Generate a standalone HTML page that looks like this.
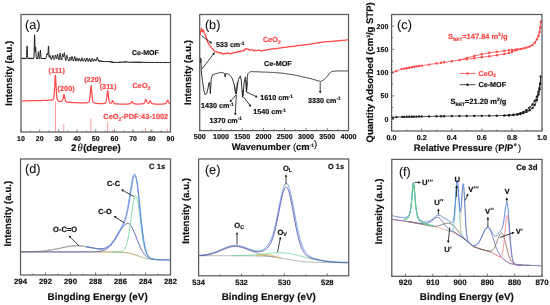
<!DOCTYPE html>
<html><head><meta charset="utf-8"><style>
html,body{margin:0;padding:0;background:#fff;}
svg{display:block;will-change:transform;}
text{font-family:"Liberation Sans", sans-serif;text-rendering:geometricPrecision;}
</style></head><body>
<svg width="550" height="305" viewBox="0 0 550 305" font-family='"Liberation Sans", sans-serif'>
<rect width="550" height="305" fill="#fff"/>
<line x1="55.5" y1="132" x2="55.5" y2="101.5" stroke="#ff7a7a" stroke-width="0.75" />
<line x1="63.8" y1="132" x2="63.8" y2="123.9" stroke="#ff7a7a" stroke-width="0.75" />
<line x1="90.9" y1="132" x2="90.9" y2="118.5" stroke="#ff7a7a" stroke-width="0.75" />
<line x1="107.6" y1="132" x2="107.6" y2="122.2" stroke="#ff7a7a" stroke-width="0.75" />
<line x1="112.6" y1="132" x2="112.6" y2="129.8" stroke="#ff7a7a" stroke-width="0.75" />
<line x1="132.8" y1="132" x2="132.8" y2="130.3" stroke="#ff7a7a" stroke-width="0.75" />
<line x1="145.6" y1="132" x2="145.6" y2="128.1" stroke="#ff7a7a" stroke-width="0.75" />
<line x1="150.4" y1="132" x2="150.4" y2="129.8" stroke="#ff7a7a" stroke-width="0.75" />
<line x1="167.4" y1="132" x2="167.4" y2="129" stroke="#ff7a7a" stroke-width="0.75" />
<path d="M21.5,58.04 L21.62,58.35 L21.75,58.18 L21.87,58.41 L22,58.43 L22.12,57.87 L22.25,57.82 L22.37,58.65 L22.49,58.07 L22.62,58.05 L22.74,58.81 L22.87,58.29 L22.99,58.65 L23.11,58.29 L23.24,58.46 L23.36,57.97 L23.49,58.46 L23.61,58.69 L23.73,58.35 L23.86,58.57 L23.98,58.5 L24.11,57.89 L24.23,58.59 L24.36,58.42 L24.48,58.13 L24.6,57.86 L24.73,58.7 L24.85,58.3 L24.98,58.55 L25.1,58.71 L25.23,58.55 L25.35,58.76 L25.47,58.23 L25.6,58.64 L25.72,58.28 L25.85,58.77 L25.97,58.71 L26.09,57.9 L26.22,57.81 L26.34,57.55 L26.47,57.48 L26.59,55.36 L26.71,53.05 L26.84,49.69 L26.96,47.22 L27.09,45.9 L27.21,46.68 L27.34,49.37 L27.46,52.43 L27.58,55.4 L27.71,56.96 L27.83,58.16 L27.96,58.5 L28.08,58.79 L28.2,58.52 L28.33,58.02 L28.45,58.72 L28.58,58.83 L28.7,58.77 L28.83,58.43 L28.95,58.58 L29.07,58.08 L29.2,58.7 L29.32,58.44 L29.45,58.16 L29.57,57.93 L29.7,58.73 L29.82,58.86 L29.94,57.96 L30.07,58.68 L30.19,58.29 L30.32,58.03 L30.44,58.17 L30.56,58.65 L30.69,58.75 L30.81,57.93 L30.94,58.5 L31.06,57.93 L31.19,58.6 L31.31,58.22 L31.43,58.77 L31.56,58.87 L31.68,58.39 L31.81,58.89 L31.93,58.2 L32.05,57.97 L32.18,58.49 L32.3,57.93 L32.43,58.09 L32.55,58.3 L32.67,58.51 L32.8,58.05 L32.92,57.94 L33.05,58.77 L33.17,58.22 L33.3,58.86 L33.42,58.8 L33.54,58.26 L33.67,58.27 L33.79,58.05 L33.92,57.33 L34.04,55.24 L34.16,51.29 L34.29,45.56 L34.41,39.62 L34.54,34.98 L34.66,34.83 L34.79,39.09 L34.91,44.37 L35.03,49.16 L35.16,51.91 L35.28,50.97 L35.41,49.22 L35.53,47.2 L35.66,47.58 L35.78,49.36 L35.9,51.39 L36.03,54.58 L36.15,56.54 L36.28,57.12 L36.4,58.24 L36.52,58.3 L36.65,58.59 L36.77,58.28 L36.9,58.64 L37.02,58.67 L37.14,57.96 L37.27,57.99 L37.39,58.59 L37.52,58.81 L37.64,57.92 L37.77,57.7 L37.89,56.99 L38.01,55.4 L38.14,53.83 L38.26,52.36 L38.39,51.78 L38.51,52.43 L38.64,53.43 L38.76,55.13 L38.88,56.93 L39.01,57.13 L39.13,58.18 L39.26,58.57 L39.38,58.21 L39.5,58.07 L39.63,58.46 L39.75,57.39 L39.88,56.34 L40,54.98 L40.12,53.23 L40.25,50.78 L40.37,50.05 L40.5,50.46 L40.62,52.51 L40.75,54.15 L40.87,56.4 L40.99,56.97 L41.12,57.83 L41.24,58.46 L41.37,58.81 L41.49,58.41 L41.61,58.19 L41.74,58.09 L41.86,58.5 L41.99,58.17 L42.11,58.78 L42.24,58.82 L42.36,58.16 L42.48,58.26 L42.61,58.79 L42.73,58.62 L42.86,58.79 L42.98,58.33 L43.11,58.11 L43.23,58.28 L43.35,58.78 L43.48,58.26 L43.6,58.33 L43.73,58.41 L43.85,58.41 L43.97,58.4 L44.1,58.91 L44.22,58.15 L44.35,58 L44.47,58.94 L44.59,58.88 L44.72,58.98 L44.84,58.43 L44.97,58.94 L45.09,58.93 L45.22,58.23 L45.34,58.74 L45.46,58.81 L45.59,58.59 L45.71,58.35 L45.84,57.98 L45.96,57.8 L46.09,57.37 L46.21,56.8 L46.33,56.79 L46.46,55.88 L46.58,55.73 L46.71,54.29 L46.83,54.52 L46.95,53.81 L47.08,53.72 L47.2,53.6 L47.33,53.74 L47.45,53.77 L47.58,53.7 L47.7,54.93 L47.82,54.58 L47.95,54.26 L48.07,53.09 L48.2,50.34 L48.32,47.31 L48.44,45.98 L48.57,45.98 L48.69,48.14 L48.82,51.41 L48.94,54.95 L49.06,56.34 L49.19,57.32 L49.31,56.83 L49.44,56.28 L49.56,56.14 L49.69,56.01 L49.81,55.12 L49.93,55.7 L50.06,56.03 L50.18,56.29 L50.31,56.83 L50.43,56.59 L50.55,57.77 L50.68,58.49 L50.8,58.07 L50.93,58.59 L51.05,58.79 L51.18,59.18 L51.3,59.14 L51.42,59.22 L51.55,59.5 L51.67,58.66 L51.8,58.57 L51.92,58.42 L52.05,58.08 L52.17,57.58 L52.29,57.95 L52.42,57.23 L52.54,55.87 L52.67,55.8 L52.79,55.3 L52.91,55.22 L53.04,55.42 L53.16,56.11 L53.29,56.6 L53.41,57 L53.53,57.46 L53.66,58.15 L53.78,58.39 L53.91,59.14 L54.03,59.51 L54.16,59.26 L54.28,58.95 L54.4,58.92 L54.53,58.86 L54.65,58.7 L54.78,58.35 L54.9,57.31 L55.02,57.02 L55.15,56.15 L55.27,55.39 L55.4,54.96 L55.52,55 L55.65,55.41 L55.77,55.59 L55.89,56.5 L56.02,56.98 L56.14,57.44 L56.27,58.29 L56.39,58.82 L56.52,58.35 L56.64,58.63 L56.76,58.31 L56.89,58.23 L57.01,57.59 L57.14,56.24 L57.26,56 L57.38,55.26 L57.51,54.35 L57.63,54.48 L57.76,54.4 L57.88,55.64 L58.01,56.23 L58.13,57.29 L58.25,58 L58.38,58.59 L58.5,59.21 L58.63,59.44 L58.75,59.21 L58.87,59.79 L59,59.15 L59.12,59.07 L59.25,59.32 L59.37,58.01 L59.49,57.3 L59.62,56.4 L59.74,56.2 L59.87,54.56 L59.99,53.66 L60.12,54.03 L60.24,53.25 L60.36,54.3 L60.49,54.81 L60.61,55.88 L60.74,56.99 L60.86,57.58 L60.98,58.63 L61.11,58.52 L61.23,59.7 L61.36,59.69 L61.48,59.96 L61.61,59.23 L61.73,59.56 L61.85,59.24 L61.98,57.68 L62.1,57.09 L62.23,56.4 L62.35,55.76 L62.48,54.43 L62.6,53.89 L62.72,53.83 L62.85,54.44 L62.97,55.11 L63.1,55.47 L63.22,56.18 L63.34,56.8 L63.47,57.06 L63.59,57.07 L63.72,56.31 L63.84,56 L63.97,55.56 L64.09,54.08 L64.21,53.68 L64.34,52.68 L64.46,53.24 L64.59,53.77 L64.71,54.52 L64.83,55.42 L64.96,56.53 L65.08,57.77 L65.21,58.95 L65.33,58.92 L65.45,59.37 L65.58,60.33 L65.7,60.64 L65.83,60.22 L65.95,59.97 L66.08,59.92 L66.2,58.91 L66.32,58.36 L66.45,57.55 L66.57,57.16 L66.7,56.17 L66.82,55.54 L66.94,55.72 L67.07,56.01 L67.19,55.69 L67.32,56.69 L67.44,57.15 L67.57,58.39 L67.69,58.87 L67.81,59.19 L67.94,59.65 L68.06,59.82 L68.19,60.51 L68.31,60.57 L68.44,60.43 L68.56,60.64 L68.68,60.57 L68.81,60.94 L68.93,60.15 L69.06,60.74 L69.18,59.87 L69.3,59.52 L69.43,58.84 L69.55,58.62 L69.68,58.05 L69.8,57.35 L69.92,57.02 L70.05,57.24 L70.17,57.59 L70.3,57.55 L70.42,58.43 L70.55,59.24 L70.67,59.28 L70.79,59.47 L70.92,59.74 L71.04,60.31 L71.17,60.15 L71.29,60.12 L71.41,59.54 L71.54,58.32 L71.66,57.61 L71.79,57.05 L71.91,56.49 L72.04,56.74 L72.16,56.89 L72.28,57.2 L72.41,57.05 L72.53,58.3 L72.66,58.44 L72.78,59.2 L72.91,60.06 L73.03,59.85 L73.15,60.15 L73.28,61.07 L73.4,60.58 L73.53,60.6 L73.65,60.65 L73.77,60.45 L73.9,59.36 L74.02,59.14 L74.15,58.6 L74.27,57.97 L74.4,57.07 L74.52,56.97 L74.64,57.08 L74.77,56.53 L74.89,56.97 L75.02,57.05 L75.14,57.84 L75.26,58.91 L75.39,59 L75.51,60.3 L75.64,60.71 L75.76,60.14 L75.88,61.08 L76.01,60.46 L76.13,60.67 L76.26,60.34 L76.38,59.48 L76.51,59.39 L76.63,58.91 L76.75,58.66 L76.88,57.86 L77,58.25 L77.13,58.57 L77.25,58.56 L77.38,58.83 L77.5,58.89 L77.62,59.74 L77.75,60.03 L77.87,60.74 L78,60.94 L78.12,60.98 L78.24,60.66 L78.37,61.09 L78.49,60.96 L78.62,60.29 L78.74,60.7 L78.87,60.09 L78.99,59.12 L79.11,59.49 L79.24,58.32 L79.36,58.24 L79.49,58.52 L79.61,58.47 L79.73,58.67 L79.86,59.13 L79.98,59.38 L80.11,59.68 L80.23,59.95 L80.35,60.17 L80.48,61.06 L80.6,61.24 L80.73,61.08 L80.85,61.23 L80.98,60.71 L81.1,60.38 L81.22,60.14 L81.35,60.19 L81.47,58.84 L81.6,58.78 L81.72,58.05 L81.84,58.23 L81.97,57.66 L82.09,57.7 L82.22,58.03 L82.34,58.59 L82.47,59.34 L82.59,59.45 L82.71,60.44 L82.84,60.11 L82.96,60.58 L83.09,60.6 L83.21,60.72 L83.34,61.39 L83.46,61.26 L83.58,60.54 L83.71,60.28 L83.83,60.17 L83.96,60.09 L84.08,59.75 L84.2,59.29 L84.33,58.85 L84.45,58.26 L84.58,58.53 L84.7,58.52 L84.83,59.18 L84.95,59.62 L85.07,59.68 L85.2,60.13 L85.32,60.99 L85.45,60.49 L85.57,61.42 L85.69,61.58 L85.82,61.62 L85.94,60.94 L86.07,60.9 L86.19,60.61 L86.31,60.25 L86.44,60.1 L86.56,59.29 L86.69,58.41 L86.81,58.59 L86.94,58.01 L87.06,58.13 L87.18,58.46 L87.31,58.12 L87.43,59.38 L87.56,59.8 L87.68,60.13 L87.81,60.59 L87.93,60.85 L88.05,60.81 L88.18,61.27 L88.3,60.81 L88.43,61.22 L88.55,61.22 L88.67,60.78 L88.8,60.58 L88.92,60.6 L89.05,60.12 L89.17,58.97 L89.3,59.31 L89.42,58.96 L89.54,58.36 L89.67,58.82 L89.79,58.98 L89.92,59.2 L90.04,60.08 L90.16,60.86 L90.29,60.59 L90.41,61.4 L90.54,61.4 L90.66,60.92 L90.78,61.65 L90.91,61.31 L91.03,61.46 L91.16,60.99 L91.28,60.66 L91.41,59.84 L91.53,59.83 L91.65,59.51 L91.78,59.06 L91.9,58.4 L92.03,58.66 L92.15,58.51 L92.28,58.42 L92.4,58.76 L92.52,59.24 L92.65,59.81 L92.77,60.15 L92.9,60.79 L93.02,61.2 L93.14,61.17 L93.27,61.09 L93.39,61.28 L93.52,60.83 L93.64,60.8 L93.77,60.83 L93.89,60.16 L94.01,59.59 L94.14,59.96 L94.26,59.48 L94.39,58.93 L94.51,58.87 L94.63,59.1 L94.76,59.37 L94.88,59.29 L95.01,59.41 L95.13,59.95 L95.25,60.82 L95.38,60.42 L95.5,60.92 L95.63,60.77 L95.75,60.85 L95.88,60.84 L96,61.06 L96.12,60.77 L96.25,60.5 L96.37,60.38 L96.5,60.11 L96.62,59.99 L96.75,59 L96.87,58.33 L96.99,58.15 L97.12,57.62 L97.24,57.64 L97.37,56.99 L97.49,57.61 L97.61,58.09 L97.74,58.32 L97.86,59.87 L97.99,59.67 L98.11,59.97 L98.23,60.65 L98.36,60.53 L98.48,61.09 L98.61,60.87 L98.73,60.68 L98.86,60.61 L98.98,61.29 L99.1,60.83 L99.23,61.33 L99.35,61 L99.48,61.46 L99.6,60.82 L99.72,60.77 L99.85,60.77 L99.97,61.32 L100.1,61.1 L100.22,60.91 L100.35,60.75 L100.47,61.17 L100.59,61.38 L100.72,61.13 L100.84,60.73 L100.97,60.75 L101.09,60.81 L101.22,60.87 L101.34,60.79 L101.46,60.81 L101.59,61.25 L101.71,61.43 L101.84,60.95 L101.96,61.5 L102.08,61.16 L102.21,61.4 L102.33,61.49 L102.46,61.52 L102.58,60.9 L102.7,61.1 L102.83,61.32 L102.95,61.57 L103.08,60.98 L103.2,61.13 L103.33,61.53 L103.45,61.03 L103.57,61.23 L103.7,61.2 L103.82,61.46 L103.95,61.64 L104.07,61.13 L104.19,61.53 L104.32,61.54 L104.44,61.62 L104.57,61.43 L104.69,61.7 L104.82,61.32 L104.94,61.37 L105.06,61.25 L105.19,61.65 L105.31,61.45 L105.44,61.31 L105.56,61.25 L105.69,61.65 L105.81,61.58 L105.93,61.66 L106.06,61.45 L106.18,61.53 L106.31,61.3 L106.43,61.7 L106.55,61.23 L106.68,61.56 L106.8,61.77 L106.93,61.72 L107.05,61.33 L107.17,61.44 L107.3,61.87 L107.42,61.74 L107.55,61.92 L107.67,61.93 L107.8,61.64 L107.92,61.96 L108.04,61.86 L108.17,61.59 L108.29,61.63 L108.42,61.43 L108.54,61.67 L108.67,62.07 L108.79,61.49 L108.91,61.82 L109.04,61.51 L109.16,61.5 L109.29,61.91 L109.41,61.63 L109.53,61.51 L109.66,61.59 L109.78,61.95 L109.91,61.92 L110.03,61.53 L110.16,61.69 L110.28,62.22 L110.4,61.71 L110.53,61.96 L110.65,61.87 L110.78,62.13 L110.9,62.02 L111.02,62.16 L111.15,61.99 L111.27,61.76 L111.4,61.76 L111.52,61.7 L111.64,62.24 L111.77,61.75 L111.89,61.7 L112.02,62.37 L112.14,61.84 L112.27,62.34 L112.39,61.78 L112.51,62.06 L112.64,61.9 L112.76,62.34 L112.89,62.2 L113.01,62.23 L113.14,62.32 L113.26,62.41 L113.38,62.05 L113.51,62.24 L113.63,62.14 L113.76,61.92 L113.88,62.44 L114,62.28 L114.13,62.44 L114.25,62.03 L114.38,62.27 L114.5,62.23 L114.62,62.43 L114.75,61.98 L114.87,62.18 L115,62.29 L115.12,62 L115.25,62.33 L115.37,62.45 L115.49,62.23 L115.62,62.39 L115.74,62.35 L115.87,62.07 L115.99,62.17 L116.11,62.61 L116.24,62.15 L116.36,62.21 L116.49,61.96 L116.61,62.05 L116.74,62.01 L116.86,62.55 L116.98,62.4 L117.11,62.5 L117.23,62.57 L117.36,62.31 L117.48,62.53 L117.61,62.25 L117.73,62.16 L117.85,62.53 L117.98,62.49 L118.1,62.52 L118.23,62.19 L118.35,62.39 L118.47,62.13 L118.6,62.54 L118.72,62.48 L118.85,62.04 L118.97,62.48 L119.09,61.96 L119.22,61.89 L119.34,62.33 L119.47,62.02 L119.59,62.18 L119.72,62.26 L119.84,61.83 L119.96,62.32 L120.09,61.99 L120.21,62.1 L120.34,62.03 L120.46,62.31 L120.58,62.31 L120.71,61.98 L120.83,61.85 L120.96,61.98 L121.08,62.06 L121.21,61.82 L121.33,61.87 L121.45,62.29 L121.58,62.24 L121.7,62.43 L121.83,62.43 L121.95,62.35 L122.08,62 L122.2,61.85 L122.32,61.95 L122.45,62.05 L122.57,62.09 L122.7,62.1 L122.82,61.97 L122.94,62.31 L123.07,61.91 L123.19,62.03 L123.32,62.32 L123.44,62.26 L123.56,61.9 L123.69,61.86 L123.81,62.25 L123.94,61.69 L124.06,61.77 L124.19,62.05 L124.31,62.05 L124.43,61.78 L124.56,61.7 L124.68,61.8 L124.81,62.19 L124.93,61.98 L125.06,62.34 L125.18,62.2 L125.3,62.34 L125.43,61.68 L125.55,61.79 L125.68,61.67 L125.8,61.96 L125.92,61.9 L126.05,61.7 L126.17,62.05 L126.3,61.73 L126.42,61.89 L126.55,61.84 L126.67,62.23 L126.79,61.97 L126.92,61.86 L127.04,61.71 L127.17,61.98 L127.29,62.12 L127.41,62.15 L127.54,62.32 L127.66,62.25 L127.79,61.86 L127.91,61.78 L128.03,62.22 L128.16,62.24 L128.28,62.05 L128.41,62.28 L128.53,62.08 L128.66,61.89 L128.78,61.82 L128.9,61.71 L129.03,62.15 L129.15,62.33 L129.28,62.34 L129.4,62.04 L129.53,62.18 L129.65,62.36 L129.77,62.28 L129.9,62.14 L130.02,62.01 L130.15,62.08 L130.27,61.84 L130.39,61.85 L130.52,62.2 L130.64,62.42 L130.77,62.11 L130.89,62.01 L131.01,61.98 L131.14,62.05 L131.26,62.29 L131.39,62.05 L131.51,62.41 L131.64,61.85 L131.76,61.96 L131.88,62.11 L132.01,62.03 L132.13,62.34 L132.26,62.33 L132.38,62.4 L132.5,62.18 L132.63,61.77 L132.75,62.15 L132.88,62.14 L133,62.1 L133.13,61.95 L133.25,62.26 L133.37,62.4 L133.5,61.83 L133.62,62.23 L133.75,62.03 L133.87,62.13 L134,62.4 L134.12,62.44 L134.24,62.22 L134.37,61.91 L134.49,62.42 L134.62,61.9 L134.74,62.05 L134.86,62.36 L134.99,62 L135.11,61.97 L135.24,62.45 L135.36,62.45 L135.49,62.01 L135.61,62.06 L135.73,61.99 L135.86,61.89 L135.98,61.97 L136.11,62.48 L136.23,61.85 L136.35,61.96 L136.48,61.94 L136.6,61.86 L136.73,62.17 L136.85,62.33 L136.97,62.39 L137.1,62.25 L137.22,62.38 L137.35,61.82 L137.47,62.01 L137.6,62.49 L137.72,61.87 L137.84,62.01 L137.97,62.16 L138.09,62.01 L138.22,62.21 L138.34,61.86 L138.47,61.99 L138.59,62.5 L138.71,61.93 L138.84,62.47 L138.96,61.96 L139.09,62.53 L139.21,62.31 L139.33,62.29 L139.46,61.94 L139.58,61.88 L139.71,62.38 L139.83,61.97 L139.95,61.98 L140.08,62.42 L140.2,62.46 L140.33,61.89 L140.45,62.53 L140.58,62.23 L140.7,62.12 L140.82,61.93 L140.95,62.13 L141.07,62.55 L141.2,62.06 L141.32,61.96 L141.44,61.97 L141.57,61.96 L141.69,62.12 L141.82,62.51 L141.94,61.93 L142.07,62.01 L142.19,62.53 L142.31,62.58 L142.44,62.57 L142.56,62.05 L142.69,62.13 L142.81,62.55 L142.94,62.23 L143.06,62.38 L143.18,62.11 L143.31,61.91 L143.43,62.13 L143.56,62.42 L143.68,62.44 L143.8,62.3 L143.93,62.22 L144.05,62.28 L144.18,62.21 L144.3,62.28 L144.43,62.49 L144.55,62.05 L144.67,62.33 L144.8,62.56 L144.92,62.51 L145.05,62.04 L145.17,62.59 L145.29,62.51 L145.42,62.04 L145.54,62.11 L145.67,62.06 L145.79,61.96 L145.92,62.61 L146.04,62.21 L146.16,62.54 L146.29,62.01 L146.41,61.94 L146.54,62.54 L146.66,62.49 L146.78,62.63 L146.91,62.42 L147.03,62.31 L147.16,62.48 L147.28,62.01 L147.41,62.32 L147.53,62.26 L147.65,62.05 L147.78,62.37 L147.9,62.18 L148.03,62.31 L148.15,62.22 L148.27,62.18 L148.4,62.21 L148.52,62.38 L148.65,62.65 L148.77,62.62 L148.89,62.57 L149.02,62.55 L149.14,62.17 L149.27,62.65 L149.39,62.16 L149.52,62.06 L149.64,62.33 L149.76,62.49 L149.89,62.22 L150.01,62.43 L150.14,62.18 L150.26,62.66 L150.38,62.3 L150.51,62.32 L150.63,62.36 L150.76,62.6 L150.88,62.68 L151.01,62.36 L151.13,62.3 L151.25,62.43 L151.38,62.05 L151.5,62.3 L151.63,62.59 L151.75,62.55 L151.88,62.05 L152,62.6 L152.12,62.28 L152.25,62.7 L152.37,62.27 L152.5,62.16 L152.62,62.4 L152.74,62.63 L152.87,62.32 L152.99,62.63 L153.12,62.52 L153.24,62.28 L153.37,62.23 L153.49,62.38 L153.61,62.31 L153.74,62.29 L153.86,62.49 L153.99,62.64 L154.11,62.44 L154.23,62.14 L154.36,62.19 L154.48,62.3 L154.61,62.47 L154.73,62.14 L154.85,62.1 L154.98,62.27 L155.1,62.25 L155.23,62.07 L155.35,62.43 L155.48,62.7 L155.6,62.43 L155.72,62.57 L155.85,62.64 L155.97,62.64 L156.1,62.7 L156.22,62.37 L156.34,62.54 L156.47,62.15 L156.59,62.68 L156.72,62.33 L156.84,62.4 L156.97,62.69 L157.09,62.27 L157.21,62.21 L157.34,62.65 L157.46,62.5 L157.59,62.14 L157.71,62.1 L157.84,62.33 L157.96,62.09 L158.08,62.67 L158.21,62.22 L158.33,62.28 L158.46,62.36 L158.58,62.45 L158.7,62.4 L158.83,62.54 L158.95,62.56 L159.08,62.4 L159.2,62.17 L159.32,62.79 L159.45,62.59 L159.57,62.16 L159.7,62.42 L159.82,62.64 L159.95,62.81 L160.07,62.16 L160.19,62.12 L160.32,62.45 L160.44,62.41 L160.57,62.75 L160.69,62.7 L160.81,62.35 L160.94,62.42 L161.06,62.53 L161.19,62.75 L161.31,62.27 L161.44,62.4 L161.56,62.19 L161.68,62.58 L161.81,62.15 L161.93,62.79 L162.06,62.51 L162.18,62.54 L162.31,62.2 L162.43,62.31 L162.55,62.47 L162.68,62.75 L162.8,62.53 L162.93,62.35 L163.05,62.84 L163.17,62.62 L163.3,62.52 L163.42,62.3 L163.55,62.37 L163.67,62.79 L163.79,62.25 L163.92,62.54 L164.04,62.6 L164.17,62.41 L164.29,62.71 L164.42,62.81 L164.54,62.77 L164.66,62.69 L164.79,62.32 L164.91,62.22 L165.04,62.48 L165.16,62.4 L165.28,62.32 L165.41,62.79 L165.53,62.34 L165.66,62.76 L165.78,62.84 L165.91,62.27 L166.03,62.83 L166.15,62.47 L166.28,62.34 L166.4,62.33 L166.53,62.22 L166.65,62.55 L166.78,62.47 L166.9,62.8 L167.02,62.79 L167.15,62.25 L167.27,62.49 L167.4,62.48 L167.52,62.34 L167.64,62.39 L167.77,62.4 L167.89,62.7 L168.02,62.46 L168.14,62.3 L168.26,62.37 L168.39,62.53 L168.51,62.62 L168.64,62.4 L168.76,62.72 L168.89,62.38 L169.01,62.7 L169.13,62.66 L169.26,62.36 L169.38,62.76 L169.51,62.51 L169.63,62.62 L169.75,62.66 L169.88,62.68 L170,62.55 L170.13,62.28 L170.25,62.8 L170.38,62.85 L170.5,62.59" fill="none" stroke="#1e1e1e" stroke-width="1.0" stroke-linejoin="round" />
<path d="M21.5,100.88 L21.62,100.88 L21.75,100.88 L21.87,100.87 L22,100.87 L22.12,100.87 L22.25,100.87 L22.37,100.87 L22.49,100.86 L22.62,100.86 L22.74,100.86 L22.87,100.86 L22.99,100.86 L23.11,100.85 L23.24,100.85 L23.36,100.85 L23.49,100.85 L23.61,100.85 L23.73,100.84 L23.86,100.84 L23.98,100.84 L24.11,100.84 L24.23,100.84 L24.36,100.83 L24.48,100.83 L24.6,100.83 L24.73,100.83 L24.85,100.82 L24.98,100.82 L25.1,100.82 L25.23,100.82 L25.35,100.82 L25.47,100.81 L25.6,100.81 L25.72,100.81 L25.85,100.81 L25.97,100.81 L26.09,100.8 L26.22,100.8 L26.34,100.8 L26.47,100.8 L26.59,100.8 L26.71,100.79 L26.84,100.79 L26.96,100.79 L27.09,100.79 L27.21,100.79 L27.34,100.78 L27.46,100.78 L27.58,100.78 L27.71,100.78 L27.83,100.78 L27.96,100.77 L28.08,100.77 L28.2,100.77 L28.33,100.77 L28.45,100.76 L28.58,100.76 L28.7,100.76 L28.83,100.76 L28.95,100.76 L29.07,100.75 L29.2,100.75 L29.32,100.75 L29.45,100.75 L29.57,100.75 L29.7,100.74 L29.82,100.74 L29.94,100.74 L30.07,100.74 L30.19,100.74 L30.32,100.73 L30.44,100.73 L30.56,100.73 L30.69,100.73 L30.81,100.72 L30.94,100.72 L31.06,100.72 L31.19,100.72 L31.31,100.72 L31.43,100.71 L31.56,100.71 L31.68,100.71 L31.81,100.71 L31.93,100.71 L32.05,100.7 L32.18,100.7 L32.3,100.7 L32.43,100.7 L32.55,100.69 L32.67,100.69 L32.8,100.69 L32.92,100.69 L33.05,100.69 L33.17,100.68 L33.3,100.68 L33.42,100.68 L33.54,100.68 L33.67,100.67 L33.79,100.67 L33.92,100.67 L34.04,100.67 L34.16,100.67 L34.29,100.66 L34.41,100.66 L34.54,100.66 L34.66,100.66 L34.79,100.65 L34.91,100.65 L35.03,100.65 L35.16,100.65 L35.28,100.65 L35.41,100.64 L35.53,100.64 L35.66,100.64 L35.78,100.64 L35.9,100.63 L36.03,100.63 L36.15,100.63 L36.28,100.63 L36.4,100.62 L36.52,100.62 L36.65,100.62 L36.77,100.62 L36.9,100.62 L37.02,100.61 L37.14,100.61 L37.27,100.61 L37.39,100.61 L37.52,100.6 L37.64,100.6 L37.77,100.6 L37.89,100.6 L38.01,100.59 L38.14,100.59 L38.26,100.59 L38.39,100.59 L38.51,100.58 L38.64,100.58 L38.76,100.58 L38.88,100.58 L39.01,100.57 L39.13,100.57 L39.26,100.57 L39.38,100.57 L39.5,100.56 L39.63,100.56 L39.75,100.56 L39.88,100.56 L40,100.55 L40.12,100.55 L40.25,100.55 L40.37,100.54 L40.5,100.54 L40.62,100.54 L40.75,100.53 L40.87,100.53 L40.99,100.53 L41.12,100.52 L41.24,100.52 L41.37,100.52 L41.49,100.51 L41.61,100.51 L41.74,100.51 L41.86,100.5 L41.99,100.5 L42.11,100.5 L42.24,100.49 L42.36,100.49 L42.48,100.49 L42.61,100.48 L42.73,100.48 L42.86,100.48 L42.98,100.47 L43.11,100.47 L43.23,100.46 L43.35,100.46 L43.48,100.46 L43.6,100.45 L43.73,100.45 L43.85,100.44 L43.97,100.44 L44.1,100.44 L44.22,100.43 L44.35,100.43 L44.47,100.42 L44.59,100.42 L44.72,100.42 L44.84,100.41 L44.97,100.41 L45.09,100.4 L45.22,100.4 L45.34,100.39 L45.46,100.39 L45.59,100.38 L45.71,100.38 L45.84,100.37 L45.96,100.37 L46.09,100.36 L46.21,100.36 L46.33,100.35 L46.46,100.35 L46.58,100.34 L46.71,100.33 L46.83,100.33 L46.95,100.32 L47.08,100.32 L47.2,100.31 L47.33,100.3 L47.45,100.3 L47.58,100.29 L47.7,100.28 L47.82,100.27 L47.95,100.27 L48.07,100.26 L48.2,100.25 L48.32,100.24 L48.44,100.23 L48.57,100.22 L48.69,100.21 L48.82,100.2 L48.94,100.19 L49.06,100.18 L49.19,100.17 L49.31,100.16 L49.44,100.15 L49.56,100.13 L49.69,100.12 L49.81,100.1 L49.93,100.09 L50.06,100.09 L50.18,100.1 L50.31,100.11 L50.43,100.12 L50.55,100.13 L50.68,100.13 L50.8,100.14 L50.93,100.14 L51.05,100.15 L51.18,100.15 L51.3,100.14 L51.42,100.14 L51.55,100.13 L51.67,100.12 L51.8,100.1 L51.92,100.08 L52.05,100.06 L52.17,100.03 L52.29,99.99 L52.42,99.95 L52.54,99.89 L52.67,99.82 L52.79,99.74 L52.91,99.64 L53.04,99.5 L53.16,99.33 L53.29,99.11 L53.41,98.82 L53.53,98.45 L53.66,97.97 L53.78,97.36 L53.91,96.57 L54.03,95.6 L54.16,94.4 L54.28,92.96 L54.4,91.25 L54.53,89.28 L54.65,87.06 L54.78,84.63 L54.9,82.07 L55.02,79.56 L55.15,77.36 L55.27,75.81 L55.4,75.25 L55.52,75.82 L55.65,77.38 L55.77,79.61 L55.89,82.17 L56.02,84.78 L56.14,87.27 L56.27,89.55 L56.39,91.58 L56.52,93.35 L56.64,94.85 L56.76,96.11 L56.89,97.15 L57.01,97.98 L57.14,98.64 L57.26,99.15 L57.38,99.56 L57.51,99.88 L57.63,100.13 L57.76,100.33 L57.88,100.5 L58.01,100.63 L58.13,100.75 L58.25,100.84 L58.38,100.93 L58.5,101 L58.63,101.07 L58.75,101.13 L58.87,101.18 L59,101.23 L59.12,101.27 L59.25,101.31 L59.37,101.34 L59.49,101.37 L59.62,101.4 L59.74,101.42 L59.87,101.44 L59.99,101.46 L60.12,101.48 L60.24,101.49 L60.36,101.5 L60.49,101.51 L60.61,101.52 L60.74,101.52 L60.86,101.52 L60.98,101.52 L61.11,101.51 L61.23,101.49 L61.36,101.47 L61.48,101.44 L61.61,101.41 L61.73,101.35 L61.85,101.29 L61.98,101.19 L62.1,101.08 L62.23,100.93 L62.35,100.73 L62.48,100.5 L62.6,100.2 L62.72,99.85 L62.85,99.43 L62.97,98.94 L63.1,98.38 L63.22,97.75 L63.34,97.08 L63.47,96.37 L63.59,95.67 L63.72,95.05 L63.84,94.59 L63.97,94.38 L64.09,94.45 L64.21,94.8 L64.34,95.36 L64.46,96.05 L64.59,96.77 L64.71,97.49 L64.83,98.17 L64.96,98.78 L65.08,99.33 L65.21,99.81 L65.33,100.23 L65.45,100.58 L65.58,100.87 L65.7,101.11 L65.83,101.3 L65.95,101.46 L66.08,101.59 L66.2,101.69 L66.32,101.77 L66.45,101.84 L66.57,101.9 L66.7,101.95 L66.82,101.99 L66.94,102.03 L67.07,102.06 L67.19,102.09 L67.32,102.12 L67.44,102.15 L67.57,102.17 L67.69,102.19 L67.81,102.21 L67.94,102.23 L68.06,102.25 L68.19,102.27 L68.31,102.28 L68.44,102.3 L68.56,102.31 L68.68,102.33 L68.81,102.34 L68.93,102.36 L69.06,102.37 L69.18,102.38 L69.3,102.39 L69.43,102.41 L69.55,102.42 L69.68,102.43 L69.8,102.44 L69.92,102.45 L70.05,102.46 L70.17,102.47 L70.3,102.47 L70.42,102.48 L70.55,102.49 L70.67,102.49 L70.79,102.5 L70.92,102.51 L71.04,102.51 L71.17,102.52 L71.29,102.53 L71.41,102.53 L71.54,102.54 L71.66,102.54 L71.79,102.55 L71.91,102.55 L72.04,102.56 L72.16,102.56 L72.28,102.57 L72.41,102.57 L72.53,102.58 L72.66,102.58 L72.78,102.59 L72.91,102.59 L73.03,102.6 L73.15,102.6 L73.28,102.61 L73.4,102.61 L73.53,102.62 L73.65,102.62 L73.77,102.63 L73.9,102.63 L74.02,102.64 L74.15,102.64 L74.27,102.64 L74.4,102.65 L74.52,102.65 L74.64,102.66 L74.77,102.66 L74.89,102.67 L75.02,102.67 L75.14,102.67 L75.26,102.68 L75.39,102.68 L75.51,102.69 L75.64,102.69 L75.76,102.69 L75.88,102.7 L76.01,102.7 L76.13,102.71 L76.26,102.71 L76.38,102.71 L76.51,102.72 L76.63,102.72 L76.75,102.72 L76.88,102.73 L77,102.73 L77.13,102.74 L77.25,102.74 L77.38,102.74 L77.5,102.75 L77.62,102.75 L77.75,102.75 L77.87,102.76 L78,102.76 L78.12,102.76 L78.24,102.77 L78.37,102.77 L78.49,102.77 L78.62,102.78 L78.74,102.78 L78.87,102.78 L78.99,102.79 L79.11,102.79 L79.24,102.79 L79.36,102.8 L79.49,102.8 L79.61,102.8 L79.73,102.8 L79.86,102.81 L79.98,102.81 L80.11,102.81 L80.23,102.82 L80.35,102.82 L80.48,102.82 L80.6,102.82 L80.73,102.83 L80.85,102.83 L80.98,102.83 L81.1,102.83 L81.22,102.84 L81.35,102.84 L81.47,102.84 L81.6,102.84 L81.72,102.84 L81.84,102.85 L81.97,102.85 L82.09,102.85 L82.22,102.85 L82.34,102.85 L82.47,102.85 L82.59,102.85 L82.71,102.86 L82.84,102.86 L82.96,102.86 L83.09,102.86 L83.21,102.86 L83.34,102.86 L83.46,102.86 L83.58,102.86 L83.71,102.86 L83.83,102.86 L83.96,102.86 L84.08,102.86 L84.2,102.86 L84.33,102.85 L84.45,102.85 L84.58,102.85 L84.7,102.85 L84.83,102.85 L84.95,102.84 L85.07,102.84 L85.2,102.84 L85.32,102.83 L85.45,102.83 L85.57,102.82 L85.69,102.82 L85.82,102.81 L85.94,102.8 L86.07,102.79 L86.19,102.78 L86.31,102.77 L86.44,102.76 L86.56,102.75 L86.69,102.74 L86.81,102.72 L86.94,102.7 L87.06,102.68 L87.18,102.66 L87.31,102.64 L87.43,102.61 L87.56,102.59 L87.68,102.55 L87.81,102.52 L87.93,102.47 L88.05,102.43 L88.18,102.37 L88.3,102.31 L88.43,102.23 L88.55,102.14 L88.67,102.03 L88.8,101.89 L88.92,101.71 L89.05,101.49 L89.17,101.21 L89.3,100.87 L89.42,100.43 L89.54,99.89 L89.67,99.24 L89.79,98.45 L89.92,97.51 L90.04,96.43 L90.16,95.18 L90.29,93.79 L90.41,92.27 L90.54,90.67 L90.66,89.06 L90.78,87.59 L90.91,86.42 L91.03,85.76 L91.16,85.74 L91.28,86.37 L91.41,87.52 L91.53,89 L91.65,90.62 L91.78,92.24 L91.9,93.78 L92.03,95.19 L92.15,96.46 L92.28,97.57 L92.4,98.53 L92.52,99.34 L92.65,100.02 L92.77,100.57 L92.9,101.03 L93.02,101.39 L93.14,101.68 L93.27,101.92 L93.39,102.1 L93.52,102.26 L93.64,102.38 L93.77,102.49 L93.89,102.58 L94.01,102.65 L94.14,102.72 L94.26,102.78 L94.39,102.83 L94.51,102.88 L94.63,102.92 L94.76,102.96 L94.88,103 L95.01,103.03 L95.13,103.06 L95.25,103.09 L95.38,103.12 L95.5,103.15 L95.63,103.17 L95.75,103.19 L95.88,103.21 L96,103.24 L96.12,103.26 L96.25,103.27 L96.37,103.29 L96.5,103.31 L96.62,103.33 L96.75,103.34 L96.87,103.36 L96.99,103.37 L97.12,103.38 L97.24,103.4 L97.37,103.41 L97.49,103.42 L97.61,103.44 L97.74,103.45 L97.86,103.46 L97.99,103.47 L98.11,103.48 L98.23,103.49 L98.36,103.5 L98.48,103.51 L98.61,103.52 L98.73,103.53 L98.86,103.54 L98.98,103.55 L99.1,103.56 L99.23,103.57 L99.35,103.58 L99.48,103.58 L99.6,103.59 L99.72,103.6 L99.85,103.61 L99.97,103.61 L100.1,103.62 L100.22,103.62 L100.35,103.62 L100.47,103.62 L100.59,103.62 L100.72,103.62 L100.84,103.62 L100.97,103.62 L101.09,103.62 L101.22,103.62 L101.34,103.62 L101.46,103.61 L101.59,103.61 L101.71,103.61 L101.84,103.61 L101.96,103.6 L102.08,103.6 L102.21,103.6 L102.33,103.59 L102.46,103.59 L102.58,103.58 L102.7,103.57 L102.83,103.57 L102.95,103.56 L103.08,103.55 L103.2,103.54 L103.33,103.53 L103.45,103.52 L103.57,103.5 L103.7,103.49 L103.82,103.47 L103.95,103.45 L104.07,103.43 L104.19,103.41 L104.32,103.39 L104.44,103.36 L104.57,103.32 L104.69,103.29 L104.82,103.24 L104.94,103.19 L105.06,103.13 L105.19,103.06 L105.31,102.96 L105.44,102.85 L105.56,102.71 L105.69,102.53 L105.81,102.31 L105.93,102.03 L106.06,101.68 L106.18,101.26 L106.31,100.73 L106.43,100.11 L106.55,99.38 L106.68,98.53 L106.8,97.56 L106.93,96.48 L107.05,95.32 L107.17,94.11 L107.3,92.93 L107.42,91.87 L107.55,91.1 L107.67,90.74 L107.8,90.88 L107.92,91.48 L108.04,92.42 L108.17,93.56 L108.29,94.78 L108.42,95.97 L108.54,97.08 L108.67,98.1 L108.79,99.01 L108.91,99.79 L109.04,100.47 L109.16,101.03 L109.29,101.5 L109.41,101.88 L109.53,102.19 L109.66,102.43 L109.78,102.62 L109.91,102.77 L110.03,102.89 L110.16,102.98 L110.28,103.06 L110.4,103.11 L110.53,103.15 L110.65,103.17 L110.78,103.18 L110.9,103.17 L111.02,103.15 L111.15,103.1 L111.27,103.04 L111.4,102.94 L111.52,102.81 L111.64,102.64 L111.77,102.44 L111.89,102.2 L112.02,101.92 L112.14,101.61 L112.27,101.29 L112.39,100.98 L112.51,100.73 L112.64,100.59 L112.76,100.6 L112.89,100.77 L113.01,101.04 L113.14,101.37 L113.26,101.72 L113.38,102.05 L113.51,102.35 L113.63,102.62 L113.76,102.85 L113.88,103.05 L114,103.21 L114.13,103.34 L114.25,103.44 L114.38,103.52 L114.5,103.59 L114.62,103.64 L114.75,103.68 L114.87,103.71 L115,103.74 L115.12,103.76 L115.25,103.78 L115.37,103.8 L115.49,103.81 L115.62,103.83 L115.74,103.84 L115.87,103.85 L115.99,103.86 L116.11,103.87 L116.24,103.88 L116.36,103.89 L116.49,103.9 L116.61,103.9 L116.74,103.91 L116.86,103.92 L116.98,103.92 L117.11,103.93 L117.23,103.94 L117.36,103.94 L117.48,103.95 L117.61,103.95 L117.73,103.96 L117.85,103.96 L117.98,103.97 L118.1,103.97 L118.23,103.97 L118.35,103.98 L118.47,103.98 L118.6,103.99 L118.72,103.99 L118.85,103.99 L118.97,104 L119.09,104 L119.22,104 L119.34,104.01 L119.47,104.01 L119.59,104.01 L119.72,104.02 L119.84,104.02 L119.96,104.02 L120.09,104.02 L120.21,104.03 L120.34,104.03 L120.46,104.03 L120.58,104.03 L120.71,104.03 L120.83,104.03 L120.96,104.03 L121.08,104.03 L121.21,104.03 L121.33,104.03 L121.45,104.03 L121.58,104.03 L121.7,104.03 L121.83,104.04 L121.95,104.04 L122.08,104.04 L122.2,104.04 L122.32,104.04 L122.45,104.04 L122.57,104.04 L122.7,104.04 L122.82,104.04 L122.94,104.04 L123.07,104.04 L123.19,104.04 L123.32,104.04 L123.44,104.04 L123.56,104.04 L123.69,104.04 L123.81,104.04 L123.94,104.04 L124.06,104.04 L124.19,104.04 L124.31,104.04 L124.43,104.04 L124.56,104.04 L124.68,104.04 L124.81,104.04 L124.93,104.04 L125.06,104.03 L125.18,104.03 L125.3,104.03 L125.43,104.03 L125.55,104.03 L125.68,104.03 L125.8,104.03 L125.92,104.03 L126.05,104.03 L126.17,104.03 L126.3,104.03 L126.42,104.02 L126.55,104.02 L126.67,104.02 L126.79,104.02 L126.92,104.02 L127.04,104.01 L127.17,104.01 L127.29,104.01 L127.41,104.01 L127.54,104 L127.66,104 L127.79,104 L127.91,103.99 L128.03,103.99 L128.16,103.98 L128.28,103.98 L128.41,103.97 L128.53,103.97 L128.66,103.96 L128.78,103.95 L128.9,103.94 L129.03,103.93 L129.15,103.91 L129.28,103.89 L129.4,103.87 L129.53,103.85 L129.65,103.82 L129.77,103.78 L129.9,103.73 L130.02,103.67 L130.15,103.6 L130.27,103.52 L130.39,103.43 L130.52,103.31 L130.64,103.18 L130.77,103.03 L130.89,102.87 L131.01,102.69 L131.14,102.49 L131.26,102.29 L131.39,102.08 L131.51,101.89 L131.64,101.73 L131.76,101.61 L131.88,101.57 L132.01,101.59 L132.13,101.69 L132.26,101.84 L132.38,102.03 L132.5,102.23 L132.63,102.44 L132.75,102.64 L132.88,102.82 L133,102.99 L133.13,103.14 L133.25,103.28 L133.37,103.4 L133.5,103.5 L133.62,103.58 L133.75,103.65 L133.87,103.71 L134,103.76 L134.12,103.8 L134.24,103.84 L134.37,103.86 L134.49,103.88 L134.62,103.9 L134.74,103.92 L134.86,103.93 L134.99,103.94 L135.11,103.95 L135.24,103.96 L135.36,103.96 L135.49,103.97 L135.61,103.97 L135.73,103.98 L135.86,103.98 L135.98,103.99 L136.11,103.99 L136.23,103.99 L136.35,103.99 L136.48,104 L136.6,104 L136.73,104 L136.85,104 L136.97,104 L137.1,104.01 L137.22,104.01 L137.35,104.01 L137.47,104.01 L137.6,104.01 L137.72,104.01 L137.84,104.01 L137.97,104.01 L138.09,104.01 L138.22,104.01 L138.34,104.01 L138.47,104.01 L138.59,104.01 L138.71,104.01 L138.84,104.01 L138.96,104.01 L139.09,104 L139.21,104 L139.33,104 L139.46,104 L139.58,104 L139.71,104 L139.83,104 L139.95,103.99 L140.08,103.99 L140.2,103.99 L140.33,103.99 L140.45,103.98 L140.58,103.98 L140.7,103.98 L140.82,103.97 L140.95,103.97 L141.07,103.96 L141.2,103.96 L141.32,103.95 L141.44,103.95 L141.57,103.94 L141.69,103.93 L141.82,103.93 L141.94,103.92 L142.07,103.91 L142.19,103.9 L142.31,103.89 L142.44,103.88 L142.56,103.86 L142.69,103.85 L142.81,103.83 L142.94,103.81 L143.06,103.78 L143.18,103.75 L143.31,103.72 L143.43,103.68 L143.56,103.63 L143.68,103.56 L143.8,103.49 L143.93,103.39 L144.05,103.28 L144.18,103.14 L144.3,102.98 L144.43,102.79 L144.55,102.57 L144.67,102.31 L144.8,102.02 L144.92,101.7 L145.05,101.35 L145.17,100.98 L145.29,100.59 L145.42,100.21 L145.54,99.85 L145.67,99.56 L145.79,99.38 L145.92,99.32 L146.04,99.4 L146.16,99.61 L146.29,99.91 L146.41,100.27 L146.54,100.65 L146.66,101.03 L146.78,101.39 L146.91,101.72 L147.03,102.03 L147.16,102.3 L147.28,102.53 L147.41,102.73 L147.53,102.9 L147.65,103.04 L147.78,103.15 L147.9,103.24 L148.03,103.3 L148.15,103.33 L148.27,103.35 L148.4,103.34 L148.52,103.31 L148.65,103.26 L148.77,103.18 L148.89,103.08 L149.02,102.94 L149.14,102.77 L149.27,102.58 L149.39,102.35 L149.52,102.09 L149.64,101.81 L149.76,101.52 L149.89,101.22 L150.01,100.96 L150.14,100.77 L150.26,100.67 L150.38,100.7 L150.51,100.85 L150.63,101.09 L150.76,101.38 L150.88,101.69 L151.01,101.99 L151.13,102.28 L151.25,102.54 L151.38,102.77 L151.5,102.98 L151.63,103.15 L151.75,103.3 L151.88,103.42 L152,103.52 L152.12,103.61 L152.25,103.67 L152.37,103.73 L152.5,103.77 L152.62,103.8 L152.74,103.83 L152.87,103.85 L152.99,103.87 L153.12,103.89 L153.24,103.9 L153.37,103.91 L153.49,103.92 L153.61,103.93 L153.74,103.94 L153.86,103.95 L153.99,103.96 L154.11,103.96 L154.23,103.97 L154.36,103.98 L154.48,103.98 L154.61,103.98 L154.73,103.99 L154.85,103.99 L154.98,104 L155.1,104 L155.23,104 L155.35,104.01 L155.48,104.01 L155.6,104.01 L155.72,104.01 L155.85,104.02 L155.97,104.02 L156.1,104.02 L156.22,104.02 L156.34,104.02 L156.47,104.02 L156.59,104.03 L156.72,104.03 L156.84,104.03 L156.97,104.03 L157.09,104.03 L157.21,104.03 L157.34,104.03 L157.46,104.03 L157.59,104.03 L157.71,104.03 L157.84,104.03 L157.96,104.04 L158.08,104.04 L158.21,104.04 L158.33,104.04 L158.46,104.04 L158.58,104.04 L158.7,104.04 L158.83,104.04 L158.95,104.04 L159.08,104.04 L159.2,104.04 L159.32,104.04 L159.45,104.04 L159.57,104.04 L159.7,104.04 L159.82,104.04 L159.95,104.04 L160.07,104.04 L160.19,104.03 L160.32,104.03 L160.44,104.03 L160.57,104.03 L160.69,104.03 L160.81,104.03 L160.94,104.03 L161.06,104.03 L161.19,104.03 L161.31,104.03 L161.44,104.02 L161.56,104.02 L161.68,104.02 L161.81,104.02 L161.93,104.02 L162.06,104.01 L162.18,104.01 L162.31,104.01 L162.43,104.01 L162.55,104 L162.68,104 L162.8,104 L162.93,103.99 L163.05,103.99 L163.17,103.98 L163.3,103.98 L163.42,103.97 L163.55,103.97 L163.67,103.96 L163.79,103.95 L163.92,103.94 L164.04,103.94 L164.17,103.93 L164.29,103.91 L164.42,103.9 L164.54,103.89 L164.66,103.87 L164.79,103.85 L164.91,103.82 L165.04,103.79 L165.16,103.75 L165.28,103.71 L165.41,103.65 L165.53,103.59 L165.66,103.5 L165.78,103.4 L165.91,103.28 L166.03,103.14 L166.15,102.97 L166.28,102.78 L166.4,102.56 L166.53,102.31 L166.65,102.03 L166.78,101.73 L166.9,101.41 L167.02,101.08 L167.15,100.76 L167.27,100.47 L167.4,100.24 L167.52,100.11 L167.64,100.09 L167.77,100.2 L167.89,100.4 L168.02,100.67 L168.14,100.99 L168.26,101.32 L168.39,101.64 L168.51,101.95 L168.64,102.23 L168.76,102.49 L168.89,102.72 L169.01,102.92 L169.13,103.1 L169.26,103.25 L169.38,103.38 L169.51,103.48 L169.63,103.57 L169.75,103.64 L169.88,103.7 L170,103.75 L170.13,103.79 L170.25,103.82 L170.38,103.85 L170.5,103.87" fill="none" stroke="#ff4a4a" stroke-width="1.25" stroke-linejoin="round" />
<rect x="21" y="14.5" width="149.5" height="117.5" fill="none" stroke="#5c5c5c" stroke-width="1.25"/>
<line x1="21" y1="132" x2="21" y2="129.4" stroke="#5c5c5c" stroke-width="0.8" />
<text x="21" y="140.5" font-size="7.0" font-weight="bold" text-anchor="middle" fill="#111" stroke="#111" stroke-width="0.18" >10</text>
<line x1="30.34" y1="132" x2="30.34" y2="130.5" stroke="#5c5c5c" stroke-width="0.8" />
<line x1="39.69" y1="132" x2="39.69" y2="129.4" stroke="#5c5c5c" stroke-width="0.8" />
<text x="39.69" y="140.5" font-size="7.0" font-weight="bold" text-anchor="middle" fill="#111" stroke="#111" stroke-width="0.18" >20</text>
<line x1="49.03" y1="132" x2="49.03" y2="130.5" stroke="#5c5c5c" stroke-width="0.8" />
<line x1="58.38" y1="132" x2="58.38" y2="129.4" stroke="#5c5c5c" stroke-width="0.8" />
<text x="58.38" y="140.5" font-size="7.0" font-weight="bold" text-anchor="middle" fill="#111" stroke="#111" stroke-width="0.18" >30</text>
<line x1="67.72" y1="132" x2="67.72" y2="130.5" stroke="#5c5c5c" stroke-width="0.8" />
<line x1="77.06" y1="132" x2="77.06" y2="129.4" stroke="#5c5c5c" stroke-width="0.8" />
<text x="77.06" y="140.5" font-size="7.0" font-weight="bold" text-anchor="middle" fill="#111" stroke="#111" stroke-width="0.18" >40</text>
<line x1="86.41" y1="132" x2="86.41" y2="130.5" stroke="#5c5c5c" stroke-width="0.8" />
<line x1="95.75" y1="132" x2="95.75" y2="129.4" stroke="#5c5c5c" stroke-width="0.8" />
<text x="95.75" y="140.5" font-size="7.0" font-weight="bold" text-anchor="middle" fill="#111" stroke="#111" stroke-width="0.18" >50</text>
<line x1="105.09" y1="132" x2="105.09" y2="130.5" stroke="#5c5c5c" stroke-width="0.8" />
<line x1="114.44" y1="132" x2="114.44" y2="129.4" stroke="#5c5c5c" stroke-width="0.8" />
<text x="114.44" y="140.5" font-size="7.0" font-weight="bold" text-anchor="middle" fill="#111" stroke="#111" stroke-width="0.18" >60</text>
<line x1="123.78" y1="132" x2="123.78" y2="130.5" stroke="#5c5c5c" stroke-width="0.8" />
<line x1="133.12" y1="132" x2="133.12" y2="129.4" stroke="#5c5c5c" stroke-width="0.8" />
<text x="133.12" y="140.5" font-size="7.0" font-weight="bold" text-anchor="middle" fill="#111" stroke="#111" stroke-width="0.18" >70</text>
<line x1="142.47" y1="132" x2="142.47" y2="130.5" stroke="#5c5c5c" stroke-width="0.8" />
<line x1="151.81" y1="132" x2="151.81" y2="129.4" stroke="#5c5c5c" stroke-width="0.8" />
<text x="151.81" y="140.5" font-size="7.0" font-weight="bold" text-anchor="middle" fill="#111" stroke="#111" stroke-width="0.18" >80</text>
<line x1="161.16" y1="132" x2="161.16" y2="130.5" stroke="#5c5c5c" stroke-width="0.8" />
<line x1="170.5" y1="132" x2="170.5" y2="129.4" stroke="#5c5c5c" stroke-width="0.8" />
<text x="170.5" y="140.5" font-size="7.0" font-weight="bold" text-anchor="middle" fill="#111" stroke="#111" stroke-width="0.18" >90</text>
<text x="25" y="29.4" font-size="12.7" font-weight="normal" text-anchor="start" fill="#111" stroke="#111" stroke-width="0.1" >(a)</text>
<text x="132" y="55" font-size="7" font-weight="bold" text-anchor="start" fill="#111" stroke="#111" stroke-width="0.18" >Ce-MOF</text>
<text x="48.6" y="73.1" font-size="7.3" font-weight="bold" text-anchor="start" fill="#ff4a4a" stroke="#ff4a4a" stroke-width="0.18" >(111)</text>
<text x="57.6" y="90.6" font-size="7.3" font-weight="bold" text-anchor="start" fill="#ff4a4a" stroke="#ff4a4a" stroke-width="0.18" >(200)</text>
<text x="84.2" y="82.3" font-size="7.3" font-weight="bold" text-anchor="start" fill="#ff4a4a" stroke="#ff4a4a" stroke-width="0.18" >(220)</text>
<text x="99.7" y="89.3" font-size="7.3" font-weight="bold" text-anchor="start" fill="#ff4a4a" stroke="#ff4a4a" stroke-width="0.18" >(311)</text>
<text x="132.6" y="88.3" font-size="7.3" font-weight="bold" text-anchor="start" fill="#ff4a4a" stroke="#ff4a4a" stroke-width="0.18" >CeO<tspan font-size="5.2" dy="1.6">2</tspan></text>
<text x="103.3" y="119.4" font-size="7.4" font-weight="bold" text-anchor="start" fill="#ff4a4a" stroke="#ff4a4a" stroke-width="0.18" >CeO<tspan font-size="5.2" dy="1.6">2</tspan><tspan dy="-1.6">-PDF:43-1002</tspan></text>
<text transform="translate(12.2,73.2) rotate(-90)" font-size="9.6" font-weight="bold" text-anchor="middle" fill="#111" stroke="#111" stroke-width="0.18">Intensity (a.u.)</text>
<text x="70.9" y="151.3" font-size="9.5" font-weight="bold" text-anchor="start" fill="#111" stroke="#111" stroke-width="0.18" >2<tspan font-family="Liberation Serif" font-style="italic" font-weight="normal" font-size="10.6" dx="1.2">θ</tspan><tspan dx="0.6">(degree)</tspan></text>
<path d="M200.3,35.04 L200.9,30.27 L201.6,28.49 L202.3,31.93 L203,29.97 L203.6,30.53 L204.2,32.46 L204.9,33.99 L205.6,35.73 L206.3,37.24 L207.6,42.12 L208.65,43.58 L209.7,45.39 L210.4,46.26 L211.1,47.28 L211.8,48.22 L212.7,48.99 L213.6,49.98 L214.5,50.8 L215.32,51.71 L216.14,51.92 L216.96,51.71 L217.78,52.63 L218.6,52.37 L219.3,52.97 L220,52.7 L220.7,52.75 L221.4,53.7 L222.1,53.27 L222.8,53.44 L223.54,54.03 L224.29,53.84 L225.03,53.21 L225.77,53.72 L226.51,53.24 L227.26,53.26 L228,52.73 L228.8,53.52 L229.6,53.42 L230.4,53.79 L231.2,53.85 L232,53.15 L232.8,53.04 L233.6,52.7 L234.4,52.51 L235.2,52.28 L236,52.32 L236.71,52.41 L237.43,51.68 L238.14,52.1 L238.85,51.6 L239.56,51.39 L240.27,51.66 L240.99,51.17 L241.7,50.83 L242.4,50.78 L243.1,50.78 L243.8,50 L244.5,50.63 L245.5,48.87 L246.5,48.62 L247.5,49.31 L248.5,49.17 L249.25,50.01 L250,49.78 L250.75,50.12 L251.5,49.76 L252.25,49.94 L253,50.21 L253.76,50.87 L254.51,50.14 L255.27,50.6 L256.03,50.72 L256.79,50.68 L257.54,50.1 L258.3,50.07 L259.04,50.34 L259.78,50.69 L260.52,50.21 L261.26,50.9 L262,50.89 L262.73,50.77 L263.45,50.39 L264.18,50.52 L264.91,50.13 L265.64,50.07 L266.36,50.02 L267.09,49.97 L267.82,49.66 L268.55,49.7 L269.27,49.45 L270,49.24 L270.71,49.15 L271.43,49.02 L272.14,48.89 L272.86,48.82 L273.57,48.89 L274.29,48.89 L275,48.55 L275.71,48.42 L276.43,48.61 L277.14,48.38 L277.86,48.25 L278.57,48.11 L279.29,48.12 L280,48.1 L280.71,47.89 L281.43,47.78 L282.14,47.57 L282.86,47.72 L283.57,47.36 L284.29,47.4 L285,47.4 L285.71,47.09 L286.43,47.17 L287.14,47.13 L287.86,46.94 L288.57,46.89 L289.29,46.58 L290,46.58 L290.71,46.4 L291.43,46.52 L292.14,46.26 L292.86,46.21 L293.57,46.29 L294.29,46.15 L295,46.09 L295.71,45.84 L296.43,45.76 L297.14,45.74 L297.86,45.57 L298.57,45.42 L299.29,45.36 L300,45.19 L300.75,45.18 L301.5,45.28 L302.25,45.19 L303,45 L303.75,44.88 L304.5,44.75 L305.25,44.59 L306,44.57 L306.75,44.63 L307.5,44.58 L308.25,44.34 L309,44.39 L309.75,44.26 L310.5,44.11 L311.25,43.97 L312,43.88 L312.75,43.63 L313.5,43.61 L314.25,43.36 L315,43.3 L315.75,43.26 L316.5,43.11 L317.25,42.86 L318,42.93 L318.75,42.74 L319.5,42.62 L320.25,42.35 L321,42.41 L321.75,42.23 L322.5,42.25 L323.25,42.09 L324,42.1 L324.75,41.94 L325.5,41.89 L326.23,41.69 L326.96,41.72 L327.69,41.69 L328.42,41.65 L329.15,41.45 L329.88,41.53 L330.62,41.48 L331.35,41.36 L332.08,41.39 L332.81,41.32 L333.54,41.13 L334.27,41.07 L335,40.9 L335.72,41.04 L336.44,41.01 L337.17,40.81 L337.89,40.81 L338.61,40.76 L339.33,40.7 L340.06,40.47 L340.78,40.6 L341.5,40.47 L342.22,40.44 L342.94,40.3 L343.67,40.3 L344.39,40.29 L345.11,40.19 L345.83,40.15 L346.56,39.88 L347.28,39.86 L348,39.9" fill="none" stroke="#ff4a4a" stroke-width="1.3" stroke-linejoin="round" />
<path d="M200.2,57.5 L200.6,63 L200.9,58.5 L201.3,71 L202.5,81.2 L203.15,85.7 L203.8,90.2 L204.5,92.45 L205.2,94.7 L205.95,94.1 L206.7,93.5 L207.35,90.95 L208,88.4 L208.8,83 L209.4,82.3 L209.9,86 L210.3,93.8 L210.7,88 L211.2,79.4 L211.85,77.1 L212.5,74.8 L213.2,74.56 L213.9,74.32 L214.6,74.08 L215.3,73.84 L216,73.6 L216.66,73.44 L217.31,73.29 L217.97,73.13 L218.63,72.97 L219.29,72.81 L219.94,72.66 L220.6,72.5 L221.2,72.58 L221.8,72.65 L222.4,72.72 L223,72.8 L223.75,73.15 L224.5,73.5 L225.1,77 L225.7,73.6 L226.47,73.7 L227.23,73.8 L228,73.9 L228.6,74.33 L229.2,74.75 L229.8,75.17 L230.4,75.6 L231.1,76.73 L231.8,77.87 L232.5,79 L233.25,81.5 L234,84 L234.8,88 L235.4,91 L236.1,94 L236.8,91 L237.5,85 L238.5,79.5 L239.5,76.8 L240.5,76 L241.3,81 L242,90 L242.7,97.4 L243.3,92 L244,84 L244.8,78.5 L245.6,76.8 L246,83 L246.4,92.3 L246.9,86 L247.4,76.5 L247.9,73.8 L249,72.6 L249.85,72.1 L250.7,71.58 L251.31,71.67 L251.93,71.57 L252.54,71.74 L253.16,71.75 L253.77,71.61 L254.39,71.76 L255,71.72 L255.6,71.69 L256.2,71.73 L256.8,71.81 L257.4,71.78 L258,71.81 L258.6,71.78 L259.2,71.93 L259.8,71.92 L260.4,72.01 L261,72.03 L261.6,71.94 L262.2,72.16 L262.8,71.91 L263.4,72.05 L264,72.03 L264.6,72.09 L265.2,72.02 L265.8,72.26 L266.4,72.14 L267,72.05 L267.6,72.25 L268.2,72.11 L268.8,72.26 L269.4,72.22 L270,72.31 L270.6,72.44 L271.2,72.42 L271.8,72.32 L272.4,72.46 L273,72.42 L273.6,72.36 L274.23,72.35 L274.85,72.55 L275.48,72.6 L276.11,72.78 L276.73,72.84 L277.36,72.79 L277.99,72.78 L278.61,73 L279.24,72.79 L279.87,72.88 L280.49,73.08 L281.12,73.15 L281.75,73.07 L282.37,73.28 L283,73.42 L283.61,73.35 L284.21,73.45 L284.82,73.48 L285.43,73.59 L286.03,73.88 L286.64,73.79 L287.24,74.05 L287.85,74.12 L288.46,74.12 L289.06,74.1 L289.67,74.41 L290.27,74.35 L290.88,74.41 L291.49,74.47 L292.09,74.76 L292.7,74.7 L293.34,74.77 L293.98,74.95 L294.62,74.98 L295.25,75.26 L295.89,75.34 L296.53,75.42 L297.17,75.7 L297.81,75.84 L298.45,75.73 L299.08,76.02 L299.72,76.07 L300.36,76.4 L301,76.48 L301.64,76.47 L302.27,76.62 L302.91,76.73 L303.54,77.12 L304.18,77.05 L304.81,77.29 L305.45,77.39 L306.09,77.59 L306.72,77.72 L307.36,77.9 L307.99,77.86 L308.63,78.19 L309.26,78.2 L309.9,78.41 L310.51,78.53 L311.12,78.7 L311.73,78.95 L312.34,79.11 L312.95,79.26 L313.56,79.55 L314.17,79.69 L314.78,79.7 L315.39,79.95 L316,80.19 L316.63,80.51 L317.26,80.69 L317.89,80.77 L318.51,80.8 L319.14,81.21 L319.77,81.29 L320.4,81.52 L321,81.28 L321.6,80.97 L322.2,80.64 L322.8,80.49 L323.4,80.05 L324,79.77 L324.6,79.27 L325.2,78.43 L325.8,77.82 L326.4,77.34 L327,76.47 L327.67,75.8 L328.33,74.86 L329,73.88 L329.67,73.2 L330.33,72.72 L331,72.12 L331.6,71.66 L332.2,71.53 L332.8,71.31 L333.44,71.24 L334.08,71.13 L334.72,71.02 L335.36,71.09 L336,71.09 L336.6,70.87 L337.2,70.91 L337.8,71.08 L338.4,71.07 L339,71.02 L339.6,70.83 L340.2,71.03 L340.8,71.1 L341.4,71.1 L342,71.01 L342.6,70.81 L343.2,71.04 L343.8,70.85 L344.4,70.97 L345,71.06 L345.6,70.98 L346.2,70.81 L346.8,70.85 L347.4,71.03 L348,70.9" fill="none" stroke="#1e1e1e" stroke-width="0.9" stroke-linejoin="round" />
<path d="M234.5,85 L235.2,92 L235.9,93.5 L236.6,88 L237.3,82" fill="none" stroke="#1e1e1e" stroke-width="0.7" stroke-linejoin="round" />
<path d="M242.2,90 L242.9,96 L243.6,89" fill="none" stroke="#1e1e1e" stroke-width="0.7" stroke-linejoin="round" />
<path d="M245.9,80 L246.6,91 L247.3,82" fill="none" stroke="#1e1e1e" stroke-width="0.7" stroke-linejoin="round" />
<rect x="199.7" y="14.5" width="148.8" height="116.1" fill="none" stroke="#5c5c5c" stroke-width="1.25"/>
<line x1="199.7" y1="130.6" x2="199.7" y2="128" stroke="#5c5c5c" stroke-width="0.8" />
<text x="199.7" y="139.4" font-size="7.2" font-weight="bold" text-anchor="middle" fill="#111" stroke="#111" stroke-width="0.18" >500</text>
<line x1="210.33" y1="130.6" x2="210.33" y2="129.1" stroke="#5c5c5c" stroke-width="0.8" />
<line x1="220.96" y1="130.6" x2="220.96" y2="128" stroke="#5c5c5c" stroke-width="0.8" />
<text x="220.96" y="139.4" font-size="7.2" font-weight="bold" text-anchor="middle" fill="#111" stroke="#111" stroke-width="0.18" >1000</text>
<line x1="231.59" y1="130.6" x2="231.59" y2="129.1" stroke="#5c5c5c" stroke-width="0.8" />
<line x1="242.21" y1="130.6" x2="242.21" y2="128" stroke="#5c5c5c" stroke-width="0.8" />
<text x="242.21" y="139.4" font-size="7.2" font-weight="bold" text-anchor="middle" fill="#111" stroke="#111" stroke-width="0.18" >1500</text>
<line x1="252.84" y1="130.6" x2="252.84" y2="129.1" stroke="#5c5c5c" stroke-width="0.8" />
<line x1="263.47" y1="130.6" x2="263.47" y2="128" stroke="#5c5c5c" stroke-width="0.8" />
<text x="263.47" y="139.4" font-size="7.2" font-weight="bold" text-anchor="middle" fill="#111" stroke="#111" stroke-width="0.18" >2000</text>
<line x1="274.1" y1="130.6" x2="274.1" y2="129.1" stroke="#5c5c5c" stroke-width="0.8" />
<line x1="284.73" y1="130.6" x2="284.73" y2="128" stroke="#5c5c5c" stroke-width="0.8" />
<text x="284.73" y="139.4" font-size="7.2" font-weight="bold" text-anchor="middle" fill="#111" stroke="#111" stroke-width="0.18" >2500</text>
<line x1="295.36" y1="130.6" x2="295.36" y2="129.1" stroke="#5c5c5c" stroke-width="0.8" />
<line x1="305.99" y1="130.6" x2="305.99" y2="128" stroke="#5c5c5c" stroke-width="0.8" />
<text x="305.99" y="139.4" font-size="7.2" font-weight="bold" text-anchor="middle" fill="#111" stroke="#111" stroke-width="0.18" >3000</text>
<line x1="316.61" y1="130.6" x2="316.61" y2="129.1" stroke="#5c5c5c" stroke-width="0.8" />
<line x1="327.24" y1="130.6" x2="327.24" y2="128" stroke="#5c5c5c" stroke-width="0.8" />
<text x="327.24" y="139.4" font-size="7.2" font-weight="bold" text-anchor="middle" fill="#111" stroke="#111" stroke-width="0.18" >3500</text>
<line x1="337.87" y1="130.6" x2="337.87" y2="129.1" stroke="#5c5c5c" stroke-width="0.8" />
<line x1="348.5" y1="130.6" x2="348.5" y2="128" stroke="#5c5c5c" stroke-width="0.8" />
<text x="348.5" y="139.4" font-size="7.2" font-weight="bold" text-anchor="middle" fill="#111" stroke="#111" stroke-width="0.18" >4000</text>
<text x="204.9" y="29.4" font-size="12.7" font-weight="normal" text-anchor="start" fill="#111" stroke="#111" stroke-width="0.1" >(b)</text>
<line x1="201.6" y1="35.8" x2="210.35" y2="42.24" stroke="#111" stroke-width="0.8" />
<path d="M212.2,43.6 L209.34,43.11 L210.88,41.01 Z" fill="#111"/>
<line x1="201.8" y1="69.2" x2="213.4" y2="54.12" stroke="#111" stroke-width="0.8" />
<path d="M214.8,52.3 L214.25,55.15 L212.18,53.57 Z" fill="#111"/>
<text x="216.1" y="47.2" font-size="7.1" font-weight="bold" text-anchor="start" fill="#111" stroke="#111" stroke-width="0.18" >533 cm<tspan font-size="4.8" dy="-2.6">-1</tspan></text>
<text x="262.9" y="42.2" font-size="7.3" font-weight="bold" text-anchor="start" fill="#ff4a4a" stroke="#ff4a4a" stroke-width="0.18" >CeO<tspan font-size="5.2" dy="1.6">2</tspan></text>
<text x="264.1" y="65.6" font-size="7.2" font-weight="bold" text-anchor="start" fill="#111" stroke="#111" stroke-width="0.18" >Ce-MOF</text>
<line x1="236.4" y1="94.5" x2="231.11" y2="100.57" stroke="#111" stroke-width="0.8" />
<path d="M229.6,102.3 L230.33,99.49 L232.29,101.19 Z" fill="#111"/>
<text x="201" y="108.1" font-size="7.2" font-weight="bold" text-anchor="start" fill="#111" stroke="#111" stroke-width="0.18" >1430 cm<tspan font-size="4.8" dy="-2.6">-1</tspan></text>
<line x1="236.3" y1="95" x2="235.32" y2="113.2" stroke="#111" stroke-width="0.8" />
<path d="M235.2,115.5 L234.04,112.83 L236.64,112.97 Z" fill="#111"/>
<text x="209.4" y="122.6" font-size="7.2" font-weight="bold" text-anchor="start" fill="#111" stroke="#111" stroke-width="0.18" >1370 cm<tspan font-size="4.8" dy="-2.6">-1</tspan></text>
<line x1="243.6" y1="97" x2="249.81" y2="105.17" stroke="#111" stroke-width="0.8" />
<path d="M251.2,107 L248.59,105.72 L250.66,104.14 Z" fill="#111"/>
<text x="253.2" y="114.3" font-size="7.2" font-weight="bold" text-anchor="start" fill="#111" stroke="#111" stroke-width="0.18" >1540 cm<tspan font-size="4.8" dy="-2.6">-1</tspan></text>
<line x1="247" y1="92.3" x2="255.71" y2="96.33" stroke="#111" stroke-width="0.8" />
<path d="M257.8,97.3 L254.89,97.39 L255.99,95.03 Z" fill="#111"/>
<text x="260.2" y="100.4" font-size="7.2" font-weight="bold" text-anchor="start" fill="#111" stroke="#111" stroke-width="0.18" >1610 cm<tspan font-size="4.8" dy="-2.6">-1</tspan></text>
<line x1="320.2" y1="82.3" x2="320.2" y2="91.3" stroke="#111" stroke-width="0.8" />
<path d="M320.2,93.6 L318.9,91 L321.5,91 Z" fill="#111"/>
<text x="308" y="103" font-size="7.2" font-weight="bold" text-anchor="start" fill="#111" stroke="#111" stroke-width="0.18" >3330 cm<tspan font-size="4.8" dy="-2.6">-1</tspan></text>
<text transform="translate(190.7,72.5) rotate(-90)" font-size="9.6" font-weight="bold" text-anchor="middle" fill="#111" stroke="#111" stroke-width="0.18">Intensity (a.u.)</text>
<text x="231.8" y="149.8" font-size="9.4" font-weight="bold" text-anchor="start" fill="#111" stroke="#111" stroke-width="0.18" >Wavenumber <tspan font-weight="normal">(</tspan>cm<tspan font-size="4.8" dy="-2.6">-1</tspan><tspan font-weight="normal">)</tspan></text>
<path d="M392,72.5 C392.72,72.27 394.68,71.67 396.3,71.1 C397.92,70.53 400.38,69.52 401.7,69.1 C403.02,68.68 403.38,68.75 404.2,68.6 C405.02,68.45 405.77,68.35 406.6,68.2 C407.43,68.05 408.33,67.87 409.2,67.7 C410.07,67.53 411,67.35 411.8,67.2 C412.6,67.05 413.2,66.93 414,66.8 C414.8,66.67 415.75,66.53 416.6,66.4 C417.45,66.27 418.25,66.12 419.1,66 C419.95,65.88 420.05,65.93 421.7,65.7 C423.35,65.47 426.53,64.98 429,64.6 C431.47,64.22 434.5,63.7 436.5,63.4 C438.5,63.1 439.72,62.98 441,62.8 C442.28,62.62 442.4,62.57 444.2,62.3 C446,62.03 449.25,61.58 451.8,61.2 C454.35,60.82 457,60.33 459.5,60 C462,59.67 464.33,59.48 466.8,59.2 C469.27,58.92 471.8,58.62 474.3,58.3 C476.8,57.98 479.3,57.63 481.8,57.3 C484.3,56.97 486.8,56.65 489.3,56.3 C491.8,55.95 494.3,55.58 496.8,55.2 C499.3,54.82 502.27,54.37 504.3,54 C506.33,53.63 507.72,53.33 509,53 C510.28,52.67 510.9,52.43 512,52 C513.1,51.57 514.7,50.82 515.6,50.4 C516.5,49.98 516.6,49.73 517.4,49.5 C518.2,49.27 519.4,49.18 520.4,49 C521.4,48.82 522.4,48.63 523.4,48.4 C524.4,48.17 525.38,47.9 526.4,47.6 C527.42,47.3 528.48,47.02 529.5,46.6 C530.52,46.18 531.63,45.73 532.5,45.1 C533.37,44.47 533.95,43.78 534.7,42.8 C535.45,41.82 536.37,40.33 537,39.2 C537.63,38.07 538.08,37.2 538.5,36 C538.92,34.8 539.22,33.42 539.5,32 C539.78,30.58 539.98,29.2 540.2,27.5 C540.42,25.8 540.7,22.75 540.8,21.8" fill="none" stroke="#ff4a4a" stroke-width="0.8" stroke-linejoin="round"/>
<path d="M459.5,60 C460.72,59.65 464.33,58.57 466.8,57.9 C469.27,57.23 471.8,56.62 474.3,56 C476.8,55.38 479.3,54.73 481.8,54.2 C484.3,53.67 486.8,53.2 489.3,52.8 C491.8,52.4 494.3,52.12 496.8,51.8 C499.3,51.48 502.27,51.15 504.3,50.9 C506.33,50.65 507.72,50.47 509,50.3 C510.28,50.13 510.9,49.98 512,49.9 C513.1,49.82 514.7,49.87 515.6,49.8 C516.5,49.73 516.6,49.63 517.4,49.5 C518.2,49.37 519.4,49.18 520.4,49 C521.4,48.82 522.4,48.63 523.4,48.4 C524.4,48.17 525.38,47.9 526.4,47.6 C527.42,47.3 528.48,47.02 529.5,46.6 C530.52,46.18 531.63,45.73 532.5,45.1 C533.37,44.47 533.95,43.78 534.7,42.8 C535.45,41.82 536.37,40.33 537,39.2 C537.63,38.07 538.08,37.2 538.5,36 C538.92,34.8 539.22,33.42 539.5,32 C539.78,30.58 539.98,29.2 540.2,27.5 C540.42,25.8 540.7,22.75 540.8,21.8" fill="none" stroke="#ff4a4a" stroke-width="0.8" stroke-linejoin="round"/>
<circle cx="392" cy="72.5" r="1.2" fill="#ff4a4a"/>
<circle cx="396.3" cy="71.1" r="1.2" fill="#ff4a4a"/>
<circle cx="401.7" cy="69.1" r="1.2" fill="#ff4a4a"/>
<circle cx="404.2" cy="68.6" r="1.2" fill="#ff4a4a"/>
<circle cx="406.6" cy="68.2" r="1.2" fill="#ff4a4a"/>
<circle cx="409.2" cy="67.7" r="1.2" fill="#ff4a4a"/>
<circle cx="411.8" cy="67.2" r="1.2" fill="#ff4a4a"/>
<circle cx="414" cy="66.8" r="1.2" fill="#ff4a4a"/>
<circle cx="416.6" cy="66.4" r="1.2" fill="#ff4a4a"/>
<circle cx="419.1" cy="66" r="1.2" fill="#ff4a4a"/>
<circle cx="421.7" cy="65.7" r="1.2" fill="#ff4a4a"/>
<circle cx="429" cy="64.6" r="1.2" fill="#ff4a4a"/>
<circle cx="436.5" cy="63.4" r="1.2" fill="#ff4a4a"/>
<circle cx="441" cy="62.8" r="1.2" fill="#ff4a4a"/>
<circle cx="444.2" cy="62.3" r="1.2" fill="#ff4a4a"/>
<circle cx="451.8" cy="61.2" r="1.2" fill="#ff4a4a"/>
<circle cx="459.5" cy="60" r="1.2" fill="#ff4a4a"/>
<circle cx="466.8" cy="59.2" r="1.2" fill="#ff4a4a"/>
<circle cx="474.3" cy="58.3" r="1.2" fill="#ff4a4a"/>
<circle cx="481.8" cy="57.3" r="1.2" fill="#ff4a4a"/>
<circle cx="489.3" cy="56.3" r="1.2" fill="#ff4a4a"/>
<circle cx="496.8" cy="55.2" r="1.2" fill="#ff4a4a"/>
<circle cx="504.3" cy="54" r="1.2" fill="#ff4a4a"/>
<circle cx="509" cy="53" r="1.2" fill="#ff4a4a"/>
<circle cx="512" cy="52" r="1.2" fill="#ff4a4a"/>
<circle cx="515.6" cy="50.4" r="1.2" fill="#ff4a4a"/>
<circle cx="466.8" cy="57.9" r="1.2" fill="#ff4a4a"/>
<circle cx="474.3" cy="56" r="1.2" fill="#ff4a4a"/>
<circle cx="481.8" cy="54.2" r="1.2" fill="#ff4a4a"/>
<circle cx="489.3" cy="52.8" r="1.2" fill="#ff4a4a"/>
<circle cx="496.8" cy="51.8" r="1.2" fill="#ff4a4a"/>
<circle cx="504.3" cy="50.9" r="1.2" fill="#ff4a4a"/>
<circle cx="509" cy="50.3" r="1.2" fill="#ff4a4a"/>
<circle cx="512" cy="49.9" r="1.2" fill="#ff4a4a"/>
<circle cx="515.6" cy="49.8" r="1.2" fill="#ff4a4a"/>
<circle cx="517.4" cy="49.5" r="1.2" fill="#ff4a4a"/>
<circle cx="520.4" cy="49" r="1.2" fill="#ff4a4a"/>
<circle cx="523.4" cy="48.4" r="1.2" fill="#ff4a4a"/>
<circle cx="526.4" cy="47.6" r="1.2" fill="#ff4a4a"/>
<circle cx="529.5" cy="46.6" r="1.2" fill="#ff4a4a"/>
<circle cx="532.5" cy="45.1" r="1.2" fill="#ff4a4a"/>
<circle cx="534.7" cy="42.8" r="1.2" fill="#ff4a4a"/>
<circle cx="537" cy="39.2" r="1.2" fill="#ff4a4a"/>
<circle cx="538.5" cy="36" r="1.2" fill="#ff4a4a"/>
<circle cx="539.5" cy="32" r="1.2" fill="#ff4a4a"/>
<circle cx="540.2" cy="27.5" r="1.2" fill="#ff4a4a"/>
<circle cx="540.8" cy="21.8" r="1.2" fill="#ff4a4a"/>
<path d="M392.2,118.2 C392.33,118.1 392.28,117.78 393,117.6 C393.72,117.42 394.93,117.22 396.5,117.1 C398.07,116.98 401.13,116.94 402.4,116.9 C403.67,116.86 403.38,116.87 404.1,116.85 C404.82,116.83 405.85,116.82 406.7,116.8 C407.55,116.78 408.35,116.77 409.2,116.75 C410.05,116.73 411,116.72 411.8,116.7 C412.6,116.68 413.22,116.67 414,116.65 C414.78,116.63 415.65,116.62 416.5,116.6 C417.35,116.58 418.23,116.57 419.1,116.55 C419.97,116.53 420.05,116.53 421.7,116.5 C423.35,116.47 426.53,116.43 429,116.4 C431.47,116.37 434.52,116.33 436.5,116.3 C438.48,116.27 439.63,116.27 440.9,116.25 C442.17,116.23 442.28,116.23 444.1,116.2 C445.92,116.17 449.23,116.13 451.8,116.1 C454.37,116.07 457,116.03 459.5,116 C462,115.97 464.33,115.97 466.8,115.95 C469.27,115.93 471.8,115.92 474.3,115.9 C476.8,115.88 479.3,115.87 481.8,115.85 C484.3,115.83 486.8,115.82 489.3,115.8 C491.8,115.78 494.3,115.75 496.8,115.7 C499.3,115.65 502.27,115.57 504.3,115.5 C506.33,115.43 507.47,115.38 509,115.3 C510.53,115.22 512.1,115.12 513.5,115 C514.9,114.88 516.25,114.77 517.4,114.6 C518.55,114.43 519.4,114.25 520.4,114 C521.4,113.75 522.4,113.45 523.4,113.1 C524.4,112.75 525.38,112.37 526.4,111.9 C527.42,111.43 528.48,110.95 529.5,110.3 C530.52,109.65 531.63,108.88 532.5,108 C533.37,107.12 533.97,106.33 534.7,105 C535.43,103.67 536.27,101.75 536.9,100 C537.53,98.25 538.07,96.25 538.5,94.5 C538.93,92.75 539.22,91.25 539.5,89.5 C539.78,87.75 539.98,86.17 540.2,84 C540.42,81.83 540.7,77.75 540.8,76.5" fill="none" stroke="#1e1e1e" stroke-width="0.8" stroke-linejoin="round"/>
<path d="M504.3,115.5 C505.08,115.45 507.47,115.32 509,115.2 C510.53,115.08 512.1,114.97 513.5,114.8 C514.9,114.63 516.25,114.45 517.4,114.2 C518.55,113.95 519.4,113.67 520.4,113.3 C521.4,112.93 522.4,112.52 523.4,112 C524.4,111.48 525.38,110.93 526.4,110.2 C527.42,109.47 528.48,108.57 529.5,107.6 C530.52,106.63 531.63,105.5 532.5,104.4 C533.37,103.3 533.97,102.3 534.7,101 C535.43,99.7 536.27,98.1 536.9,96.6 C537.53,95.1 538.07,93.43 538.5,92 C538.93,90.57 539.22,89.42 539.5,88 C539.78,86.58 539.98,85.42 540.2,83.5 C540.42,81.58 540.7,77.67 540.8,76.5" fill="none" stroke="#1e1e1e" stroke-width="0.8" stroke-linejoin="round"/>
<circle cx="392.2" cy="118.2" r="1.2" fill="#1e1e1e"/>
<circle cx="393" cy="117.6" r="1.2" fill="#1e1e1e"/>
<circle cx="396.5" cy="117.1" r="1.2" fill="#1e1e1e"/>
<circle cx="402.4" cy="116.9" r="1.2" fill="#1e1e1e"/>
<circle cx="404.1" cy="116.85" r="1.2" fill="#1e1e1e"/>
<circle cx="406.7" cy="116.8" r="1.2" fill="#1e1e1e"/>
<circle cx="409.2" cy="116.75" r="1.2" fill="#1e1e1e"/>
<circle cx="411.8" cy="116.7" r="1.2" fill="#1e1e1e"/>
<circle cx="414" cy="116.65" r="1.2" fill="#1e1e1e"/>
<circle cx="416.5" cy="116.6" r="1.2" fill="#1e1e1e"/>
<circle cx="419.1" cy="116.55" r="1.2" fill="#1e1e1e"/>
<circle cx="421.7" cy="116.5" r="1.2" fill="#1e1e1e"/>
<circle cx="429" cy="116.4" r="1.2" fill="#1e1e1e"/>
<circle cx="436.5" cy="116.3" r="1.2" fill="#1e1e1e"/>
<circle cx="440.9" cy="116.25" r="1.2" fill="#1e1e1e"/>
<circle cx="444.1" cy="116.2" r="1.2" fill="#1e1e1e"/>
<circle cx="451.8" cy="116.1" r="1.2" fill="#1e1e1e"/>
<circle cx="459.5" cy="116" r="1.2" fill="#1e1e1e"/>
<circle cx="466.8" cy="115.95" r="1.2" fill="#1e1e1e"/>
<circle cx="474.3" cy="115.9" r="1.2" fill="#1e1e1e"/>
<circle cx="481.8" cy="115.85" r="1.2" fill="#1e1e1e"/>
<circle cx="489.3" cy="115.8" r="1.2" fill="#1e1e1e"/>
<circle cx="496.8" cy="115.7" r="1.2" fill="#1e1e1e"/>
<circle cx="504.3" cy="115.5" r="1.2" fill="#1e1e1e"/>
<circle cx="509" cy="115.3" r="1.2" fill="#1e1e1e"/>
<circle cx="513.5" cy="115" r="1.2" fill="#1e1e1e"/>
<circle cx="517.4" cy="114.6" r="1.2" fill="#1e1e1e"/>
<circle cx="520.4" cy="114" r="1.2" fill="#1e1e1e"/>
<circle cx="523.4" cy="113.1" r="1.2" fill="#1e1e1e"/>
<circle cx="526.4" cy="111.9" r="1.2" fill="#1e1e1e"/>
<circle cx="529.5" cy="110.3" r="1.2" fill="#1e1e1e"/>
<circle cx="532.5" cy="108" r="1.2" fill="#1e1e1e"/>
<circle cx="534.7" cy="105" r="1.2" fill="#1e1e1e"/>
<circle cx="536.9" cy="100" r="1.2" fill="#1e1e1e"/>
<circle cx="538.5" cy="94.5" r="1.2" fill="#1e1e1e"/>
<circle cx="539.5" cy="89.5" r="1.2" fill="#1e1e1e"/>
<circle cx="540.2" cy="84" r="1.2" fill="#1e1e1e"/>
<circle cx="540.8" cy="76.5" r="1.2" fill="#1e1e1e"/>
<circle cx="509" cy="115.2" r="1.2" fill="#1e1e1e"/>
<circle cx="513.5" cy="114.8" r="1.2" fill="#1e1e1e"/>
<circle cx="517.4" cy="114.2" r="1.2" fill="#1e1e1e"/>
<circle cx="520.4" cy="113.3" r="1.2" fill="#1e1e1e"/>
<circle cx="523.4" cy="112" r="1.2" fill="#1e1e1e"/>
<circle cx="526.4" cy="110.2" r="1.2" fill="#1e1e1e"/>
<circle cx="529.5" cy="107.6" r="1.2" fill="#1e1e1e"/>
<circle cx="532.5" cy="104.4" r="1.2" fill="#1e1e1e"/>
<circle cx="534.7" cy="101" r="1.2" fill="#1e1e1e"/>
<circle cx="536.9" cy="96.6" r="1.2" fill="#1e1e1e"/>
<circle cx="538.5" cy="92" r="1.2" fill="#1e1e1e"/>
<circle cx="539.5" cy="88" r="1.2" fill="#1e1e1e"/>
<circle cx="540.2" cy="83.5" r="1.2" fill="#1e1e1e"/>
<rect x="391.6" y="14.5" width="150.4" height="116.5" fill="none" stroke="#5c5c5c" stroke-width="1.25"/>
<line x1="391.6" y1="131" x2="391.6" y2="128.4" stroke="#5c5c5c" stroke-width="0.8" />
<text x="391.6" y="139.8" font-size="7.2" font-weight="bold" text-anchor="middle" fill="#111" stroke="#111" stroke-width="0.18" >0.0</text>
<line x1="406.64" y1="131" x2="406.64" y2="129.5" stroke="#5c5c5c" stroke-width="0.8" />
<line x1="421.68" y1="131" x2="421.68" y2="128.4" stroke="#5c5c5c" stroke-width="0.8" />
<text x="421.68" y="139.8" font-size="7.2" font-weight="bold" text-anchor="middle" fill="#111" stroke="#111" stroke-width="0.18" >0.2</text>
<line x1="436.72" y1="131" x2="436.72" y2="129.5" stroke="#5c5c5c" stroke-width="0.8" />
<line x1="451.76" y1="131" x2="451.76" y2="128.4" stroke="#5c5c5c" stroke-width="0.8" />
<text x="451.76" y="139.8" font-size="7.2" font-weight="bold" text-anchor="middle" fill="#111" stroke="#111" stroke-width="0.18" >0.4</text>
<line x1="466.8" y1="131" x2="466.8" y2="129.5" stroke="#5c5c5c" stroke-width="0.8" />
<line x1="481.84" y1="131" x2="481.84" y2="128.4" stroke="#5c5c5c" stroke-width="0.8" />
<text x="481.84" y="139.8" font-size="7.2" font-weight="bold" text-anchor="middle" fill="#111" stroke="#111" stroke-width="0.18" >0.6</text>
<line x1="496.88" y1="131" x2="496.88" y2="129.5" stroke="#5c5c5c" stroke-width="0.8" />
<line x1="511.92" y1="131" x2="511.92" y2="128.4" stroke="#5c5c5c" stroke-width="0.8" />
<text x="511.92" y="139.8" font-size="7.2" font-weight="bold" text-anchor="middle" fill="#111" stroke="#111" stroke-width="0.18" >0.8</text>
<line x1="526.96" y1="131" x2="526.96" y2="129.5" stroke="#5c5c5c" stroke-width="0.8" />
<line x1="542" y1="131" x2="542" y2="128.4" stroke="#5c5c5c" stroke-width="0.8" />
<text x="542" y="139.8" font-size="7.2" font-weight="bold" text-anchor="middle" fill="#111" stroke="#111" stroke-width="0.18" >1.0</text>
<line x1="391.6" y1="119.2" x2="394.2" y2="119.2" stroke="#5c5c5c" stroke-width="0.8" />
<text x="388.3" y="121.7" font-size="7.0" font-weight="bold" text-anchor="end" fill="#111" stroke="#111" stroke-width="0.18" >0</text>
<line x1="391.6" y1="107.55" x2="393.1" y2="107.55" stroke="#5c5c5c" stroke-width="0.8" />
<line x1="391.6" y1="95.9" x2="394.2" y2="95.9" stroke="#5c5c5c" stroke-width="0.8" />
<text x="388.3" y="98.4" font-size="7.0" font-weight="bold" text-anchor="end" fill="#111" stroke="#111" stroke-width="0.18" >50</text>
<line x1="391.6" y1="84.25" x2="393.1" y2="84.25" stroke="#5c5c5c" stroke-width="0.8" />
<line x1="391.6" y1="72.6" x2="394.2" y2="72.6" stroke="#5c5c5c" stroke-width="0.8" />
<text x="388.3" y="75.1" font-size="7.0" font-weight="bold" text-anchor="end" fill="#111" stroke="#111" stroke-width="0.18" >100</text>
<line x1="391.6" y1="60.95" x2="393.1" y2="60.95" stroke="#5c5c5c" stroke-width="0.8" />
<line x1="391.6" y1="49.3" x2="394.2" y2="49.3" stroke="#5c5c5c" stroke-width="0.8" />
<text x="388.3" y="51.8" font-size="7.0" font-weight="bold" text-anchor="end" fill="#111" stroke="#111" stroke-width="0.18" >150</text>
<line x1="391.6" y1="37.65" x2="393.1" y2="37.65" stroke="#5c5c5c" stroke-width="0.8" />
<line x1="391.6" y1="26" x2="394.2" y2="26" stroke="#5c5c5c" stroke-width="0.8" />
<text x="388.3" y="28.5" font-size="7.0" font-weight="bold" text-anchor="end" fill="#111" stroke="#111" stroke-width="0.18" >200</text>
<text x="397.1" y="29.4" font-size="12.7" font-weight="normal" text-anchor="start" fill="#111" stroke="#111" stroke-width="0.1" >(c)</text>
<text x="448" y="38.9" font-size="7.5" font-weight="bold" text-anchor="start" fill="#ff4a4a" stroke="#ff4a4a" stroke-width="0.18" >S<tspan font-size="4.6" dy="2.3">BET</tspan><tspan dy="-2.3">=147.84 m</tspan><tspan font-size="4.8" dy="-2.6">2</tspan><tspan dy="2.6">/g</tspan></text>
<text x="450.5" y="103.5" font-size="7.6" font-weight="bold" text-anchor="start" fill="#111" stroke="#111" stroke-width="0.18" >S<tspan font-size="4.6" dy="2.3">BET</tspan><tspan dy="-2.3">=21.20 m</tspan><tspan font-size="4.8" dy="-2.6">2</tspan><tspan dy="2.6">/g</tspan></text>
<line x1="459.5" y1="73.5" x2="475.4" y2="73.5" stroke="#ff4a4a" stroke-width="0.8" />
<circle cx="467.5" cy="73.5" r="1.2" fill="#ff4a4a"/>
<text x="478.5" y="75.7" font-size="7.2" font-weight="bold" text-anchor="start" fill="#ff4a4a" stroke="#ff4a4a" stroke-width="0.18" >CeO<tspan font-size="5" dy="1.6">2</tspan></text>
<line x1="459.5" y1="84.7" x2="475.4" y2="84.7" stroke="#1e1e1e" stroke-width="0.8" />
<circle cx="467.5" cy="84.7" r="1.2" fill="#1e1e1e"/>
<text x="478.5" y="86.9" font-size="7.2" font-weight="bold" text-anchor="start" fill="#111" stroke="#111" stroke-width="0.18" >Ce-MOF</text>
<text transform="translate(373,72.4) rotate(-90)" font-size="9.5" font-weight="bold" text-anchor="middle" fill="#111" stroke="#111" stroke-width="0.18">Quantity Adsorbed (cm<tspan font-size="4.8" dy="-2.6">3</tspan><tspan dy="2.6">/g STP)</tspan></text>
<text x="413.8" y="151" font-size="9.4" font-weight="bold" text-anchor="start" fill="#111" stroke="#111" stroke-width="0.18" >Relative Pressure <tspan font-weight="normal">(</tspan>P/P<tspan font-size="4.6" dy="-4.6" dx="0.3">o</tspan><tspan dy="4.6" dx="1.6" font-weight="normal">)</tspan></text>
<path d="M21.1,251.9 L21.6,251.9 L22.09,251.9 L22.59,251.9 L23.08,251.9 L23.58,251.9 L24.08,251.9 L24.57,251.9 L25.07,251.9 L25.56,251.9 L26.06,251.9 L26.56,251.9 L27.05,251.9 L27.55,251.9 L28.04,251.9 L28.54,251.9 L29.04,251.9 L29.53,251.9 L30.03,251.9 L30.52,251.9 L31.02,251.9 L31.52,251.9 L32.01,251.9 L32.51,251.9 L33,251.9 L33.5,251.9 L34,251.9 L34.49,251.9 L34.99,251.9 L35.48,251.9 L35.98,251.9 L36.48,251.9 L36.97,251.9 L37.47,251.9 L37.96,251.9 L38.46,251.9 L38.96,251.9 L39.45,251.9 L39.95,251.9 L40.44,251.9 L40.94,251.9 L41.44,251.9 L41.93,251.9 L42.43,251.9 L42.92,251.9 L43.42,251.9 L43.92,251.9 L44.41,251.9 L44.91,251.9 L45.4,251.9 L45.9,251.9 L46.4,251.9 L46.89,251.9 L47.39,251.9 L47.88,251.9 L48.38,251.9 L48.88,251.9 L49.37,251.9 L49.87,251.9 L50.36,251.9 L50.86,251.9 L51.36,251.9 L51.85,251.9 L52.35,251.9 L52.84,251.9 L53.34,251.9 L53.84,251.9 L54.33,251.9 L54.83,251.9 L55.32,251.9 L55.82,251.9 L56.32,251.9 L56.81,251.9 L57.31,251.9 L57.8,251.9 L58.3,251.9 L58.8,251.9 L59.29,251.9 L59.79,251.9 L60.28,251.9 L60.78,251.9 L61.28,251.9 L61.77,251.9 L62.27,251.9 L62.76,251.9 L63.26,251.9 L63.76,251.9 L64.25,251.9 L64.75,251.9 L65.24,251.9 L65.74,251.9 L66.24,251.9 L66.73,251.9 L67.23,251.9 L67.72,251.9 L68.22,251.9 L68.72,251.9 L69.21,251.9 L69.71,251.9 L70.2,251.9 L70.7,251.9 L71.2,251.9 L71.69,251.9 L72.19,251.9 L72.68,251.9 L73.18,251.9 L73.68,251.9 L74.17,251.9 L74.67,251.9 L75.16,251.9 L75.66,251.9 L76.16,251.9 L76.65,251.9 L77.15,251.9 L77.64,251.9 L78.14,251.9 L78.64,251.9 L79.13,251.9 L79.63,251.9 L80.12,251.9 L80.62,251.9 L81.12,251.9 L81.61,251.9 L82.11,251.9 L82.6,251.9 L83.1,251.9 L83.6,251.9 L84.09,251.9 L84.59,251.9 L85.08,251.9 L85.58,251.9 L86.08,251.9 L86.57,251.9 L87.07,251.9 L87.56,251.9 L88.06,251.9 L88.56,251.9 L89.05,251.9 L89.55,251.9 L90.04,251.9 L90.54,251.9 L91.04,251.9 L91.53,251.9 L92.03,251.9 L92.52,251.9 L93.02,251.9 L93.52,251.9 L94.01,251.9 L94.51,251.9 L95,251.9 L95.5,251.9 L96,251.9 L96.49,251.9 L96.99,251.9 L97.48,251.91 L97.98,251.91 L98.48,251.91 L98.97,251.91 L99.47,251.91 L99.96,251.91 L100.46,251.91 L100.96,251.91 L101.45,251.91 L101.95,251.91 L102.44,251.91 L102.94,251.91 L103.44,251.91 L103.93,251.92 L104.43,251.92 L104.92,251.92 L105.42,251.92 L105.92,251.92 L106.41,251.93 L106.91,251.93 L107.4,251.93 L107.9,251.93 L108.4,251.94 L108.89,251.94 L109.39,251.94 L109.88,251.95 L110.38,251.95 L110.88,251.96 L111.37,251.96 L111.87,251.97 L112.36,251.97 L112.86,251.98 L113.36,251.99 L113.85,252 L114.35,252.01 L114.84,252.02 L115.34,252.03 L115.84,252.04 L116.33,252.05 L116.83,252.07 L117.32,252.08 L117.82,252.1 L118.32,252.12 L118.81,252.14 L119.31,252.16 L119.8,252.18 L120.3,252.21 L120.8,252.24 L121.29,252.27 L121.79,252.3 L122.28,252.33 L122.78,252.37 L123.28,252.41 L123.77,252.46 L124.27,252.51 L124.76,252.56 L125.26,252.62 L125.76,252.68 L126.25,252.75 L126.75,252.82 L127.24,252.89 L127.74,252.97 L128.24,253.06 L128.73,253.15 L129.23,253.25 L129.72,253.35 L130.22,253.46 L130.72,253.58 L131.21,253.7 L131.71,253.83 L132.2,253.97 L132.7,254.11 L133.2,254.26 L133.69,254.41 L134.19,254.57 L134.68,254.73 L135.18,254.9 L135.68,255.07 L136.17,255.24 L136.67,255.42 L137.16,255.6 L137.66,255.78 L138.16,255.96 L138.65,256.14 L139.15,256.32 L139.64,256.49 L140.14,256.67 L140.64,256.84 L141.13,257.01 L141.63,257.17 L142.12,257.33 L142.62,257.49 L143.12,257.64 L143.61,257.78 L144.11,257.92 L144.6,258.05 L145.1,258.17 L145.6,258.29 L146.09,258.41 L146.59,258.51 L147.08,258.61 L147.58,258.71 L148.08,258.8 L148.57,258.88 L149.07,258.96 L149.56,259.03 L150.06,259.1 L150.56,259.16 L151.05,259.22 L151.55,259.27 L152.04,259.32 L152.54,259.37 L153.04,259.41 L153.53,259.45 L154.03,259.49 L154.52,259.52 L155.02,259.55 L155.52,259.58 L156.01,259.61 L156.51,259.63 L157,259.66 L157.5,259.68 L158,259.69 L158.49,259.71 L158.99,259.73 L159.48,259.74 L159.98,259.76 L160.48,259.77 L160.97,259.78 L161.47,259.79 L161.96,259.8 L162.46,259.81 L162.96,259.82 L163.45,259.82 L163.95,259.83 L164.44,259.84 L164.94,259.84 L165.44,259.85 L165.93,259.85 L166.43,259.85 L166.92,259.86 L167.42,259.86 L167.92,259.87 L168.41,259.87 L168.91,259.87 L169.4,259.87 L169.9,259.88" fill="none" stroke="#9a9a8a" stroke-width="0.8" stroke-linejoin="round" />
<path d="M98,251.91 L98.53,251.91 L99.05,251.91 L99.58,251.91 L100.1,251.91 L100.62,251.91 L101.15,251.91 L101.67,251.91 L102.2,251.91 L102.72,251.91 L103.25,251.91 L103.78,251.92 L104.3,251.92 L104.83,251.92 L105.35,251.92 L105.88,251.92 L106.4,251.93 L106.92,251.93 L107.45,251.93 L107.97,251.93 L108.5,251.94 L109.03,251.94 L109.55,251.95 L110.08,251.95 L110.6,251.95 L111.12,251.96 L111.65,251.97 L112.17,251.97 L112.7,251.98 L113.22,251.99 L113.75,252 L114.28,252.01 L114.8,252.02 L115.33,252.03 L115.85,252.04 L116.38,252.05 L116.9,252.07 L117.42,252.09 L117.95,252.1 L118.47,252.12 L119,252.15 L119.53,252.17 L120.05,252.19 L120.58,252.22 L121.1,252.25 L121.62,252.29 L122.15,252.32 L122.67,252.36 L123.2,252.41 L123.72,252.46 L124.25,252.51 L124.78,252.56 L125.3,252.62 L125.83,252.69 L126.35,252.76 L126.88,252.83 L127.4,252.92 L127.92,253 L128.45,253.1 L128.97,253.2 L129.5,253.31 L130.03,253.42 L130.55,253.54 L131.07,253.67 L131.6,253.8 L132.12,253.95 L132.65,254.09 L133.18,254.25 L133.7,254.41 L134.22,254.58 L134.75,254.75 L135.28,254.93 L135.8,255.11 L136.32,255.3 L136.85,255.48 L137.38,255.67 L137.9,255.86 L138.43,256.05 L138.95,256.24 L139.47,256.43 L140,256.62" fill="none" stroke="#d8b060" stroke-width="0.7" stroke-linejoin="round" />
<path d="M21.1,251.9 L21.56,251.9 L22.01,251.9 L22.47,251.9 L22.93,251.9 L23.38,251.9 L23.84,251.9 L24.29,251.9 L24.75,251.9 L25.21,251.9 L25.66,251.9 L26.12,251.9 L26.58,251.9 L27.03,251.9 L27.49,251.9 L27.95,251.9 L28.4,251.9 L28.86,251.9 L29.31,251.9 L29.77,251.9 L30.23,251.9 L30.68,251.9 L31.14,251.9 L31.6,251.9 L32.05,251.9 L32.51,251.9 L32.96,251.9 L33.42,251.9 L33.88,251.9 L34.33,251.9 L34.79,251.9 L35.25,251.9 L35.7,251.9 L36.16,251.9 L36.62,251.9 L37.07,251.9 L37.53,251.9 L37.98,251.9 L38.44,251.9 L38.9,251.9 L39.35,251.9 L39.81,251.9 L40.27,251.9 L40.72,251.9 L41.18,251.9 L41.64,251.9 L42.09,251.9 L42.55,251.9 L43,251.9 L43.46,251.9 L43.92,251.9 L44.37,251.9 L44.83,251.9 L45.29,251.9 L45.74,251.9 L46.2,251.9 L46.65,251.9 L47.11,251.9 L47.57,251.9 L48.02,251.9 L48.48,251.9 L48.94,251.9 L49.39,251.9 L49.85,251.9 L50.31,251.9 L50.76,251.9 L51.22,251.9 L51.67,251.9 L52.13,251.9 L52.59,251.9 L53.04,251.9 L53.5,251.9 L53.96,251.9 L54.41,251.9 L54.87,251.9 L55.33,251.9 L55.78,251.9 L56.24,251.9 L56.69,251.9 L57.15,251.9 L57.61,251.9 L58.06,251.9 L58.52,251.9 L58.98,251.9 L59.43,251.9 L59.89,251.9 L60.34,251.9 L60.8,251.9 L61.26,251.9 L61.71,251.9 L62.17,251.9 L62.63,251.9 L63.08,251.9 L63.54,251.9 L64,251.9 L64.45,251.9 L64.91,251.9 L65.36,251.9 L65.82,251.9 L66.28,251.9 L66.73,251.9 L67.19,251.9 L67.65,251.9 L68.1,251.9 L68.56,251.9 L69.02,251.9 L69.47,251.9 L69.93,251.9 L70.38,251.9 L70.84,251.9 L71.3,251.9 L71.75,251.9 L72.21,251.9 L72.67,251.9 L73.12,251.9 L73.58,251.9 L74.03,251.9 L74.49,251.9 L74.95,251.9 L75.4,251.9 L75.86,251.9 L76.32,251.9 L76.77,251.9 L77.23,251.9 L77.69,251.9 L78.14,251.9 L78.6,251.9 L79.05,251.9 L79.51,251.9 L79.97,251.9 L80.42,251.9 L80.88,251.9 L81.34,251.9 L81.79,251.9 L82.25,251.9 L82.7,251.9 L83.16,251.9 L83.62,251.9 L84.07,251.9 L84.53,251.9 L84.99,251.9 L85.44,251.9 L85.9,251.9 L86.36,251.89 L86.81,251.89 L87.27,251.89 L87.72,251.89 L88.18,251.89 L88.64,251.89 L89.09,251.88 L89.55,251.88 L90.01,251.88 L90.46,251.87 L90.92,251.87 L91.38,251.86 L91.83,251.85 L92.29,251.85 L92.74,251.84 L93.2,251.83 L93.66,251.81 L94.11,251.8 L94.57,251.78 L95.03,251.76 L95.48,251.74 L95.94,251.72 L96.4,251.69 L96.85,251.66 L97.31,251.62 L97.76,251.58 L98.22,251.54 L98.68,251.49 L99.13,251.43 L99.59,251.36 L100.05,251.29 L100.5,251.21 L100.96,251.12 L101.41,251.02 L101.87,250.91 L102.33,250.79 L102.78,250.66 L103.24,250.51 L103.7,250.35 L104.15,250.18 L104.61,249.98 L105.07,249.77 L105.52,249.55 L105.98,249.3 L106.43,249.03 L106.89,248.75 L107.35,248.44 L107.8,248.1 L108.26,247.75 L108.72,247.37 L109.17,246.97 L109.63,246.54 L110.09,246.08 L110.54,245.6 L111,245.09 L111.45,244.56 L111.91,244 L112.37,243.42 L112.82,242.81 L113.28,242.17 L113.74,241.52 L114.19,240.84 L114.65,240.14 L115.1,239.42 L115.56,238.69 L116.02,237.94 L116.47,237.18 L116.93,236.41 L117.39,235.63 L117.84,234.85 L118.3,234.06 L118.76,233.28 L119.21,232.51 L119.67,231.74 L120.12,230.98 L120.58,230.24 L121.04,229.53 L121.49,228.83 L121.95,228.16 L122.41,227.53 L122.86,226.93 L123.32,226.37 L123.78,225.85 L124.23,225.37 L124.69,224.95 L125.14,224.57 L125.6,224.25 L126.06,223.99 L126.51,223.78 L126.97,223.64 L127.43,223.56 L127.88,223.53 L128.34,223.58 L128.79,223.7 L129.25,223.93 L129.71,224.26 L130.16,224.69 L130.62,225.21 L131.08,225.83 L131.53,226.54 L131.99,227.33 L132.45,228.2 L132.9,229.13 L133.36,230.13 L133.81,231.18 L134.27,232.28 L134.73,233.41 L135.18,234.58 L135.64,235.76 L136.1,236.96 L136.55,238.16 L137.01,239.36 L137.47,240.54 L137.92,241.72 L138.38,242.87 L138.83,243.99 L139.29,245.08 L139.75,246.13 L140.2,247.15 L140.66,248.12 L141.12,249.04 L141.57,249.92 L142.03,250.75 L142.48,251.53 L142.94,252.26 L143.4,252.95 L143.85,253.59 L144.31,254.18 L144.77,254.72 L145.22,255.22 L145.68,255.69 L146.14,256.11 L146.59,256.49 L147.05,256.84 L147.5,257.16 L147.96,257.45 L148.42,257.71 L148.87,257.94 L149.33,258.15 L149.79,258.33 L150.24,258.5 L150.7,258.65 L151.16,258.78 L151.61,258.9 L152.07,259.01 L152.52,259.1 L152.98,259.19 L153.44,259.26 L153.89,259.33 L154.35,259.38 L154.81,259.44 L155.26,259.48 L155.72,259.52 L156.17,259.56 L156.63,259.59 L157.09,259.62 L157.54,259.65 L158,259.67" fill="none" stroke="#4d4aa3" stroke-width="0.85" stroke-linejoin="round" />
<path d="M112,251.91 L112.24,251.91 L112.48,251.91 L112.72,251.92 L112.96,251.92 L113.2,251.92 L113.44,251.92 L113.68,251.93 L113.92,251.93 L114.16,251.93 L114.4,251.93 L114.64,251.94 L114.88,251.94 L115.12,251.94 L115.36,251.95 L115.6,251.95 L115.84,251.95 L116.08,251.96 L116.32,251.96 L116.56,251.96 L116.8,251.96 L117.04,251.97 L117.28,251.97 L117.52,251.97 L117.76,251.97 L118,251.97 L118.24,251.97 L118.48,251.96 L118.72,251.96 L118.96,251.95 L119.2,251.95 L119.44,251.94 L119.68,251.92 L119.92,251.9 L120.16,251.88 L120.4,251.86 L120.64,251.82 L120.88,251.78 L121.12,251.74 L121.36,251.68 L121.6,251.62 L121.84,251.54 L122.08,251.45 L122.32,251.34 L122.56,251.22 L122.8,251.09 L123.04,250.93 L123.28,250.75 L123.52,250.54 L123.76,250.31 L124,250.04 L124.24,249.75 L124.48,249.42 L124.72,249.05 L124.96,248.64 L125.2,248.18 L125.44,247.68 L125.68,247.13 L125.92,246.52 L126.16,245.86 L126.4,245.13 L126.64,244.35 L126.88,243.5 L127.12,242.59 L127.36,241.61 L127.6,240.56 L127.84,239.44 L128.08,238.26 L128.32,237 L128.56,235.68 L128.8,234.28 L129.04,232.83 L129.28,231.31 L129.52,229.74 L129.76,228.11 L130,226.43 L130.24,224.72 L130.48,222.97 L130.72,221.19 L130.96,219.4 L131.2,217.59 L131.44,215.79 L131.68,213.99 L131.92,212.22 L132.16,210.48 L132.4,208.78 L132.64,207.14 L132.88,205.57 L133.12,204.07 L133.36,202.66 L133.6,201.35 L133.84,200.15 L134.08,199.07 L134.32,198.12 L134.56,197.31 L134.8,196.64 L135.04,196.12 L135.28,195.75 L135.52,195.55 L135.76,195.5 L136,195.62 L136.24,195.9 L136.48,196.34 L136.72,196.94 L136.96,197.69 L137.2,198.58 L137.44,199.62 L137.68,200.79 L137.92,202.08 L138.16,203.49 L138.4,205.01 L138.64,206.61 L138.88,208.3 L139.12,210.06 L139.36,211.88 L139.6,213.75 L139.84,215.66 L140.08,217.59 L140.32,219.53 L140.56,221.48 L140.8,223.43 L141.04,225.35 L141.28,227.26 L141.52,229.13 L141.76,230.96 L142,232.75 L142.24,234.48 L142.48,236.15 L142.72,237.77 L142.96,239.32 L143.2,240.8 L143.44,242.21 L143.68,243.55 L143.92,244.81 L144.16,246.01 L144.4,247.13 L144.64,248.18 L144.88,249.16 L145.12,250.08 L145.36,250.93 L145.6,251.72 L145.84,252.44 L146.08,253.11 L146.32,253.72 L146.56,254.28 L146.8,254.8 L147.04,255.27 L147.28,255.69 L147.52,256.08 L147.76,256.43 L148,256.74 L148.24,257.03 L148.48,257.28 L148.72,257.51 L148.96,257.72 L149.2,257.91 L149.44,258.07 L149.68,258.22 L149.92,258.35 L150.16,258.47 L150.4,258.58 L150.64,258.68 L150.88,258.76 L151.12,258.84 L151.36,258.91 L151.6,258.97 L151.84,259.03 L152.08,259.08 L152.32,259.13 L152.56,259.17 L152.8,259.21 L153.04,259.25 L153.28,259.28 L153.52,259.31 L153.76,259.34 L154,259.36 L154.24,259.39 L154.48,259.41 L154.72,259.43 L154.96,259.45 L155.2,259.47 L155.44,259.48 L155.68,259.5 L155.92,259.52 L156.16,259.53 L156.4,259.55 L156.64,259.56 L156.88,259.57 L157.12,259.59 L157.36,259.6 L157.6,259.61 L157.84,259.62 L158.08,259.63 L158.32,259.64 L158.56,259.65 L158.8,259.66 L159.04,259.67 L159.28,259.68 L159.52,259.68 L159.76,259.69 L160,259.7" fill="none" stroke="#66d69a" stroke-width="0.85" stroke-linejoin="round" />
<path d="M21.1,251.87 L21.51,251.87 L21.93,251.87 L22.34,251.86 L22.76,251.86 L23.17,251.86 L23.59,251.85 L24,251.85 L24.42,251.85 L24.83,251.84 L25.25,251.84 L25.66,251.83 L26.07,251.83 L26.49,251.82 L26.9,251.82 L27.32,251.81 L27.73,251.81 L28.15,251.8 L28.56,251.79 L28.98,251.79 L29.39,251.78 L29.8,251.77 L30.22,251.76 L30.63,251.75 L31.05,251.74 L31.46,251.73 L31.88,251.72 L32.29,251.71 L32.71,251.7 L33.12,251.68 L33.54,251.67 L33.95,251.65 L34.36,251.64 L34.78,251.62 L35.19,251.61 L35.61,251.59 L36.02,251.57 L36.44,251.55 L36.85,251.53 L37.27,251.51 L37.68,251.48 L38.09,251.46 L38.51,251.44 L38.92,251.41 L39.34,251.38 L39.75,251.35 L40.17,251.32 L40.58,251.29 L41,251.26 L41.41,251.23 L41.83,251.19 L42.24,251.16 L42.65,251.12 L43.07,251.08 L43.48,251.04 L43.9,251 L44.31,250.95 L44.73,250.91 L45.14,250.86 L45.56,250.81 L45.97,250.76 L46.38,250.71 L46.8,250.66 L47.21,250.61 L47.63,250.55 L48.04,250.49 L48.46,250.43 L48.87,250.37 L49.29,250.31 L49.7,250.25 L50.12,250.18 L50.53,250.11 L50.94,250.04 L51.36,249.97 L51.77,249.9 L52.19,249.83 L52.6,249.76 L53.02,249.68 L53.43,249.6 L53.85,249.53 L54.26,249.45 L54.67,249.37 L55.09,249.28 L55.5,249.2 L55.92,249.12 L56.33,249.03 L56.75,248.95 L57.16,248.86 L57.58,248.77 L57.99,248.69 L58.41,248.6 L58.82,248.51 L59.23,248.42 L59.65,248.33 L60.06,248.24 L60.48,248.16 L60.89,248.07 L61.31,247.98 L61.72,247.89 L62.14,247.8 L62.55,247.72 L62.96,247.63 L63.38,247.54 L63.79,247.46 L64.21,247.37 L64.62,247.29 L65.04,247.21 L65.45,247.13 L65.87,247.05 L66.28,246.98 L66.69,246.9 L67.11,246.83 L67.52,246.76 L67.94,246.69 L68.35,246.62 L68.77,246.56 L69.18,246.5 L69.6,246.44 L70.01,246.38 L70.43,246.32 L70.84,246.27 L71.25,246.23 L71.67,246.18 L72.08,246.14 L72.5,246.1 L72.91,246.06 L73.33,246.03 L73.74,246 L74.16,245.97 L74.57,245.95 L74.98,245.93 L75.4,245.92 L75.81,245.9 L76.23,245.9 L76.64,245.89 L77.06,245.89 L77.47,245.89 L77.89,245.9 L78.3,245.91 L78.72,245.92 L79.13,245.94 L79.54,245.96 L79.96,245.98 L80.37,246.01 L80.79,246.04 L81.2,246.07 L81.62,246.11 L82.03,246.14 L82.45,246.19 L82.86,246.23 L83.28,246.28 L83.69,246.33 L84.1,246.39 L84.52,246.44 L84.93,246.5 L85.35,246.57 L85.76,246.63 L86.18,246.7 L86.59,246.76 L87.01,246.83 L87.42,246.91 L87.83,246.98 L88.25,247.05 L88.66,247.13 L89.08,247.21 L89.49,247.29 L89.91,247.37 L90.32,247.45 L90.74,247.53 L91.15,247.61 L91.56,247.69 L91.98,247.77 L92.39,247.85 L92.81,247.93 L93.22,248 L93.64,248.08 L94.05,248.16 L94.47,248.23 L94.88,248.3 L95.3,248.37 L95.71,248.44 L96.12,248.5 L96.54,248.56 L96.95,248.62 L97.37,248.67 L97.78,248.72 L98.2,248.76 L98.61,248.8 L99.03,248.83 L99.44,248.85 L99.86,248.87 L100.27,248.88 L100.68,248.88 L101.1,248.87 L101.51,248.85 L101.93,248.83 L102.34,248.79 L102.76,248.74 L103.17,248.67 L103.59,248.6 L104,248.51" fill="none" stroke="#7a7a7a" stroke-width="0.85" stroke-linejoin="round" />
<path d="M86,246.85 L86.21,246.88 L86.42,246.92 L86.63,246.95 L86.84,246.99 L87.05,247.03 L87.26,247.07 L87.47,247.11 L87.68,247.14 L87.89,247.18 L88.1,247.22 L88.31,247.26 L88.52,247.3 L88.73,247.34 L88.94,247.38 L89.15,247.42 L89.36,247.46 L89.57,247.51 L89.78,247.55 L89.99,247.59 L90.19,247.63 L90.4,247.67 L90.61,247.71 L90.82,247.75 L91.03,247.8 L91.24,247.84 L91.45,247.88 L91.66,247.92 L91.87,247.96 L92.08,248 L92.29,248.04 L92.5,248.08 L92.71,248.12 L92.92,248.16 L93.13,248.2 L93.34,248.24 L93.55,248.28 L93.76,248.32 L93.97,248.36 L94.18,248.4 L94.39,248.43 L94.6,248.47 L94.81,248.5 L95.02,248.54 L95.23,248.57 L95.44,248.61 L95.65,248.64 L95.86,248.67 L96.07,248.7 L96.28,248.73 L96.49,248.76 L96.7,248.78 L96.91,248.81 L97.12,248.84 L97.33,248.86 L97.54,248.88 L97.75,248.9 L97.96,248.92 L98.17,248.94 L98.38,248.96 L98.59,248.97 L98.79,248.98 L99,248.99 L99.21,249 L99.42,249.01 L99.63,249.02 L99.84,249.02 L100.05,249.02 L100.26,249.02 L100.47,249.01 L100.68,249.01 L100.89,249 L101.1,248.99 L101.31,248.97 L101.52,248.96 L101.73,248.94 L101.94,248.91 L102.15,248.89 L102.36,248.86 L102.57,248.82 L102.78,248.79 L102.99,248.75 L103.2,248.7 L103.41,248.66 L103.62,248.61 L103.83,248.55 L104.04,248.49 L104.25,248.43 L104.46,248.37 L104.67,248.29 L104.88,248.22 L105.09,248.14 L105.3,248.05 L105.51,247.97 L105.72,247.87 L105.93,247.77 L106.14,247.67 L106.35,247.56 L106.56,247.45 L106.77,247.33 L106.97,247.2 L107.18,247.07 L107.39,246.94 L107.6,246.8 L107.81,246.65 L108.02,246.5 L108.23,246.34 L108.44,246.18 L108.65,246.01 L108.86,245.84 L109.07,245.65 L109.28,245.47 L109.49,245.28 L109.7,245.08 L109.91,244.87 L110.12,244.66 L110.33,244.44 L110.54,244.22 L110.75,243.99 L110.96,243.76 L111.17,243.52 L111.38,243.27 L111.59,243.02 L111.8,242.76 L112.01,242.5 L112.22,242.23 L112.43,241.95 L112.64,241.67 L112.85,241.38 L113.06,241.09 L113.27,240.79 L113.48,240.49 L113.69,240.18 L113.9,239.87 L114.11,239.56 L114.32,239.24 L114.53,238.91 L114.74,238.58 L114.95,238.25 L115.16,237.91 L115.36,237.57 L115.57,237.22 L115.78,236.88 L115.99,236.53 L116.2,236.17 L116.41,235.82 L116.62,235.46 L116.83,235.1 L117.04,234.73 L117.25,234.37 L117.46,234 L117.67,233.64 L117.88,233.27 L118.09,232.9 L118.3,232.53 L118.51,232.16 L118.72,231.78 L118.93,231.41 L119.14,231.04 L119.35,230.66 L119.56,230.29 L119.77,229.91 L119.98,229.53 L120.19,229.15 L120.4,228.77 L120.61,228.39 L120.82,228.01 L121.03,227.62 L121.24,227.23 L121.45,226.84 L121.66,226.44 L121.87,226.04 L122.08,225.63 L122.29,225.21 L122.5,224.79 L122.71,224.35 L122.92,223.91 L123.13,223.45 L123.34,222.98 L123.55,222.5 L123.75,221.99 L123.96,221.48 L124.17,220.94 L124.38,220.37 L124.59,219.79 L124.8,219.18 L125.01,218.54 L125.22,217.88 L125.43,217.18 L125.64,216.45 L125.85,215.69 L126.06,214.89 L126.27,214.05 L126.48,213.18 L126.69,212.26 L126.9,211.31 L127.11,210.31 L127.32,209.27 L127.53,208.19 L127.74,207.07 L127.95,205.91 L128.16,204.72 L128.37,203.49 L128.58,202.24 L128.79,200.96 L129,199.66 L129.21,198.33 L129.42,196.99 L129.63,195.64 L129.84,194.27 L130.05,192.9 L130.26,191.53 L130.47,190.17 L130.68,188.82 L130.89,187.48 L131.1,186.17 L131.31,184.89 L131.52,183.64 L131.73,182.44 L131.94,181.29 L132.15,180.2 L132.35,179.17 L132.56,178.21 L132.77,177.33 L132.98,176.54 L133.19,175.84 L133.4,175.24 L133.61,174.74 L133.82,174.35 L134.03,174.08 L134.24,173.92 L134.45,173.88 L134.66,173.97 L134.87,174.19 L135.08,174.53 L135.29,175 L135.5,175.6 L135.71,176.32 L135.92,177.18 L136.13,178.15 L136.34,179.24 L136.55,180.45 L136.76,181.77 L136.97,183.19 L137.18,184.71 L137.39,186.33 L137.6,188.03 L137.81,189.81 L138.02,191.66 L138.23,193.57 L138.44,195.54 L138.65,197.55 L138.86,199.6 L139.07,201.69 L139.28,203.79 L139.49,205.91 L139.7,208.03 L139.91,210.16 L140.12,212.27 L140.33,214.37 L140.53,216.45 L140.74,218.5 L140.95,220.52 L141.16,222.49 L141.37,224.43 L141.58,226.31 L141.79,228.14 L142,229.92 L142.21,231.64 L142.42,233.3 L142.63,234.9 L142.84,236.44 L143.05,237.91 L143.26,239.31 L143.47,240.66 L143.68,241.93 L143.89,243.14 L144.1,244.29 L144.31,245.37 L144.52,246.4 L144.73,247.36 L144.94,248.27 L145.15,249.12 L145.36,249.91 L145.57,250.66 L145.78,251.35 L145.99,252 L146.2,252.6 L146.41,253.16 L146.62,253.68 L146.83,254.16 L147.04,254.61 L147.25,255.02 L147.46,255.4 L147.67,255.74 L147.88,256.07 L148.09,256.36 L148.3,256.64 L148.51,256.89 L148.72,257.12 L148.93,257.33 L149.13,257.52 L149.34,257.7 L149.55,257.87 L149.76,258.02 L149.97,258.16 L150.18,258.28 L150.39,258.4 L150.6,258.51 L150.81,258.61 L151.02,258.7 L151.23,258.78 L151.44,258.86 L151.65,258.93 L151.86,259 L152.07,259.06 L152.28,259.11 L152.49,259.17 L152.7,259.22 L152.91,259.26 L153.12,259.3 L153.33,259.34 L153.54,259.38 L153.75,259.41 L153.96,259.45 L154.17,259.48 L154.38,259.51 L154.59,259.53 L154.8,259.56 L155.01,259.58 L155.22,259.6 L155.43,259.62 L155.64,259.64 L155.85,259.66 L156.06,259.68 L156.27,259.7 L156.48,259.71 L156.69,259.73 L156.9,259.74 L157.11,259.76 L157.31,259.77 L157.52,259.78 L157.73,259.79 L157.94,259.81 L158.15,259.82 L158.36,259.83 L158.57,259.84 L158.78,259.85 L158.99,259.85 L159.2,259.86 L159.41,259.87 L159.62,259.88 L159.83,259.89 L160.04,259.89 L160.25,259.9 L160.46,259.91 L160.67,259.91 L160.88,259.92 L161.09,259.93 L161.3,259.93 L161.51,259.94 L161.72,259.94 L161.93,259.95 L162.14,259.95 L162.35,259.96 L162.56,259.96 L162.77,259.96 L162.98,259.97 L163.19,259.97 L163.4,259.98 L163.61,259.98 L163.82,259.98 L164.03,259.99 L164.24,259.99 L164.45,259.99 L164.66,260 L164.87,260 L165.08,260 L165.29,260.01 L165.5,260.01 L165.71,260.01 L165.91,260.01 L166.12,260.02 L166.33,260.02 L166.54,260.02 L166.75,260.02 L166.96,260.02 L167.17,260.03 L167.38,260.03 L167.59,260.03 L167.8,260.03 L168.01,260.03 L168.22,260.03 L168.43,260.04 L168.64,260.04 L168.85,260.04 L169.06,260.04 L169.27,260.04 L169.48,260.04 L169.69,260.05 L169.9,260.05" fill="none" stroke="#6a98ea" stroke-width="0.85" stroke-linejoin="round" />
<path d="M86,246.67 L86.21,246.7 L86.42,246.74 L86.63,246.77 L86.84,246.81 L87.05,246.84 L87.26,246.88 L87.47,246.91 L87.68,246.95 L87.89,246.99 L88.1,247.03 L88.31,247.06 L88.52,247.1 L88.73,247.14 L88.94,247.18 L89.15,247.22 L89.36,247.26 L89.57,247.3 L89.78,247.34 L89.99,247.38 L90.19,247.42 L90.4,247.46 L90.61,247.5 L90.82,247.54 L91.03,247.58 L91.24,247.62 L91.45,247.66 L91.66,247.71 L91.87,247.75 L92.08,247.79 L92.29,247.83 L92.5,247.87 L92.71,247.91 L92.92,247.95 L93.13,247.99 L93.34,248.03 L93.55,248.07 L93.76,248.1 L93.97,248.14 L94.18,248.18 L94.39,248.22 L94.6,248.25 L94.81,248.29 L95.02,248.33 L95.23,248.36 L95.44,248.4 L95.65,248.43 L95.86,248.46 L96.07,248.49 L96.28,248.53 L96.49,248.56 L96.7,248.58 L96.91,248.61 L97.12,248.64 L97.33,248.67 L97.54,248.69 L97.75,248.72 L97.96,248.74 L98.17,248.76 L98.38,248.78 L98.59,248.8 L98.79,248.81 L99,248.83 L99.21,248.84 L99.42,248.85 L99.63,248.86 L99.84,248.87 L100.05,248.88 L100.26,248.88 L100.47,248.88 L100.68,248.88 L100.89,248.88 L101.1,248.87 L101.31,248.86 L101.52,248.85 L101.73,248.84 L101.94,248.82 L102.15,248.81 L102.36,248.78 L102.57,248.76 L102.78,248.73 L102.99,248.7 L103.2,248.67 L103.41,248.63 L103.62,248.59 L103.83,248.55 L104.04,248.5 L104.25,248.45 L104.46,248.39 L104.67,248.33 L104.88,248.27 L105.09,248.2 L105.3,248.13 L105.51,248.05 L105.72,247.97 L105.93,247.88 L106.14,247.79 L106.35,247.7 L106.56,247.6 L106.77,247.49 L106.97,247.38 L107.18,247.27 L107.39,247.15 L107.6,247.03 L107.81,246.9 L108.02,246.76 L108.23,246.62 L108.44,246.47 L108.65,246.32 L108.86,246.16 L109.07,246 L109.28,245.83 L109.49,245.65 L109.7,245.47 L109.91,245.29 L110.12,245.1 L110.33,244.9 L110.54,244.69 L110.75,244.48 L110.96,244.27 L111.17,244.04 L111.38,243.82 L111.59,243.58 L111.8,243.34 L112.01,243.1 L112.22,242.85 L112.43,242.59 L112.64,242.33 L112.85,242.06 L113.06,241.79 L113.27,241.51 L113.48,241.23 L113.69,240.94 L113.9,240.64 L114.11,240.34 L114.32,240.04 L114.53,239.73 L114.74,239.42 L114.95,239.1 L115.16,238.78 L115.36,238.46 L115.57,238.13 L115.78,237.8 L115.99,237.46 L116.2,237.12 L116.41,236.78 L116.62,236.43 L116.83,236.09 L117.04,235.74 L117.25,235.38 L117.46,235.03 L117.67,234.67 L117.88,234.32 L118.09,233.96 L118.3,233.6 L118.51,233.24 L118.72,232.87 L118.93,232.51 L119.14,232.15 L119.35,231.78 L119.56,231.42 L119.77,231.05 L119.98,230.68 L120.19,230.32 L120.4,229.95 L120.61,229.58 L120.82,229.21 L121.03,228.84 L121.24,228.46 L121.45,228.09 L121.66,227.71 L121.87,227.32 L122.08,226.94 L122.29,226.55 L122.5,226.15 L122.71,225.74 L122.92,225.33 L123.13,224.91 L123.34,224.48 L123.55,224.04 L123.75,223.59 L123.96,223.12 L124.17,222.64 L124.38,222.13 L124.59,221.62 L124.8,221.08 L125.01,220.51 L125.22,219.93 L125.43,219.32 L125.64,218.68 L125.85,218.01 L126.06,217.31 L126.27,216.57 L126.48,215.81 L126.69,215 L126.9,214.16 L127.11,213.28 L127.32,212.37 L127.53,211.41 L127.74,210.41 L127.95,209.37 L128.16,208.29 L128.37,207.17 L128.58,206.01 L128.79,204.83 L129,203.61 L129.21,202.37 L129.42,201.11 L129.63,199.82 L129.84,198.51 L130.05,197.19 L130.26,195.86 L130.47,194.52 L130.68,193.18 L130.89,191.85 L131.1,190.52 L131.31,189.21 L131.52,187.92 L131.73,186.65 L131.94,185.42 L132.15,184.23 L132.35,183.08 L132.56,181.99 L132.77,180.96 L132.98,180 L133.19,179.11 L133.4,178.31 L133.61,177.59 L133.82,176.96 L134.03,176.44 L134.24,176.02 L134.45,175.71 L134.66,175.51 L134.87,175.44 L135.08,175.48 L135.29,175.64 L135.5,175.93 L135.71,176.35 L135.92,176.89 L136.13,177.56 L136.34,178.35 L136.55,179.26 L136.76,180.29 L136.97,181.43 L137.18,182.69 L137.39,184.05 L137.6,185.5 L137.81,187.06 L138.02,188.69 L138.23,190.41 L138.44,192.2 L138.65,194.05 L138.86,195.96 L139.07,197.92 L139.28,199.92 L139.49,201.95 L139.7,204.01 L139.91,206.08 L140.12,208.16 L140.33,210.25 L140.53,212.33 L140.74,214.39 L140.95,216.44 L141.16,218.46 L141.37,220.45 L141.58,222.4 L141.79,224.31 L142,226.18 L142.21,227.99 L142.42,229.76 L142.63,231.47 L142.84,233.12 L143.05,234.71 L143.26,236.23 L143.47,237.7 L143.68,239.1 L143.89,240.44 L144.1,241.71 L144.31,242.92 L144.52,244.07 L144.73,245.15 L144.94,246.18 L145.15,247.15 L145.36,248.05 L145.57,248.91 L145.78,249.71 L145.99,250.45 L146.2,251.15 L146.41,251.8 L146.62,252.41 L146.83,252.97 L147.04,253.49 L147.25,253.97 L147.46,254.42 L147.67,254.83 L147.88,255.22 L148.09,255.57 L148.3,255.89 L148.51,256.19 L148.72,256.47 L148.93,256.72 L149.13,256.95 L149.34,257.16 L149.55,257.36 L149.76,257.54 L149.97,257.7 L150.18,257.85 L150.39,257.99 L150.6,258.12 L150.81,258.24 L151.02,258.34 L151.23,258.44 L151.44,258.53 L151.65,258.62 L151.86,258.69 L152.07,258.77 L152.28,258.83 L152.49,258.89 L152.7,258.95 L152.91,259 L153.12,259.05 L153.33,259.09 L153.54,259.13 L153.75,259.17 L153.96,259.21 L154.17,259.24 L154.38,259.27 L154.59,259.3 L154.8,259.33 L155.01,259.36 L155.22,259.38 L155.43,259.4 L155.64,259.43 L155.85,259.45 L156.06,259.47 L156.27,259.48 L156.48,259.5 L156.69,259.52 L156.9,259.53 L157.11,259.55 L157.31,259.56 L157.52,259.57 L157.73,259.59 L157.94,259.6 L158.15,259.61 L158.36,259.62 L158.57,259.63 L158.78,259.64 L158.99,259.65 L159.2,259.66 L159.41,259.67 L159.62,259.68 L159.83,259.68 L160.04,259.69 L160.25,259.7 L160.46,259.7 L160.67,259.71 L160.88,259.72 L161.09,259.72 L161.3,259.73 L161.51,259.73 L161.72,259.74 L161.93,259.75 L162.14,259.75 L162.35,259.75 L162.56,259.76 L162.77,259.76 L162.98,259.77 L163.19,259.77 L163.4,259.78 L163.61,259.78 L163.82,259.78 L164.03,259.79 L164.24,259.79 L164.45,259.79 L164.66,259.8 L164.87,259.8 L165.08,259.8 L165.29,259.8 L165.5,259.81 L165.71,259.81 L165.91,259.81 L166.12,259.81 L166.33,259.82 L166.54,259.82 L166.75,259.82 L166.96,259.82 L167.17,259.83 L167.38,259.83 L167.59,259.83 L167.8,259.83 L168.01,259.83 L168.22,259.83 L168.43,259.84 L168.64,259.84 L168.85,259.84 L169.06,259.84 L169.27,259.84 L169.48,259.84 L169.69,259.84 L169.9,259.85" fill="none" stroke="#4f7fdc" stroke-width="0.85" stroke-linejoin="round" />
<circle cx="22.1" cy="251.45" r="0.45" fill="#666"/>
<circle cx="24.3" cy="251.58" r="0.45" fill="#666"/>
<circle cx="26.5" cy="252.03" r="0.45" fill="#666"/>
<circle cx="28.7" cy="251.4" r="0.45" fill="#666"/>
<circle cx="30.9" cy="251.41" r="0.45" fill="#666"/>
<circle cx="33.1" cy="251.45" r="0.45" fill="#666"/>
<circle cx="35.3" cy="250.84" r="0.45" fill="#666"/>
<circle cx="37.5" cy="251.16" r="0.45" fill="#666"/>
<circle cx="39.7" cy="251.18" r="0.45" fill="#666"/>
<circle cx="41.9" cy="251.22" r="0.45" fill="#666"/>
<circle cx="44.1" cy="250.1" r="0.45" fill="#666"/>
<circle cx="46.3" cy="250.12" r="0.45" fill="#666"/>
<circle cx="48.5" cy="249.54" r="0.45" fill="#666"/>
<circle cx="50.7" cy="250.14" r="0.45" fill="#666"/>
<circle cx="52.9" cy="249.6" r="0.45" fill="#666"/>
<circle cx="55.1" cy="248.34" r="0.45" fill="#666"/>
<circle cx="57.3" cy="249.11" r="0.45" fill="#666"/>
<circle cx="59.5" cy="248.62" r="0.45" fill="#666"/>
<circle cx="61.7" cy="247.74" r="0.45" fill="#666"/>
<circle cx="63.9" cy="247.24" r="0.45" fill="#666"/>
<circle cx="66.1" cy="246.21" r="0.45" fill="#666"/>
<circle cx="68.3" cy="245.65" r="0.45" fill="#666"/>
<circle cx="70.5" cy="246" r="0.45" fill="#666"/>
<circle cx="72.7" cy="245.16" r="0.45" fill="#666"/>
<circle cx="74.9" cy="245.18" r="0.45" fill="#666"/>
<circle cx="77.1" cy="245.2" r="0.45" fill="#666"/>
<circle cx="79.3" cy="244.98" r="0.45" fill="#666"/>
<circle cx="81.5" cy="245.7" r="0.45" fill="#666"/>
<circle cx="83.7" cy="245.91" r="0.45" fill="#666"/>
<circle cx="85.9" cy="246.75" r="0.45" fill="#666"/>
<circle cx="88.1" cy="246.7" r="0.45" fill="#666"/>
<circle cx="90.3" cy="247.27" r="0.45" fill="#666"/>
<circle cx="92.5" cy="247.52" r="0.45" fill="#666"/>
<circle cx="94.7" cy="248.13" r="0.45" fill="#666"/>
<circle cx="96.9" cy="248.21" r="0.45" fill="#666"/>
<circle cx="99.1" cy="248.2" r="0.45" fill="#666"/>
<circle cx="101.3" cy="249.16" r="0.45" fill="#666"/>
<circle cx="103.5" cy="248.91" r="0.45" fill="#666"/>
<circle cx="105.7" cy="248.07" r="0.45" fill="#666"/>
<circle cx="107.9" cy="246.76" r="0.45" fill="#666"/>
<rect x="20.5" y="159" width="150" height="116" fill="none" stroke="#5c5c5c" stroke-width="1.25"/>
<line x1="170.5" y1="275" x2="170.5" y2="272.4" stroke="#5c5c5c" stroke-width="0.8" />
<text x="170.5" y="284.4" font-size="7.7" font-weight="bold" text-anchor="middle" fill="#111" stroke="#111" stroke-width="0.18" >282</text>
<line x1="158" y1="275" x2="158" y2="273.5" stroke="#5c5c5c" stroke-width="0.8" />
<line x1="145.5" y1="275" x2="145.5" y2="272.4" stroke="#5c5c5c" stroke-width="0.8" />
<text x="145.5" y="284.4" font-size="7.7" font-weight="bold" text-anchor="middle" fill="#111" stroke="#111" stroke-width="0.18" >284</text>
<line x1="133" y1="275" x2="133" y2="273.5" stroke="#5c5c5c" stroke-width="0.8" />
<line x1="120.5" y1="275" x2="120.5" y2="272.4" stroke="#5c5c5c" stroke-width="0.8" />
<text x="120.5" y="284.4" font-size="7.7" font-weight="bold" text-anchor="middle" fill="#111" stroke="#111" stroke-width="0.18" >286</text>
<line x1="108" y1="275" x2="108" y2="273.5" stroke="#5c5c5c" stroke-width="0.8" />
<line x1="95.5" y1="275" x2="95.5" y2="272.4" stroke="#5c5c5c" stroke-width="0.8" />
<text x="95.5" y="284.4" font-size="7.7" font-weight="bold" text-anchor="middle" fill="#111" stroke="#111" stroke-width="0.18" >288</text>
<line x1="83" y1="275" x2="83" y2="273.5" stroke="#5c5c5c" stroke-width="0.8" />
<line x1="70.5" y1="275" x2="70.5" y2="272.4" stroke="#5c5c5c" stroke-width="0.8" />
<text x="70.5" y="284.4" font-size="7.7" font-weight="bold" text-anchor="middle" fill="#111" stroke="#111" stroke-width="0.18" >290</text>
<line x1="58" y1="275" x2="58" y2="273.5" stroke="#5c5c5c" stroke-width="0.8" />
<line x1="45.5" y1="275" x2="45.5" y2="272.4" stroke="#5c5c5c" stroke-width="0.8" />
<text x="45.5" y="284.4" font-size="7.7" font-weight="bold" text-anchor="middle" fill="#111" stroke="#111" stroke-width="0.18" >292</text>
<line x1="33" y1="275" x2="33" y2="273.5" stroke="#5c5c5c" stroke-width="0.8" />
<line x1="20.5" y1="275" x2="20.5" y2="272.4" stroke="#5c5c5c" stroke-width="0.8" />
<text x="20.5" y="284.4" font-size="7.7" font-weight="bold" text-anchor="middle" fill="#111" stroke="#111" stroke-width="0.18" >294</text>
<text x="25.1" y="173.4" font-size="12.7" font-weight="normal" text-anchor="start" fill="#111" stroke="#111" stroke-width="0.1" >(d)</text>
<text x="149.1" y="168.6" font-size="7.6" font-weight="bold" text-anchor="start" fill="#111" stroke="#111" stroke-width="0.18" >C 1s</text>
<text x="107" y="186.4" font-size="7.4" font-weight="bold" text-anchor="start" fill="#111" stroke="#111" stroke-width="0.18" >C-C</text>
<line x1="134.4" y1="196.8" x2="123.01" y2="190.51" stroke="#111" stroke-width="0.8" />
<path d="M121,189.4 L123.9,189.52 L122.65,191.79 Z" fill="#111"/>
<text x="98.3" y="213.5" font-size="7.4" font-weight="bold" text-anchor="start" fill="#111" stroke="#111" stroke-width="0.18" >C-O</text>
<line x1="124.3" y1="223" x2="115.71" y2="217.28" stroke="#111" stroke-width="0.8" />
<path d="M113.8,216 L116.68,216.36 L115.24,218.52 Z" fill="#111"/>
<text x="53" y="232.1" font-size="7.6" font-weight="bold" text-anchor="start" fill="#111" stroke="#111" stroke-width="0.18" >O-C=O</text>
<line x1="78.9" y1="245.7" x2="70.33" y2="237.22" stroke="#111" stroke-width="0.8" />
<path d="M68.7,235.6 L71.46,236.51 L69.63,238.35 Z" fill="#111"/>
<text transform="translate(10.7,213.6) rotate(-90)" font-size="9.7" font-weight="bold" text-anchor="middle" fill="#111" stroke="#111" stroke-width="0.18">Intensity (a.u.)</text>
<text x="47.6" y="299.6" font-size="9.85" font-weight="bold" text-anchor="start" fill="#111" stroke="#111" stroke-width="0.18" >Bingding Energy (eV)</text>
<path d="M199.2,255.7 L199.7,255.7 L200.19,255.7 L200.69,255.7 L201.19,255.7 L201.68,255.7 L202.18,255.7 L202.67,255.7 L203.17,255.7 L203.67,255.7 L204.16,255.7 L204.66,255.7 L205.16,255.7 L205.65,255.7 L206.15,255.7 L206.64,255.7 L207.14,255.7 L207.64,255.7 L208.13,255.7 L208.63,255.7 L209.13,255.7 L209.62,255.7 L210.12,255.7 L210.62,255.7 L211.11,255.7 L211.61,255.7 L212.1,255.7 L212.6,255.7 L213.1,255.7 L213.59,255.7 L214.09,255.7 L214.59,255.7 L215.08,255.7 L215.58,255.7 L216.08,255.7 L216.57,255.7 L217.07,255.7 L217.56,255.7 L218.06,255.7 L218.56,255.7 L219.05,255.7 L219.55,255.7 L220.05,255.7 L220.54,255.7 L221.04,255.7 L221.53,255.7 L222.03,255.71 L222.53,255.71 L223.02,255.71 L223.52,255.71 L224.02,255.71 L224.51,255.71 L225.01,255.71 L225.51,255.71 L226,255.71 L226.5,255.71 L226.99,255.71 L227.49,255.71 L227.99,255.71 L228.48,255.71 L228.98,255.71 L229.48,255.71 L229.97,255.71 L230.47,255.71 L230.97,255.71 L231.46,255.71 L231.96,255.72 L232.45,255.72 L232.95,255.72 L233.45,255.72 L233.94,255.72 L234.44,255.72 L234.94,255.72 L235.43,255.72 L235.93,255.72 L236.42,255.72 L236.92,255.73 L237.42,255.73 L237.91,255.73 L238.41,255.73 L238.91,255.73 L239.4,255.73 L239.9,255.74 L240.4,255.74 L240.89,255.74 L241.39,255.74 L241.88,255.75 L242.38,255.75 L242.88,255.75 L243.37,255.75 L243.87,255.76 L244.37,255.76 L244.86,255.76 L245.36,255.77 L245.86,255.77 L246.35,255.77 L246.85,255.78 L247.34,255.78 L247.84,255.79 L248.34,255.79 L248.83,255.8 L249.33,255.8 L249.83,255.81 L250.32,255.82 L250.82,255.82 L251.31,255.83 L251.81,255.84 L252.31,255.84 L252.8,255.85 L253.3,255.86 L253.8,255.87 L254.29,255.88 L254.79,255.89 L255.29,255.9 L255.78,255.91 L256.28,255.92 L256.77,255.93 L257.27,255.94 L257.77,255.96 L258.26,255.97 L258.76,255.99 L259.26,256 L259.75,256.02 L260.25,256.04 L260.75,256.05 L261.24,256.07 L261.74,256.09 L262.23,256.11 L262.73,256.14 L263.23,256.16 L263.72,256.18 L264.22,256.21 L264.72,256.24 L265.21,256.26 L265.71,256.29 L266.2,256.32 L266.7,256.35 L267.2,256.39 L267.69,256.42 L268.19,256.46 L268.69,256.5 L269.18,256.54 L269.68,256.58 L270.18,256.62 L270.67,256.67 L271.17,256.71 L271.66,256.76 L272.16,256.81 L272.66,256.87 L273.15,256.92 L273.65,256.98 L274.15,257.03 L274.64,257.09 L275.14,257.16 L275.64,257.22 L276.13,257.29 L276.63,257.36 L277.12,257.43 L277.62,257.5 L278.12,257.57 L278.61,257.65 L279.11,257.73 L279.61,257.81 L280.1,257.89 L280.6,257.97 L281.09,258.06 L281.59,258.14 L282.09,258.23 L282.58,258.32 L283.08,258.41 L283.58,258.5 L284.07,258.59 L284.57,258.69 L285.07,258.78 L285.56,258.87 L286.06,258.97 L286.55,259.06 L287.05,259.16 L287.55,259.25 L288.04,259.35 L288.54,259.44 L289.04,259.54 L289.53,259.63 L290.03,259.73 L290.53,259.82 L291.02,259.91 L291.52,260 L292.01,260.09 L292.51,260.17 L293.01,260.26 L293.5,260.34 L294,260.43 L294.5,260.51 L294.99,260.59 L295.49,260.67 L295.98,260.74 L296.48,260.82 L296.98,260.89 L297.47,260.96 L297.97,261.03 L298.47,261.09 L298.96,261.16 L299.46,261.22 L299.96,261.28 L300.45,261.34 L300.95,261.39 L301.44,261.45 L301.94,261.5 L302.44,261.55 L302.93,261.6 L303.43,261.64 L303.93,261.69 L304.42,261.73 L304.92,261.77 L305.42,261.81 L305.91,261.85 L306.41,261.88 L306.9,261.92 L307.4,261.95 L307.9,261.98 L308.39,262.01 L308.89,262.04 L309.39,262.07 L309.88,262.1 L310.38,262.12 L310.87,262.15 L311.37,262.17 L311.87,262.19 L312.36,262.21 L312.86,262.23 L313.36,262.25 L313.85,262.27 L314.35,262.28 L314.85,262.3 L315.34,262.32 L315.84,262.33 L316.33,262.34 L316.83,262.36 L317.33,262.37 L317.82,262.38 L318.32,262.39 L318.82,262.4 L319.31,262.41 L319.81,262.42 L320.31,262.43 L320.8,262.44 L321.3,262.45 L321.79,262.46 L322.29,262.47 L322.79,262.47 L323.28,262.48 L323.78,262.49 L324.28,262.49 L324.77,262.5 L325.27,262.5 L325.76,262.51 L326.26,262.51 L326.76,262.52 L327.25,262.52 L327.75,262.53 L328.25,262.53 L328.74,262.53 L329.24,262.54 L329.74,262.54 L330.23,262.54 L330.73,262.55 L331.22,262.55 L331.72,262.55 L332.22,262.55 L332.71,262.56 L333.21,262.56 L333.71,262.56 L334.2,262.56 L334.7,262.57 L335.2,262.57 L335.69,262.57 L336.19,262.57 L336.68,262.57 L337.18,262.57 L337.68,262.58 L338.17,262.58 L338.67,262.58 L339.17,262.58 L339.66,262.58 L340.16,262.58 L340.65,262.58 L341.15,262.58 L341.65,262.58 L342.14,262.58 L342.64,262.59 L343.14,262.59 L343.63,262.59 L344.13,262.59 L344.63,262.59 L345.12,262.59 L345.62,262.59 L346.11,262.59 L346.61,262.59 L347.11,262.59 L347.6,262.59 L348.1,262.59" fill="none" stroke="#a0a0a0" stroke-width="0.85" stroke-linejoin="round" />
<path d="M199.2,255.39 L199.45,255.37 L199.71,255.36 L199.96,255.34 L200.21,255.32 L200.46,255.3 L200.72,255.29 L200.97,255.27 L201.22,255.25 L201.47,255.22 L201.73,255.2 L201.98,255.18 L202.23,255.15 L202.48,255.13 L202.74,255.1 L202.99,255.08 L203.24,255.05 L203.5,255.02 L203.75,254.99 L204,254.96 L204.25,254.93 L204.51,254.89 L204.76,254.86 L205.01,254.82 L205.26,254.79 L205.52,254.75 L205.77,254.71 L206.02,254.67 L206.27,254.63 L206.53,254.59 L206.78,254.54 L207.03,254.5 L207.29,254.45 L207.54,254.4 L207.79,254.35 L208.04,254.3 L208.3,254.25 L208.55,254.2 L208.8,254.14 L209.05,254.09 L209.31,254.03 L209.56,253.97 L209.81,253.91 L210.06,253.84 L210.32,253.78 L210.57,253.71 L210.82,253.65 L211.08,253.58 L211.33,253.51 L211.58,253.44 L211.83,253.36 L212.09,253.29 L212.34,253.21 L212.59,253.13 L212.84,253.05 L213.1,252.97 L213.35,252.89 L213.6,252.81 L213.85,252.72 L214.11,252.64 L214.36,252.55 L214.61,252.46 L214.87,252.37 L215.12,252.27 L215.37,252.18 L215.62,252.08 L215.88,251.99 L216.13,251.89 L216.38,251.79 L216.63,251.69 L216.89,251.59 L217.14,251.49 L217.39,251.38 L217.64,251.28 L217.9,251.17 L218.15,251.07 L218.4,250.96 L218.66,250.85 L218.91,250.74 L219.16,250.63 L219.41,250.52 L219.67,250.41 L219.92,250.3 L220.17,250.19 L220.42,250.08 L220.68,249.97 L220.93,249.85 L221.18,249.74 L221.43,249.63 L221.69,249.52 L221.94,249.4 L222.19,249.29 L222.45,249.18 L222.7,249.07 L222.95,248.96 L223.2,248.85 L223.46,248.73 L223.71,248.63 L223.96,248.52 L224.21,248.41 L224.47,248.3 L224.72,248.2 L224.97,248.09 L225.22,247.99 L225.48,247.88 L225.73,247.78 L225.98,247.68 L226.24,247.59 L226.49,247.49 L226.74,247.39 L226.99,247.3 L227.25,247.21 L227.5,247.12 L227.75,247.04 L228,246.95 L228.26,246.87 L228.51,246.79 L228.76,246.71 L229.01,246.64 L229.27,246.56 L229.52,246.49 L229.77,246.43 L230.03,246.36 L230.28,246.3 L230.53,246.24 L230.78,246.18 L231.04,246.13 L231.29,246.08 L231.54,246.03 L231.79,245.99 L232.05,245.95 L232.3,245.91 L232.55,245.88 L232.8,245.85 L233.06,245.82 L233.31,245.79 L233.56,245.77 L233.82,245.76 L234.07,245.74 L234.32,245.73 L234.57,245.73 L234.83,245.72 L235.08,245.72 L235.33,245.73 L235.58,245.73 L235.84,245.74 L236.09,245.76 L236.34,245.77 L236.59,245.79 L236.85,245.82 L237.1,245.85 L237.35,245.88 L237.61,245.91 L237.86,245.95 L238.11,245.99 L238.36,246.03 L238.62,246.08 L238.87,246.13 L239.12,246.18 L239.37,246.24 L239.63,246.3 L239.88,246.36 L240.13,246.43 L240.38,246.49 L240.64,246.56 L240.89,246.64 L241.14,246.71 L241.4,246.79 L241.65,246.87 L241.9,246.96 L242.15,247.04 L242.41,247.13 L242.66,247.22 L242.91,247.31 L243.16,247.4 L243.42,247.5 L243.67,247.6 L243.92,247.7 L244.17,247.8 L244.43,247.9 L244.68,248 L244.93,248.11 L245.19,248.21 L245.44,248.32 L245.69,248.43 L245.94,248.54 L246.2,248.65 L246.45,248.76 L246.7,248.88 L246.95,248.99 L247.21,249.1 L247.46,249.22 L247.71,249.33 L247.96,249.45 L248.22,249.56 L248.47,249.68 L248.72,249.79 L248.98,249.91 L249.23,250.02 L249.48,250.14 L249.73,250.25 L249.99,250.37 L250.24,250.48 L250.49,250.6 L250.74,250.71 L251,250.82 L251.25,250.94 L251.5,251.05 L251.75,251.16 L252.01,251.27 L252.26,251.38 L252.51,251.49 L252.77,251.6 L253.02,251.7 L253.27,251.81 L253.52,251.91 L253.78,252.02 L254.03,252.12 L254.28,252.22 L254.53,252.32 L254.79,252.42 L255.04,252.52 L255.29,252.62 L255.54,252.71 L255.8,252.81 L256.05,252.9 L256.3,252.99 L256.56,253.08 L256.81,253.17 L257.06,253.26 L257.31,253.35 L257.57,253.43 L257.82,253.52 L258.07,253.6 L258.32,253.68 L258.58,253.76 L258.83,253.84 L259.08,253.92 L259.33,253.99 L259.59,254.07 L259.84,254.14 L260.09,254.21 L260.35,254.28 L260.6,254.35 L260.85,254.42 L261.1,254.49 L261.36,254.55 L261.61,254.62 L261.86,254.68 L262.11,254.74 L262.37,254.8 L262.62,254.86 L262.87,254.92 L263.12,254.98 L263.38,255.04 L263.63,255.09 L263.88,255.15 L264.14,255.2 L264.39,255.25 L264.64,255.3 L264.89,255.36 L265.15,255.41 L265.4,255.45 L265.65,255.5 L265.9,255.55 L266.16,255.6 L266.41,255.64 L266.66,255.69 L266.91,255.73 L267.17,255.78 L267.42,255.82 L267.67,255.87 L267.93,255.91 L268.18,255.95 L268.43,255.99 L268.68,256.03 L268.94,256.07 L269.19,256.12 L269.44,256.16 L269.69,256.2 L269.95,256.24 L270.2,256.27 L270.45,256.31 L270.7,256.35 L270.96,256.39 L271.21,256.43 L271.46,256.47 L271.72,256.51 L271.97,256.55 L272.22,256.58 L272.47,256.62 L272.73,256.66 L272.98,256.7 L273.23,256.74 L273.48,256.78 L273.74,256.81 L273.99,256.85 L274.24,256.89 L274.49,256.93 L274.75,256.97 L275,257.01" fill="none" stroke="#8c8c8c" stroke-width="0.85" stroke-linejoin="round" />
<path d="M232,255.65 L232.39,255.65 L232.77,255.65 L233.16,255.64 L233.55,255.64 L233.94,255.63 L234.32,255.63 L234.71,255.63 L235.1,255.62 L235.48,255.62 L235.87,255.61 L236.26,255.61 L236.64,255.6 L237.03,255.59 L237.42,255.59 L237.81,255.58 L238.19,255.57 L238.58,255.57 L238.97,255.56 L239.35,255.55 L239.74,255.54 L240.13,255.54 L240.51,255.53 L240.9,255.52 L241.29,255.51 L241.68,255.5 L242.06,255.49 L242.45,255.48 L242.84,255.46 L243.22,255.45 L243.61,255.44 L244,255.43 L244.38,255.41 L244.77,255.4 L245.16,255.38 L245.54,255.37 L245.93,255.35 L246.32,255.34 L246.71,255.32 L247.09,255.3 L247.48,255.28 L247.87,255.26 L248.25,255.24 L248.64,255.22 L249.03,255.2 L249.41,255.18 L249.8,255.16 L250.19,255.14 L250.58,255.11 L250.96,255.09 L251.35,255.06 L251.74,255.04 L252.12,255.01 L252.51,254.98 L252.9,254.96 L253.28,254.93 L253.67,254.9 L254.06,254.87 L254.45,254.84 L254.83,254.81 L255.22,254.78 L255.61,254.74 L255.99,254.71 L256.38,254.67 L256.77,254.64 L257.15,254.6 L257.54,254.57 L257.93,254.53 L258.32,254.49 L258.7,254.46 L259.09,254.42 L259.48,254.38 L259.86,254.34 L260.25,254.3 L260.64,254.26 L261.02,254.22 L261.41,254.17 L261.8,254.13 L262.19,254.09 L262.57,254.05 L262.96,254 L263.35,253.96 L263.73,253.92 L264.12,253.88 L264.51,253.83 L264.89,253.79 L265.28,253.74 L265.67,253.7 L266.06,253.66 L266.44,253.62 L266.83,253.57 L267.22,253.53 L267.6,253.49 L267.99,253.45 L268.38,253.41 L268.76,253.36 L269.15,253.32 L269.54,253.29 L269.93,253.25 L270.31,253.21 L270.7,253.17 L271.09,253.14 L271.47,253.1 L271.86,253.07 L272.25,253.04 L272.63,253.01 L273.02,252.98 L273.41,252.95 L273.8,252.92 L274.18,252.9 L274.57,252.87 L274.96,252.85 L275.34,252.83 L275.73,252.81 L276.12,252.8 L276.5,252.78 L276.89,252.77 L277.28,252.76 L277.67,252.75 L278.05,252.75 L278.44,252.74 L278.83,252.74 L279.21,252.74 L279.6,252.75 L279.99,252.75 L280.38,252.76 L280.76,252.77 L281.15,252.78 L281.54,252.8 L281.92,252.82 L282.31,252.84 L282.7,252.86 L283.08,252.88 L283.47,252.91 L283.86,252.94 L284.25,252.97 L284.63,253.01 L285.02,253.05 L285.41,253.09 L285.79,253.13 L286.18,253.17 L286.57,253.22 L286.95,253.27 L287.34,253.32 L287.73,253.37 L288.12,253.43 L288.5,253.49 L288.89,253.55 L289.28,253.61 L289.66,253.67 L290.05,253.74 L290.44,253.8 L290.82,253.87 L291.21,253.94 L291.6,254.02 L291.99,254.09 L292.37,254.16 L292.76,254.24 L293.15,254.32 L293.53,254.4 L293.92,254.48 L294.31,254.56 L294.69,254.65 L295.08,254.73 L295.47,254.82 L295.85,254.9 L296.24,254.99 L296.63,255.08 L297.02,255.17 L297.4,255.26 L297.79,255.35 L298.18,255.45 L298.56,255.54 L298.95,255.63 L299.34,255.73 L299.72,255.82 L300.11,255.91 L300.5,256.01 L300.89,256.11 L301.27,256.2 L301.66,256.3 L302.05,256.4 L302.43,256.49 L302.82,256.59 L303.21,256.69 L303.59,256.78 L303.98,256.88 L304.37,256.98 L304.76,257.08 L305.14,257.17 L305.53,257.27 L305.92,257.37 L306.3,257.46 L306.69,257.56 L307.08,257.65 L307.46,257.75 L307.85,257.85 L308.24,257.94 L308.63,258.03 L309.01,258.13 L309.4,258.22 L309.79,258.31 L310.17,258.41 L310.56,258.5 L310.95,258.59 L311.33,258.68 L311.72,258.77 L312.11,258.85 L312.5,258.94 L312.88,259.03 L313.27,259.11 L313.66,259.2 L314.04,259.28 L314.43,259.36 L314.82,259.45 L315.2,259.53 L315.59,259.61 L315.98,259.69 L316.37,259.76 L316.75,259.84 L317.14,259.91 L317.53,259.99 L317.91,260.06 L318.3,260.13 L318.69,260.2 L319.07,260.27 L319.46,260.34 L319.85,260.41 L320.24,260.47 L320.62,260.54 L321.01,260.6 L321.4,260.66 L321.78,260.72 L322.17,260.78 L322.56,260.84 L322.94,260.9 L323.33,260.96 L323.72,261.01 L324.11,261.06 L324.49,261.11 L324.88,261.17 L325.27,261.22 L325.65,261.26 L326.04,261.31 L326.43,261.36 L326.81,261.4 L327.2,261.44 L327.59,261.49 L327.98,261.53 L328.36,261.57 L328.75,261.61 L329.14,261.64 L329.52,261.68 L329.91,261.72 L330.3,261.75 L330.68,261.78 L331.07,261.82 L331.46,261.85 L331.85,261.88 L332.23,261.91 L332.62,261.94 L333.01,261.96 L333.39,261.99 L333.78,262.02 L334.17,262.04 L334.55,262.07 L334.94,262.09 L335.33,262.11 L335.72,262.13 L336.1,262.15 L336.49,262.17 L336.88,262.19 L337.26,262.21 L337.65,262.23 L338.04,262.25 L338.42,262.26 L338.81,262.28 L339.2,262.29 L339.59,262.31 L339.97,262.32 L340.36,262.34 L340.75,262.35 L341.13,262.36 L341.52,262.37 L341.91,262.38 L342.29,262.39 L342.68,262.4 L343.07,262.41 L343.46,262.42 L343.84,262.43 L344.23,262.44 L344.62,262.45 L345,262.46 L345.39,262.47 L345.78,262.47 L346.16,262.48 L346.55,262.49 L346.94,262.49 L347.33,262.5 L347.71,262.5 L348.1,262.51" fill="none" stroke="#66d69a" stroke-width="0.85" stroke-linejoin="round" />
<path d="M256,255.74 L256.08,255.74 L256.17,255.74 L256.25,255.73 L256.33,255.73 L256.42,255.72 L256.5,255.72 L256.58,255.72 L256.67,255.71 L256.75,255.71 L256.83,255.7 L256.92,255.7 L257,255.69 L257.08,255.69 L257.17,255.68 L257.25,255.67 L257.33,255.67 L257.42,255.66 L257.5,255.66 L257.58,255.65 L257.67,255.64 L257.75,255.64 L257.83,255.63 L257.92,255.62 L258,255.62 L258.08,255.61 L258.17,255.6 L258.25,255.59 L258.33,255.59 L258.42,255.58 L258.5,255.57 L258.58,255.56 L258.67,255.55 L258.75,255.54 L258.83,255.54 L258.92,255.53 L259,255.52 L259.08,255.51 L259.17,255.5 L259.25,255.49 L259.33,255.48 L259.42,255.47 L259.5,255.46 L259.58,255.45 L259.67,255.44 L259.75,255.43 L259.83,255.42 L259.92,255.41 L260,255.4 L260.08,255.39 L260.17,255.38 L260.25,255.36 L260.33,255.35 L260.42,255.34 L260.5,255.33 L260.58,255.32 L260.67,255.31 L260.75,255.29 L260.83,255.28 L260.92,255.27 L261,255.26 L261.08,255.25 L261.17,255.23 L261.25,255.22 L261.33,255.21 L261.42,255.2 L261.5,255.18 L261.58,255.17 L261.67,255.16 L261.75,255.15 L261.83,255.13 L261.92,255.12 L262,255.11 L262.08,255.09 L262.17,255.08 L262.25,255.07 L262.33,255.06 L262.42,255.04 L262.5,255.03 L262.58,255.02 L262.67,255 L262.75,254.99 L262.83,254.98 L262.92,254.97 L263,254.95 L263.08,254.94 L263.17,254.93 L263.25,254.92 L263.33,254.9 L263.42,254.89 L263.5,254.88 L263.58,254.87 L263.67,254.86 L263.75,254.85 L263.83,254.83 L263.92,254.82 L264,254.81 L264.08,254.8 L264.17,254.79 L264.25,254.78 L264.33,254.77 L264.42,254.76 L264.5,254.75 L264.58,254.74 L264.67,254.73 L264.75,254.72 L264.83,254.71 L264.92,254.71 L265,254.7 L265.08,254.69 L265.17,254.68 L265.25,254.68 L265.33,254.67 L265.42,254.66 L265.5,254.66 L265.58,254.65 L265.67,254.64 L265.75,254.64 L265.83,254.63 L265.92,254.63 L266,254.62 L266.08,254.62 L266.17,254.62 L266.25,254.61 L266.33,254.61 L266.42,254.61 L266.5,254.61 L266.58,254.61 L266.67,254.6 L266.75,254.6 L266.83,254.6 L266.92,254.6 L267,254.6 L267.08,254.6 L267.17,254.61 L267.25,254.61 L267.33,254.61 L267.42,254.61 L267.5,254.62 L267.58,254.62 L267.67,254.62 L267.75,254.63 L267.83,254.63 L267.92,254.64 L268,254.65 L268.08,254.65 L268.17,254.66 L268.25,254.67 L268.33,254.67 L268.42,254.68 L268.5,254.69 L268.58,254.7 L268.67,254.71 L268.75,254.72 L268.83,254.73 L268.92,254.74 L269,254.75 L269.08,254.76 L269.17,254.78 L269.25,254.79 L269.33,254.8 L269.42,254.81 L269.5,254.83 L269.58,254.84 L269.67,254.86 L269.75,254.87 L269.83,254.89 L269.92,254.9 L270,254.92 L270.08,254.94 L270.17,254.95 L270.25,254.97 L270.33,254.99 L270.42,255.01 L270.5,255.03 L270.58,255.05 L270.67,255.06 L270.75,255.08 L270.83,255.1 L270.92,255.12 L271,255.14 L271.08,255.17 L271.17,255.19 L271.25,255.21 L271.33,255.23 L271.42,255.25 L271.5,255.27 L271.58,255.3 L271.67,255.32 L271.75,255.34 L271.83,255.36 L271.92,255.39 L272,255.41 L272.08,255.44 L272.17,255.46 L272.25,255.48 L272.33,255.51 L272.42,255.53 L272.5,255.56 L272.58,255.58 L272.67,255.61 L272.75,255.63 L272.83,255.66 L272.92,255.68 L273,255.71 L273.08,255.73 L273.17,255.76 L273.25,255.79 L273.33,255.81 L273.42,255.84 L273.5,255.86 L273.58,255.89 L273.67,255.92 L273.75,255.94 L273.83,255.97 L273.92,255.99 L274,256.02 L274.08,256.05 L274.17,256.07 L274.25,256.1 L274.33,256.12 L274.42,256.15 L274.5,256.18 L274.58,256.2 L274.67,256.23 L274.75,256.26 L274.83,256.28 L274.92,256.31 L275,256.33 L275.08,256.36 L275.17,256.39 L275.25,256.41 L275.33,256.44 L275.42,256.46 L275.5,256.49 L275.58,256.51 L275.67,256.54 L275.75,256.56 L275.83,256.59 L275.92,256.62 L276,256.64 L276.08,256.67 L276.17,256.69 L276.25,256.71 L276.33,256.74 L276.42,256.76 L276.5,256.79 L276.58,256.81 L276.67,256.84 L276.75,256.86 L276.83,256.88 L276.92,256.91 L277,256.93 L277.08,256.96 L277.17,256.98 L277.25,257 L277.33,257.03 L277.42,257.05 L277.5,257.07 L277.58,257.09 L277.67,257.12 L277.75,257.14 L277.83,257.16 L277.92,257.18 L278,257.21 L278.08,257.23 L278.17,257.25 L278.25,257.27 L278.33,257.29 L278.42,257.32 L278.5,257.34 L278.58,257.36 L278.67,257.38 L278.75,257.4 L278.83,257.42 L278.92,257.44 L279,257.46 L279.08,257.48 L279.17,257.5 L279.25,257.52 L279.33,257.54 L279.42,257.56 L279.5,257.58 L279.58,257.6 L279.67,257.62 L279.75,257.64 L279.83,257.66 L279.92,257.68 L280,257.7 L280.08,257.72 L280.17,257.74 L280.25,257.76 L280.33,257.78 L280.42,257.8 L280.5,257.82 L280.58,257.84 L280.67,257.85 L280.75,257.87 L280.83,257.89 L280.92,257.91 L281,257.93" fill="none" stroke="#f0b040" stroke-width="1.0" stroke-linejoin="round" />
<path d="M199.2,255.29 L199.5,255.27 L199.8,255.25 L200.09,255.23 L200.39,255.21 L200.69,255.19 L200.99,255.16 L201.28,255.14 L201.58,255.11 L201.88,255.08 L202.18,255.06 L202.48,255.03 L202.77,254.99 L203.07,254.96 L203.37,254.93 L203.67,254.89 L203.96,254.86 L204.26,254.82 L204.56,254.78 L204.86,254.74 L205.16,254.69 L205.45,254.65 L205.75,254.6 L206.05,254.55 L206.35,254.5 L206.64,254.45 L206.94,254.4 L207.24,254.34 L207.54,254.28 L207.84,254.23 L208.13,254.16 L208.43,254.1 L208.73,254.04 L209.03,253.97 L209.33,253.9 L209.62,253.83 L209.92,253.75 L210.22,253.68 L210.52,253.6 L210.81,253.52 L211.11,253.44 L211.41,253.35 L211.71,253.27 L212.01,253.18 L212.3,253.09 L212.6,253 L212.9,252.9 L213.2,252.8 L213.49,252.7 L213.79,252.6 L214.09,252.5 L214.39,252.39 L214.69,252.29 L214.98,252.18 L215.28,252.07 L215.58,251.95 L215.88,251.84 L216.17,251.72 L216.47,251.6 L216.77,251.48 L217.07,251.36 L217.37,251.24 L217.66,251.11 L217.96,250.99 L218.26,250.86 L218.56,250.73 L218.85,250.6 L219.15,250.47 L219.45,250.34 L219.75,250.21 L220.05,250.07 L220.34,249.94 L220.64,249.8 L220.94,249.67 L221.24,249.54 L221.53,249.4 L221.83,249.27 L222.13,249.13 L222.43,249 L222.73,248.86 L223.02,248.73 L223.32,248.6 L223.62,248.46 L223.92,248.33 L224.22,248.2 L224.51,248.07 L224.81,247.95 L225.11,247.82 L225.41,247.7 L225.7,247.57 L226,247.45 L226.3,247.34 L226.6,247.22 L226.9,247.11 L227.19,246.99 L227.49,246.89 L227.79,246.78 L228.09,246.68 L228.38,246.58 L228.68,246.48 L228.98,246.39 L229.28,246.3 L229.58,246.21 L229.87,246.13 L230.17,246.05 L230.47,245.97 L230.77,245.9 L231.06,245.83 L231.36,245.77 L231.66,245.71 L231.96,245.66 L232.26,245.61 L232.55,245.56 L232.85,245.52 L233.15,245.48 L233.45,245.45 L233.74,245.42 L234.04,245.4 L234.34,245.38 L234.64,245.36 L234.94,245.35 L235.23,245.35 L235.53,245.35 L235.83,245.35 L236.13,245.36 L236.42,245.37 L236.72,245.39 L237.02,245.41 L237.32,245.44 L237.62,245.47 L237.91,245.5 L238.21,245.54 L238.51,245.59 L238.81,245.63 L239.11,245.68 L239.4,245.74 L239.7,245.8 L240,245.86 L240.3,245.93 L240.59,246 L240.89,246.07 L241.19,246.15 L241.49,246.23 L241.79,246.31 L242.08,246.39 L242.38,246.48 L242.68,246.57 L242.98,246.67 L243.27,246.76 L243.57,246.86 L243.87,246.96 L244.17,247.06 L244.47,247.16 L244.76,247.27 L245.06,247.37 L245.36,247.48 L245.66,247.59 L245.95,247.69 L246.25,247.8 L246.55,247.91 L246.85,248.02 L247.15,248.13 L247.44,248.24 L247.74,248.36 L248.04,248.47 L248.34,248.58 L248.63,248.68 L248.93,248.79 L249.23,248.9 L249.53,249.01 L249.83,249.11 L250.12,249.22 L250.42,249.32 L250.72,249.42 L251.02,249.52 L251.31,249.62 L251.61,249.71 L251.91,249.8 L252.21,249.89 L252.51,249.98 L252.8,250.07 L253.1,250.15 L253.4,250.22 L253.7,250.3 L254,250.37 L254.29,250.44 L254.59,250.5 L254.89,250.56 L255.19,250.61 L255.48,250.66 L255.78,250.7 L256.08,250.74 L256.38,250.77 L256.68,250.8 L256.97,250.82 L257.27,250.84 L257.57,250.85 L257.87,250.85 L258.16,250.84 L258.46,250.83 L258.76,250.81 L259.06,250.79 L259.36,250.75 L259.65,250.71 L259.95,250.66 L260.25,250.6 L260.55,250.53 L260.84,250.45 L261.14,250.36 L261.44,250.27 L261.74,250.16 L262.04,250.05 L262.33,249.92 L262.63,249.79 L262.93,249.64 L263.23,249.48 L263.52,249.31 L263.82,249.13 L264.12,248.94 L264.42,248.73 L264.72,248.52 L265.01,248.28 L265.31,248.04 L265.61,247.78 L265.91,247.5 L266.2,247.21 L266.5,246.9 L266.8,246.57 L267.1,246.23 L267.4,245.86 L267.69,245.48 L267.99,245.07 L268.29,244.64 L268.59,244.18 L268.89,243.7 L269.18,243.19 L269.48,242.65 L269.78,242.09 L270.08,241.49 L270.37,240.86 L270.67,240.2 L270.97,239.5 L271.27,238.77 L271.57,238 L271.86,237.19 L272.16,236.35 L272.46,235.46 L272.76,234.54 L273.05,233.57 L273.35,232.57 L273.65,231.52 L273.95,230.44 L274.25,229.31 L274.54,228.15 L274.84,226.94 L275.14,225.7 L275.44,224.43 L275.73,223.12 L276.03,221.77 L276.33,220.4 L276.63,218.99 L276.93,217.57 L277.22,216.11 L277.52,214.64 L277.82,213.16 L278.12,211.65 L278.41,210.14 L278.71,208.63 L279.01,207.11 L279.31,205.6 L279.61,204.1 L279.9,202.61 L280.2,201.13 L280.5,199.68 L280.8,198.26 L281.09,196.87 L281.39,195.52 L281.69,194.22 L281.99,192.96 L282.29,191.76 L282.58,190.61 L282.88,189.53 L283.18,188.53 L283.48,187.59 L283.78,186.74 L284.07,185.97 L284.37,185.28 L284.67,184.69 L284.97,184.19 L285.26,183.79 L285.56,183.49 L285.86,183.29 L286.16,183.19 L286.46,183.19 L286.75,183.3 L287.05,183.51 L287.35,183.83 L287.65,184.24 L287.94,184.76 L288.24,185.37 L288.54,186.07 L288.84,186.87 L289.14,187.75 L289.43,188.71 L289.73,189.75 L290.03,190.86 L290.33,192.05 L290.62,193.29 L290.92,194.6 L291.22,195.96 L291.52,197.36 L291.82,198.81 L292.11,200.3 L292.41,201.81 L292.71,203.36 L293.01,204.93 L293.3,206.52 L293.6,208.12 L293.9,209.72 L294.2,211.33 L294.5,212.94 L294.79,214.55 L295.09,216.15 L295.39,217.73 L295.69,219.3 L295.98,220.85 L296.28,222.38 L296.58,223.88 L296.88,225.36 L297.18,226.81 L297.47,228.22 L297.77,229.6 L298.07,230.95 L298.37,232.26 L298.67,233.53 L298.96,234.76 L299.26,235.95 L299.56,237.1 L299.86,238.21 L300.15,239.28 L300.45,240.31 L300.75,241.3 L301.05,242.25 L301.35,243.16 L301.64,244.03 L301.94,244.86 L302.24,245.65 L302.54,246.4 L302.83,247.12 L303.13,247.8 L303.43,248.45 L303.73,249.06 L304.03,249.65 L304.32,250.2 L304.62,250.72 L304.92,251.21 L305.22,251.68 L305.51,252.12 L305.81,252.54 L306.11,252.93 L306.41,253.3 L306.71,253.65 L307,253.98 L307.3,254.3 L307.6,254.59 L307.9,254.87 L308.19,255.13 L308.49,255.38 L308.79,255.61 L309.09,255.83 L309.39,256.04 L309.68,256.24 L309.98,256.42 L310.28,256.6 L310.58,256.77 L310.88,256.93 L311.17,257.08 L311.47,257.23 L311.77,257.37 L312.07,257.5 L312.36,257.63 L312.66,257.75 L312.96,257.87 L313.26,257.98 L313.56,258.09 L313.85,258.19 L314.15,258.29 L314.45,258.39 L314.75,258.49 L315.04,258.58 L315.34,258.67 L315.64,258.75 L315.94,258.84 L316.24,258.92 L316.53,259 L316.83,259.08 L317.13,259.16 L317.43,259.23 L317.72,259.3 L318.02,259.38 L318.32,259.45 L318.62,259.51 L318.92,259.58 L319.21,259.65 L319.51,259.71 L319.81,259.78 L320.11,259.84 L320.4,259.9 L320.7,259.96 L321,260.02 L321.3,260.08 L321.6,260.13 L321.89,260.19 L322.19,260.24 L322.49,260.3 L322.79,260.35 L323.08,260.4 L323.38,260.45 L323.68,260.5 L323.98,260.55 L324.28,260.6 L324.57,260.64 L324.87,260.69 L325.17,260.74 L325.47,260.78 L325.76,260.82 L326.06,260.87 L326.36,260.91 L326.66,260.95 L326.96,260.99 L327.25,261.03 L327.55,261.07 L327.85,261.1 L328.15,261.14 L328.45,261.18 L328.74,261.21 L329.04,261.25 L329.34,261.28 L329.64,261.31 L329.93,261.34 L330.23,261.38 L330.53,261.41 L330.83,261.44 L331.13,261.47 L331.42,261.49 L331.72,261.52 L332.02,261.55 L332.32,261.58 L332.61,261.6 L332.91,261.63 L333.21,261.65 L333.51,261.68 L333.81,261.7 L334.1,261.72 L334.4,261.75 L334.7,261.77 L335,261.79 L335.29,261.81 L335.59,261.83 L335.89,261.85 L336.19,261.87 L336.49,261.89 L336.78,261.91 L337.08,261.92 L337.38,261.94 L337.68,261.96 L337.97,261.97 L338.27,261.99 L338.57,262 L338.87,262.02 L339.17,262.03 L339.46,262.05 L339.76,262.06 L340.06,262.07 L340.36,262.09 L340.65,262.1 L340.95,262.11 L341.25,262.12 L341.55,262.14 L341.85,262.15 L342.14,262.16 L342.44,262.17 L342.74,262.18 L343.04,262.19 L343.34,262.2 L343.63,262.21 L343.93,262.22 L344.23,262.23 L344.53,262.23 L344.82,262.24 L345.12,262.25 L345.42,262.26 L345.72,262.27 L346.02,262.27 L346.31,262.28 L346.61,262.29 L346.91,262.29 L347.21,262.3 L347.5,262.31 L347.8,262.31 L348.1,262.32" fill="none" stroke="#6a98ea" stroke-width="0.9" stroke-linejoin="round" />
<path d="M199.2,255.74 L199.5,255.73 L199.8,255.71 L200.09,255.69 L200.39,255.67 L200.69,255.65 L200.99,255.62 L201.28,255.6 L201.58,255.58 L201.88,255.55 L202.18,255.53 L202.48,255.5 L202.77,255.47 L203.07,255.44 L203.37,255.41 L203.67,255.37 L203.96,255.34 L204.26,255.3 L204.56,255.27 L204.86,255.23 L205.16,255.19 L205.45,255.15 L205.75,255.1 L206.05,255.06 L206.35,255.01 L206.64,254.97 L206.94,254.92 L207.24,254.86 L207.54,254.81 L207.84,254.76 L208.13,254.7 L208.43,254.64 L208.73,254.58 L209.03,254.52 L209.33,254.45 L209.62,254.39 L209.92,254.32 L210.22,254.25 L210.52,254.18 L210.81,254.1 L211.11,254.03 L211.41,253.95 L211.71,253.87 L212.01,253.79 L212.3,253.7 L212.6,253.62 L212.9,253.53 L213.2,253.44 L213.49,253.35 L213.79,253.25 L214.09,253.16 L214.39,253.06 L214.69,252.96 L214.98,252.86 L215.28,252.75 L215.58,252.65 L215.88,252.54 L216.17,252.43 L216.47,252.32 L216.77,252.21 L217.07,252.1 L217.37,251.98 L217.66,251.87 L217.96,251.75 L218.26,251.63 L218.56,251.51 L218.85,251.39 L219.15,251.27 L219.45,251.15 L219.75,251.03 L220.05,250.9 L220.34,250.78 L220.64,250.66 L220.94,250.53 L221.24,250.41 L221.53,250.28 L221.83,250.16 L222.13,250.03 L222.43,249.91 L222.73,249.78 L223.02,249.66 L223.32,249.53 L223.62,249.41 L223.92,249.29 L224.22,249.17 L224.51,249.05 L224.81,248.93 L225.11,248.82 L225.41,248.7 L225.7,248.59 L226,248.48 L226.3,248.37 L226.6,248.26 L226.9,248.15 L227.19,248.05 L227.49,247.95 L227.79,247.85 L228.09,247.76 L228.38,247.66 L228.68,247.57 L228.98,247.49 L229.28,247.4 L229.58,247.32 L229.87,247.25 L230.17,247.17 L230.47,247.1 L230.77,247.04 L231.06,246.98 L231.36,246.92 L231.66,246.86 L231.96,246.81 L232.26,246.77 L232.55,246.72 L232.85,246.68 L233.15,246.65 L233.45,246.62 L233.74,246.59 L234.04,246.57 L234.34,246.56 L234.64,246.54 L234.94,246.53 L235.23,246.53 L235.53,246.53 L235.83,246.53 L236.13,246.54 L236.42,246.55 L236.72,246.57 L237.02,246.59 L237.32,246.62 L237.62,246.64 L237.91,246.68 L238.21,246.71 L238.51,246.76 L238.81,246.8 L239.11,246.85 L239.4,246.9 L239.7,246.96 L240,247.01 L240.3,247.08 L240.59,247.14 L240.89,247.21 L241.19,247.28 L241.49,247.36 L241.79,247.43 L242.08,247.51 L242.38,247.59 L242.68,247.68 L242.98,247.77 L243.27,247.86 L243.57,247.95 L243.87,248.04 L244.17,248.13 L244.47,248.23 L244.76,248.33 L245.06,248.43 L245.36,248.52 L245.66,248.63 L245.95,248.73 L246.25,248.83 L246.55,248.93 L246.85,249.03 L247.15,249.14 L247.44,249.24 L247.74,249.34 L248.04,249.45 L248.34,249.55 L248.63,249.65 L248.93,249.75 L249.23,249.86 L249.53,249.95 L249.83,250.05 L250.12,250.15 L250.42,250.25 L250.72,250.34 L251.02,250.43 L251.31,250.53 L251.61,250.61 L251.91,250.7 L252.21,250.79 L252.51,250.87 L252.8,250.95 L253.1,251.02 L253.4,251.1 L253.7,251.17 L254,251.23 L254.29,251.3 L254.59,251.36 L254.89,251.41 L255.19,251.46 L255.48,251.51 L255.78,251.55 L256.08,251.59 L256.38,251.63 L256.68,251.66 L256.97,251.68 L257.27,251.7 L257.57,251.71 L257.87,251.72 L258.16,251.72 L258.46,251.71 L258.76,251.7 L259.06,251.68 L259.36,251.66 L259.65,251.62 L259.95,251.59 L260.25,251.54 L260.55,251.49 L260.84,251.43 L261.14,251.36 L261.44,251.29 L261.74,251.21 L262.04,251.12 L262.33,251.02 L262.63,250.91 L262.93,250.8 L263.23,250.68 L263.52,250.55 L263.82,250.41 L264.12,250.26 L264.42,250.1 L264.72,249.93 L265.01,249.75 L265.31,249.56 L265.61,249.36 L265.91,249.15 L266.2,248.92 L266.5,248.68 L266.8,248.42 L267.1,248.15 L267.4,247.86 L267.69,247.55 L267.99,247.22 L268.29,246.87 L268.59,246.5 L268.89,246.11 L269.18,245.68 L269.48,245.24 L269.78,244.76 L270.08,244.26 L270.37,243.72 L270.67,243.15 L270.97,242.54 L271.27,241.9 L271.57,241.22 L271.86,240.5 L272.16,239.74 L272.46,238.94 L272.76,238.09 L273.05,237.2 L273.35,236.27 L273.65,235.29 L273.95,234.27 L274.25,233.21 L274.54,232.1 L274.84,230.94 L275.14,229.74 L275.44,228.51 L275.73,227.22 L276.03,225.91 L276.33,224.55 L276.63,223.16 L276.93,221.74 L277.22,220.29 L277.52,218.81 L277.82,217.31 L278.12,215.79 L278.41,214.26 L278.71,212.72 L279.01,211.18 L279.31,209.63 L279.61,208.09 L279.9,206.56 L280.2,205.05 L280.5,203.56 L280.8,202.1 L281.09,200.67 L281.39,199.28 L281.69,197.94 L281.99,196.65 L282.29,195.42 L282.58,194.25 L282.88,193.15 L283.18,192.13 L283.48,191.18 L283.78,190.33 L284.07,189.56 L284.37,188.89 L284.67,188.32 L284.97,187.85 L285.26,187.49 L285.56,187.23 L285.86,187.09 L286.16,187.06 L286.46,187.13 L286.75,187.32 L287.05,187.62 L287.35,188.03 L287.65,188.54 L287.94,189.16 L288.24,189.87 L288.54,190.69 L288.84,191.59 L289.14,192.59 L289.43,193.67 L289.73,194.82 L290.03,196.05 L290.33,197.34 L290.62,198.7 L290.92,200.1 L291.22,201.56 L291.52,203.06 L291.82,204.6 L292.11,206.17 L292.41,207.76 L292.71,209.37 L293.01,211 L293.3,212.63 L293.6,214.27 L293.9,215.91 L294.2,217.54 L294.5,219.16 L294.79,220.76 L295.09,222.35 L295.39,223.91 L295.69,225.45 L295.98,226.96 L296.28,228.43 L296.58,229.88 L296.88,231.28 L297.18,232.65 L297.47,233.97 L297.77,235.26 L298.07,236.5 L298.37,237.7 L298.67,238.85 L298.96,239.96 L299.26,241.03 L299.56,242.05 L299.86,243.03 L300.15,243.96 L300.45,244.85 L300.75,245.69 L301.05,246.5 L301.35,247.26 L301.64,247.98 L301.94,248.67 L302.24,249.32 L302.54,249.93 L302.83,250.51 L303.13,251.05 L303.43,251.57 L303.73,252.05 L304.03,252.51 L304.32,252.93 L304.62,253.34 L304.92,253.71 L305.22,254.07 L305.51,254.4 L305.81,254.71 L306.11,255 L306.41,255.28 L306.71,255.54 L307,255.78 L307.3,256.01 L307.6,256.23 L307.9,256.43 L308.19,256.62 L308.49,256.8 L308.79,256.98 L309.09,257.14 L309.39,257.29 L309.68,257.44 L309.98,257.58 L310.28,257.71 L310.58,257.84 L310.88,257.96 L311.17,258.08 L311.47,258.19 L311.77,258.3 L312.07,258.4 L312.36,258.51 L312.66,258.6 L312.96,258.7 L313.26,258.79 L313.56,258.88 L313.85,258.97 L314.15,259.05 L314.45,259.13 L314.75,259.21 L315.04,259.29 L315.34,259.37 L315.64,259.45 L315.94,259.52 L316.24,259.59 L316.53,259.66 L316.83,259.73 L317.13,259.8 L317.43,259.87 L317.72,259.94 L318.02,260 L318.32,260.07 L318.62,260.13 L318.92,260.19 L319.21,260.25 L319.51,260.31 L319.81,260.37 L320.11,260.43 L320.4,260.49 L320.7,260.54 L321,260.6 L321.3,260.65 L321.6,260.71 L321.89,260.76 L322.19,260.81 L322.49,260.86 L322.79,260.91 L323.08,260.96 L323.38,261.01 L323.68,261.06 L323.98,261.1 L324.28,261.15 L324.57,261.19 L324.87,261.24 L325.17,261.28 L325.47,261.32 L325.76,261.36 L326.06,261.4 L326.36,261.44 L326.66,261.48 L326.96,261.52 L327.25,261.56 L327.55,261.59 L327.85,261.63 L328.15,261.67 L328.45,261.7 L328.74,261.73 L329.04,261.77 L329.34,261.8 L329.64,261.83 L329.93,261.86 L330.23,261.89 L330.53,261.92 L330.83,261.95 L331.13,261.98 L331.42,262 L331.72,262.03 L332.02,262.06 L332.32,262.08 L332.61,262.11 L332.91,262.13 L333.21,262.15 L333.51,262.18 L333.81,262.2 L334.1,262.22 L334.4,262.24 L334.7,262.26 L335,262.28 L335.29,262.3 L335.59,262.32 L335.89,262.34 L336.19,262.36 L336.49,262.38 L336.78,262.39 L337.08,262.41 L337.38,262.43 L337.68,262.44 L337.97,262.46 L338.27,262.47 L338.57,262.49 L338.87,262.5 L339.17,262.51 L339.46,262.53 L339.76,262.54 L340.06,262.55 L340.36,262.56 L340.65,262.58 L340.95,262.59 L341.25,262.6 L341.55,262.61 L341.85,262.62 L342.14,262.63 L342.44,262.64 L342.74,262.65 L343.04,262.66 L343.34,262.67 L343.63,262.68 L343.93,262.68 L344.23,262.69 L344.53,262.7 L344.82,262.71 L345.12,262.71 L345.42,262.72 L345.72,262.73 L346.02,262.74 L346.31,262.74 L346.61,262.75 L346.91,262.75 L347.21,262.76 L347.5,262.77 L347.8,262.77 L348.1,262.78" fill="none" stroke="#4d4aa3" stroke-width="0.85" stroke-linejoin="round" />
<rect x="198.6" y="159" width="150.1" height="116.8" fill="none" stroke="#5c5c5c" stroke-width="1.25"/>
<line x1="348.7" y1="275.8" x2="348.7" y2="274.3" stroke="#5c5c5c" stroke-width="0.8" />
<line x1="327.26" y1="275.8" x2="327.26" y2="273.2" stroke="#5c5c5c" stroke-width="0.8" />
<text x="327.26" y="284.9" font-size="7.5" font-weight="bold" text-anchor="middle" fill="#111" stroke="#111" stroke-width="0.18" >528</text>
<line x1="305.81" y1="275.8" x2="305.81" y2="274.3" stroke="#5c5c5c" stroke-width="0.8" />
<line x1="284.37" y1="275.8" x2="284.37" y2="273.2" stroke="#5c5c5c" stroke-width="0.8" />
<text x="284.37" y="284.9" font-size="7.5" font-weight="bold" text-anchor="middle" fill="#111" stroke="#111" stroke-width="0.18" >530</text>
<line x1="262.93" y1="275.8" x2="262.93" y2="274.3" stroke="#5c5c5c" stroke-width="0.8" />
<line x1="241.49" y1="275.8" x2="241.49" y2="273.2" stroke="#5c5c5c" stroke-width="0.8" />
<text x="241.49" y="284.9" font-size="7.5" font-weight="bold" text-anchor="middle" fill="#111" stroke="#111" stroke-width="0.18" >532</text>
<line x1="220.04" y1="275.8" x2="220.04" y2="274.3" stroke="#5c5c5c" stroke-width="0.8" />
<line x1="198.6" y1="275.8" x2="198.6" y2="273.2" stroke="#5c5c5c" stroke-width="0.8" />
<text x="198.6" y="284.9" font-size="7.5" font-weight="bold" text-anchor="middle" fill="#111" stroke="#111" stroke-width="0.18" >534</text>
<text x="204.9" y="173.6" font-size="12.7" font-weight="normal" text-anchor="start" fill="#111" stroke="#111" stroke-width="0.1" >(e)</text>
<text x="328" y="169.1" font-size="7.4" font-weight="bold" text-anchor="start" fill="#111" stroke="#111" stroke-width="0.18" >O 1s</text>
<text x="234.3" y="227.8" font-size="7.6" font-weight="bold" text-anchor="start" fill="#111" stroke="#111" stroke-width="0.18" >O<tspan font-size="5.4" dy="1.4">C</tspan></text>
<line x1="237" y1="244.5" x2="237" y2="234.3" stroke="#111" stroke-width="0.8" />
<path d="M237,232 L238.3,234.6 L235.7,234.6 Z" fill="#111"/>
<text x="282.9" y="171" font-size="7.6" font-weight="bold" text-anchor="start" fill="#111" stroke="#111" stroke-width="0.18" >O<tspan font-size="5.4" dy="1.4">L</tspan></text>
<line x1="286" y1="184.5" x2="286" y2="176.5" stroke="#111" stroke-width="0.8" />
<path d="M286,174.2 L287.3,176.8 L284.7,176.8 Z" fill="#111"/>
<text x="277.4" y="234.5" font-size="7.6" font-weight="bold" text-anchor="start" fill="#111" stroke="#111" stroke-width="0.18" >O<tspan font-size="5.4" dy="1.4">V</tspan></text>
<line x1="277.6" y1="252" x2="280.15" y2="239.06" stroke="#111" stroke-width="0.8" />
<path d="M280.6,236.8 L281.37,239.6 L278.82,239.1 Z" fill="#111"/>
<text transform="translate(188.7,210.8) rotate(-90)" font-size="9.7" font-weight="bold" text-anchor="middle" fill="#111" stroke="#111" stroke-width="0.18">Intensity (a.u.)</text>
<text x="221.7" y="299.5" font-size="9.85" font-weight="bold" text-anchor="start" fill="#111" stroke="#111" stroke-width="0.18" >Binding Energy (eV)</text>
<path d="M392.4,219.46 L392.9,219.53 L393.39,219.6 L393.89,219.67 L394.39,219.74 L394.88,219.82 L395.38,219.89 L395.88,219.96 L396.37,220.03 L396.87,220.1 L397.37,220.18 L397.86,220.25 L398.36,220.32 L398.86,220.39 L399.35,220.46 L399.85,220.53 L400.35,220.61 L400.84,220.68 L401.34,220.75 L401.84,220.82 L402.33,220.89 L402.83,220.96 L403.33,221.04 L403.82,221.11 L404.32,221.18 L404.82,221.25 L405.31,221.32 L405.81,221.39 L406.31,221.47 L406.8,221.54 L407.3,221.61 L407.8,221.68 L408.29,221.75 L408.79,221.83 L409.29,221.9 L409.78,221.97 L410.28,222.05 L410.78,222.14 L411.27,222.24 L411.77,222.33 L412.27,222.42 L412.76,222.52 L413.26,222.61 L413.76,222.7 L414.25,222.79 L414.75,222.89 L415.25,222.98 L415.74,223.07 L416.24,223.16 L416.74,223.26 L417.23,223.35 L417.73,223.44 L418.23,223.54 L418.72,223.63 L419.22,223.72 L419.72,223.81 L420.21,223.91 L420.71,224 L421.21,224.09 L421.7,224.18 L422.2,224.28 L422.7,224.37 L423.19,224.46 L423.69,224.56 L424.19,224.65 L424.68,224.74 L425.18,224.84 L425.68,224.94 L426.17,225.05 L426.67,225.16 L427.17,225.26 L427.66,225.37 L428.16,225.47 L428.66,225.58 L429.15,225.69 L429.65,225.79 L430.15,225.9 L430.64,226 L431.14,226.11 L431.64,226.22 L432.13,226.32 L432.63,226.43 L433.13,226.53 L433.62,226.64 L434.12,226.75 L434.62,226.85 L435.11,226.96 L435.61,227.06 L436.11,227.17 L436.6,227.28 L437.1,227.38 L437.6,227.49 L438.09,227.59 L438.59,227.7 L439.09,227.81 L439.58,227.91 L440.08,228.03 L440.58,228.19 L441.07,228.36 L441.57,228.52 L442.07,228.69 L442.56,228.85 L443.06,229.02 L443.56,229.19 L444.05,229.35 L444.55,229.52 L445.05,229.68 L445.54,229.85 L446.04,230.01 L446.54,230.18 L447.03,230.34 L447.53,230.51 L448.03,230.68 L448.52,230.84 L449.02,231.01 L449.52,231.17 L450.01,231.34 L450.51,231.5 L451.01,231.67 L451.5,231.83 L452,232 L452.5,232.17 L452.99,232.33 L453.49,232.5 L453.99,232.66 L454.48,232.83 L454.98,232.99 L455.48,233.31 L455.97,233.63 L456.47,233.96 L456.97,234.28 L457.46,234.6 L457.96,234.92 L458.46,235.25 L458.95,235.57 L459.45,235.89 L459.95,236.22 L460.44,236.54 L460.94,236.86 L461.44,237.18 L461.93,237.51 L462.43,237.83 L462.93,238.15 L463.42,238.48 L463.92,238.8 L464.42,239.12 L464.91,239.44 L465.41,239.86 L465.91,240.29 L466.4,240.73 L466.9,241.16 L467.4,241.6 L467.89,242.03 L468.39,242.47 L468.89,242.9 L469.38,243.34 L469.88,243.77 L470.38,244.2 L470.87,244.64 L471.37,245.07 L471.87,245.51 L472.36,245.94 L472.86,246.38 L473.36,246.62 L473.85,246.78 L474.35,246.95 L474.85,247.12 L475.34,247.28 L475.84,247.45 L476.34,247.61 L476.83,247.78 L477.33,247.94 L477.83,248.11 L478.32,248.27 L478.82,248.44 L479.32,248.61 L479.81,248.77 L480.31,248.94 L480.81,249.1 L481.3,249.27 L481.8,249.43 L482.3,249.58 L482.79,249.72 L483.29,249.86 L483.79,250 L484.28,250.13 L484.78,250.27 L485.28,250.41 L485.77,250.55 L486.27,250.69 L486.77,250.82 L487.26,250.96 L487.76,251.1 L488.26,251.24 L488.75,251.38 L489.25,251.51 L489.75,251.65 L490.24,251.79 L490.74,251.93 L491.24,252.14 L491.73,252.42 L492.23,252.7 L492.73,252.99 L493.22,253.27 L493.72,253.56 L494.22,253.84 L494.71,254.13 L495.21,254.41 L495.71,254.7 L496.2,254.98 L496.7,255.26 L497.2,255.55 L497.69,255.83 L498.19,256.12 L498.69,256.4 L499.18,256.69 L499.68,256.97 L500.18,257.26 L500.67,257.54 L501.17,257.82 L501.67,258.11 L502.16,258.41 L502.66,258.76 L503.16,259.11 L503.65,259.46 L504.15,259.81 L504.65,260.15 L505.14,260.5 L505.64,260.85 L506.14,261.2 L506.63,261.54 L507.13,261.89 L507.63,262.24 L508.12,262.59 L508.62,262.93 L509.12,263.23 L509.61,263.34 L510.11,263.45 L510.61,263.57 L511.1,263.68 L511.6,263.79 L512.1,263.91 L512.59,264.02 L513.09,264.13 L513.59,264.25 L514.08,264.36 L514.58,264.48 L515.08,264.59 L515.57,264.7 L516.07,264.8 L516.57,264.83 L517.06,264.86 L517.56,264.89 L518.06,264.91 L518.55,264.94 L519.05,264.97 L519.55,265 L520.04,265.02 L520.54,265.05 L521.04,265.08 L521.53,265.11 L522.03,265.13 L522.53,265.16 L523.02,265.19 L523.52,265.22 L524.02,265.25 L524.51,265.27 L525.01,265.3 L525.51,265.31 L526,265.33 L526.5,265.34 L527,265.36 L527.49,265.37 L527.99,265.39 L528.49,265.4 L528.98,265.42 L529.48,265.43 L529.98,265.45 L530.47,265.46 L530.97,265.48 L531.47,265.49 L531.96,265.5 L532.46,265.52 L532.96,265.53 L533.45,265.55 L533.95,265.56 L534.45,265.58 L534.94,265.59 L535.44,265.61 L535.94,265.62 L536.43,265.64 L536.93,265.65 L537.43,265.67 L537.92,265.68 L538.42,265.69 L538.92,265.71 L539.41,265.72 L539.91,265.74 L540.41,265.75 L540.9,265.77 L541.4,265.78" fill="none" stroke="#f4a090" stroke-width="0.9" stroke-linejoin="round" />
<path d="M392.4,219.37 L392.77,219.42 L393.15,219.48 L393.52,219.53 L393.89,219.58 L394.26,219.63 L394.64,219.68 L395.01,219.74 L395.38,219.79 L395.76,219.84 L396.13,219.89 L396.5,219.95 L396.88,220 L397.25,220.05 L397.62,220.1 L397.99,220.15 L398.37,220.21 L398.74,220.26 L399.11,220.31 L399.49,220.36 L399.86,220.41 L400.23,220.46 L400.61,220.51 L400.98,220.57 L401.35,220.62 L401.72,220.67 L402.1,220.72 L402.47,220.77 L402.84,220.82 L403.22,220.87 L403.59,220.92 L403.96,220.97 L404.33,221.02 L404.71,221.08 L405.08,221.13 L405.45,221.18 L405.83,221.23 L406.2,221.28 L406.57,221.33 L406.95,221.38 L407.32,221.43 L407.69,221.47 L408.06,221.52 L408.44,221.57 L408.81,221.62 L409.18,221.67 L409.56,221.72 L409.93,221.77 L410.3,221.83 L410.68,221.89 L411.05,221.96 L411.42,222.02 L411.79,222.08 L412.17,222.14 L412.54,222.21 L412.91,222.27 L413.29,222.33 L413.66,222.39 L414.03,222.45 L414.4,222.51 L414.78,222.57 L415.15,222.63 L415.52,222.69 L415.9,222.75 L416.27,222.81 L416.64,222.87 L417.02,222.92 L417.39,222.98 L417.76,223.03 L418.13,223.09 L418.51,223.14 L418.88,223.19 L419.25,223.24 L419.63,223.29 L420,223.33 L420.37,223.38 L420.74,223.42 L421.12,223.45 L421.49,223.49 L421.86,223.52 L422.24,223.54 L422.61,223.57 L422.98,223.58 L423.36,223.59 L423.73,223.59 L424.1,223.59 L424.47,223.58 L424.85,223.56 L425.22,223.53 L425.59,223.5 L425.97,223.45 L426.34,223.4 L426.71,223.33 L427.09,223.25 L427.46,223.15 L427.83,223.04 L428.2,222.91 L428.58,222.76 L428.95,222.6 L429.32,222.42 L429.7,222.23 L430.07,222.01 L430.44,221.79 L430.81,221.54 L431.19,221.28 L431.56,221.01 L431.93,220.73 L432.31,220.44 L432.68,220.14 L433.05,219.84 L433.43,219.53 L433.8,219.23 L434.17,218.93 L434.54,218.65 L434.92,218.37 L435.29,218.12 L435.66,217.9 L436.04,217.7 L436.41,217.55 L436.78,217.43 L437.16,217.36 L437.53,217.34 L437.9,217.38 L438.27,217.46 L438.65,217.6 L439.02,217.79 L439.39,218.03 L439.77,218.32 L440.14,218.66 L440.51,219.07 L440.88,219.51 L441.26,219.97 L441.63,220.45 L442,220.94 L442.38,221.44 L442.75,221.95 L443.12,222.46 L443.5,222.96 L443.87,223.47 L444.24,223.96 L444.61,224.44 L444.99,224.91 L445.36,225.37 L445.73,225.82 L446.11,226.24 L446.48,226.66 L446.85,227.05 L447.23,227.43 L447.6,227.79 L447.97,228.14 L448.34,228.46 L448.72,228.78 L449.09,229.07 L449.46,229.36 L449.84,229.63 L450.21,229.88 L450.58,230.13 L450.95,230.36 L451.33,230.58 L451.7,230.8 L452.07,231 L452.45,231.2 L452.82,231.39 L453.19,231.57 L453.57,231.75 L453.94,231.92 L454.31,232.08 L454.68,232.25 L455.06,232.42 L455.43,232.7 L455.8,232.97 L456.18,233.24 L456.55,233.5 L456.92,233.77 L457.3,234.03 L457.67,234.29 L458.04,234.55 L458.41,234.81 L458.79,235.06 L459.16,235.32 L459.53,235.58 L459.91,235.83 L460.28,236.08 L460.65,236.34 L461.02,236.59 L461.4,236.84 L461.77,237.09 L462.14,237.35 L462.52,237.6 L462.89,237.85 L463.26,238.1 L463.64,238.35 L464.01,238.6 L464.38,238.85 L464.75,239.1 L465.13,239.37 L465.5,239.71 L465.87,240.04 L466.25,240.37 L466.62,240.7 L466.99,241.03" fill="none" stroke="#4d4aa3" stroke-width="0.8" stroke-linejoin="round" />
<path d="M407.85,221.69 L408.28,221.75 L408.7,221.81 L409.12,221.87 L409.54,221.93 L409.96,221.99 L410.38,222.07 L410.8,222.15 L411.23,222.23 L411.65,222.31 L412.07,222.39 L412.49,222.46 L412.91,222.54 L413.33,222.62 L413.75,222.7 L414.18,222.78 L414.6,222.86 L415.02,222.94 L415.44,223.02 L415.86,223.09 L416.28,223.17 L416.7,223.25 L417.13,223.33 L417.55,223.41 L417.97,223.49 L418.39,223.57 L418.81,223.64 L419.23,223.72 L419.65,223.8 L420.08,223.88 L420.5,223.96 L420.92,224.04 L421.34,224.12 L421.76,224.19 L422.18,224.27 L422.61,224.35 L423.03,224.43 L423.45,224.51 L423.87,224.58 L424.29,224.66 L424.71,224.74 L425.13,224.82 L425.56,224.9 L425.98,224.99 L426.4,225.08 L426.82,225.16 L427.24,225.25 L427.66,225.33 L428.08,225.41 L428.51,225.49 L428.93,225.57 L429.35,225.64 L429.77,225.71 L430.19,225.78 L430.61,225.85 L431.03,225.91 L431.46,225.97 L431.88,226.02 L432.3,226.07 L432.72,226.11 L433.14,226.15 L433.56,226.18 L433.98,226.2 L434.41,226.21 L434.83,226.21 L435.25,226.2 L435.67,226.19 L436.09,226.16 L436.51,226.12 L436.93,226.06 L437.36,226 L437.78,225.92 L438.2,225.83 L438.62,225.72 L439.04,225.61 L439.46,225.48 L439.88,225.34 L440.31,225.22 L440.73,225.11 L441.15,224.98 L441.57,224.85 L441.99,224.71 L442.41,224.57 L442.84,224.42 L443.26,224.28 L443.68,224.13 L444.1,223.99 L444.52,223.85 L444.94,223.72 L445.36,223.59 L445.79,223.49 L446.21,223.39 L446.63,223.32 L447.05,223.26 L447.47,223.23 L447.89,223.22 L448.31,223.23 L448.74,223.27 L449.16,223.34 L449.58,223.44 L450,223.56 L450.42,223.72 L450.84,223.9 L451.26,224.11 L451.69,224.35 L452.11,224.62 L452.53,224.91 L452.95,225.23 L453.37,225.57 L453.79,225.92 L454.21,226.3 L454.64,226.69 L455.06,227.11 L455.48,227.65 L455.9,228.2 L456.32,228.76 L456.74,229.32 L457.16,229.89 L457.59,230.45 L458.01,231.01 L458.43,231.56 L458.85,232.1 L459.27,232.64 L459.69,233.17 L460.12,233.68 L460.54,234.19 L460.96,234.68 L461.38,235.16 L461.8,235.63 L462.22,236.09 L462.64,236.53 L463.07,236.96 L463.49,237.38 L463.91,237.78 L464.33,238.17 L464.75,238.56 L465.17,238.97 L465.59,239.42 L466.02,239.87 L466.44,240.31 L466.86,240.74 L467.28,241.16 L467.7,241.58 L468.12,241.99 L468.54,242.39 L468.97,242.8 L469.39,243.19 L469.81,243.58 L470.23,243.97 L470.65,244.36 L471.07,244.74 L471.49,245.12 L471.92,245.5 L472.34,245.88 L472.76,246.26 L473.18,246.53 L473.6,246.68 L474.02,246.82 L474.44,246.97 L474.87,247.11 L475.29,247.25 L475.71,247.4 L476.13,247.54 L476.55,247.68 L476.97,247.82 L477.39,247.96 L477.82,248.1 L478.24,248.24 L478.66,248.39 L479.08,248.53 L479.5,248.67 L479.92,248.81 L480.35,248.95 L480.77,249.09 L481.19,249.23 L481.61,249.37 L482.03,249.51 L482.45,249.63 L482.87,249.74 L483.3,249.86 L483.72,249.98 L484.14,250.09 L484.56,250.21 L484.98,250.33 L485.4,250.45 L485.82,250.56 L486.25,250.68 L486.67,250.8 L487.09,250.91 L487.51,251.03 L487.93,251.15 L488.35,251.26 L488.77,251.38 L489.2,251.5 L489.62,251.62 L490.04,251.73 L490.46,251.85 L490.88,251.97 L491.3,252.17 L491.72,252.41 L492.15,252.66" fill="none" stroke="#5a5a5a" stroke-width="0.8" stroke-linejoin="round" />
<path d="M446.47,230.16 L446.58,230.19 L446.69,230.23 L446.8,230.27 L446.91,230.3 L447.02,230.34 L447.12,230.37 L447.23,230.41 L447.34,230.45 L447.45,230.48 L447.56,230.52 L447.67,230.56 L447.78,230.59 L447.88,230.63 L447.99,230.66 L448.1,230.7 L448.21,230.74 L448.32,230.77 L448.43,230.81 L448.54,230.85 L448.65,230.88 L448.75,230.92 L448.86,230.95 L448.97,230.99 L449.08,231.03 L449.19,231.06 L449.3,231.1 L449.41,231.13 L449.52,231.17 L449.62,231.2 L449.73,231.24 L449.84,231.27 L449.95,231.31 L450.06,231.34 L450.17,231.38 L450.28,231.41 L450.38,231.44 L450.49,231.47 L450.6,231.5 L450.71,231.52 L450.82,231.55 L450.93,231.57 L451.04,231.59 L451.15,231.6 L451.25,231.61 L451.36,231.62 L451.47,231.62 L451.58,231.61 L451.69,231.59 L451.8,231.56 L451.91,231.52 L452.01,231.46 L452.12,231.39 L452.23,231.3 L452.34,231.18 L452.45,231.05 L452.56,230.88 L452.67,230.69 L452.78,230.46 L452.88,230.2 L452.99,229.89 L453.1,229.53 L453.21,229.13 L453.32,228.67 L453.43,228.16 L453.54,227.58 L453.64,226.93 L453.75,226.22 L453.86,225.43 L453.97,224.57 L454.08,223.62 L454.19,222.6 L454.3,221.49 L454.41,220.3 L454.51,219.04 L454.62,217.69 L454.73,216.26 L454.84,214.77 L454.95,213.2 L455.06,211.6 L455.17,209.96 L455.28,208.27 L455.38,206.55 L455.49,204.81 L455.6,203.06 L455.71,201.32 L455.82,199.6 L455.93,197.91 L456.04,196.26 L456.14,194.69 L456.25,193.19 L456.36,191.79 L456.47,190.49 L456.58,189.33 L456.69,188.29 L456.8,187.41 L456.91,186.69 L457.01,186.13 L457.12,185.75 L457.23,185.54 L457.34,185.52 L457.45,185.68 L457.56,186.03 L457.67,186.55 L457.77,187.25 L457.88,188.12 L457.99,189.14 L458.1,190.32 L458.21,191.62 L458.32,193.06 L458.43,194.6 L458.54,196.24 L458.64,197.96 L458.75,199.74 L458.86,201.57 L458.97,203.44 L459.08,205.32 L459.19,207.21 L459.3,209.1 L459.4,210.95 L459.51,212.78 L459.62,214.56 L459.73,216.29 L459.84,217.97 L459.95,219.57 L460.06,221.1 L460.17,222.56 L460.27,223.93 L460.38,225.23 L460.49,226.44 L460.6,227.57 L460.71,228.62 L460.82,229.59 L460.93,230.49 L461.04,231.31 L461.14,232.06 L461.25,232.75 L461.36,233.37 L461.47,233.93 L461.58,234.44 L461.69,234.9 L461.8,235.32 L461.9,235.69 L462.01,236.03 L462.12,236.33 L462.23,236.6 L462.34,236.84 L462.45,237.06 L462.56,237.26 L462.67,237.44 L462.77,237.6 L462.88,237.75 L462.99,237.89 L463.1,238.01 L463.21,238.13 L463.32,238.24 L463.43,238.34 L463.53,238.44 L463.64,238.53 L463.75,238.62 L463.86,238.7 L463.97,238.78 L464.08,238.86 L464.19,238.94 L464.3,239.02 L464.4,239.09 L464.51,239.17 L464.62,239.24 L464.73,239.32 L464.84,239.39 L464.95,239.46 L465.06,239.55 L465.16,239.64 L465.27,239.74 L465.38,239.83 L465.49,239.93 L465.6,240.02 L465.71,240.12 L465.82,240.21 L465.93,240.31 L466.03,240.4 L466.14,240.5 L466.25,240.6 L466.36,240.69 L466.47,240.79 L466.58,240.88 L466.69,240.98 L466.8,241.07 L466.9,241.17 L467.01,241.26 L467.12,241.36 L467.23,241.45 L467.34,241.55 L467.45,241.64 L467.56,241.74 L467.66,241.83 L467.77,241.93 L467.88,242.02 L467.99,242.12 L468.1,242.21 L468.21,242.31" fill="none" stroke="#58b8c8" stroke-width="0.8" stroke-linejoin="round" />
<path d="M453.47,232.49 L453.57,232.52 L453.66,232.55 L453.76,232.59 L453.86,232.62 L453.96,232.65 L454.06,232.69 L454.15,232.72 L454.25,232.75 L454.35,232.78 L454.45,232.82 L454.55,232.85 L454.64,232.88 L454.74,232.91 L454.84,232.95 L454.94,232.98 L455.04,233.02 L455.13,233.09 L455.23,233.15 L455.33,233.21 L455.43,233.28 L455.53,233.34 L455.62,233.41 L455.72,233.47 L455.82,233.53 L455.92,233.6 L456.02,233.66 L456.11,233.72 L456.21,233.78 L456.31,233.85 L456.41,233.91 L456.51,233.97 L456.6,234.03 L456.7,234.1 L456.8,234.16 L456.9,234.21 L457,234.27 L457.09,234.33 L457.19,234.39 L457.29,234.44 L457.39,234.49 L457.49,234.54 L457.58,234.58 L457.68,234.62 L457.78,234.66 L457.88,234.69 L457.98,234.71 L458.07,234.73 L458.17,234.73 L458.27,234.72 L458.37,234.7 L458.47,234.67 L458.57,234.62 L458.66,234.54 L458.76,234.45 L458.86,234.32 L458.96,234.17 L459.06,233.99 L459.15,233.77 L459.25,233.51 L459.35,233.2 L459.45,232.84 L459.55,232.44 L459.64,231.97 L459.74,231.44 L459.84,230.84 L459.94,230.17 L460.04,229.43 L460.13,228.6 L460.23,227.7 L460.33,226.71 L460.43,225.63 L460.53,224.47 L460.62,223.21 L460.72,221.87 L460.82,220.45 L460.92,218.94 L461.02,217.36 L461.11,215.7 L461.21,213.98 L461.31,212.2 L461.41,210.38 L461.51,208.52 L461.6,206.63 L461.7,204.74 L461.8,202.85 L461.9,200.99 L462,199.15 L462.09,197.38 L462.19,195.67 L462.29,194.05 L462.39,192.52 L462.49,191.12 L462.58,189.85 L462.68,188.73 L462.78,187.77 L462.88,186.98 L462.98,186.37 L463.07,185.94 L463.17,185.71 L463.27,185.68 L463.37,185.84 L463.47,186.2 L463.56,186.75 L463.66,187.49 L463.76,188.41 L463.86,189.5 L463.96,190.75 L464.05,192.14 L464.15,193.67 L464.25,195.32 L464.35,197.07 L464.45,198.91 L464.54,200.81 L464.64,202.77 L464.74,204.76 L464.84,206.78 L464.94,208.8 L465.03,210.82 L465.13,212.83 L465.23,214.8 L465.33,216.73 L465.43,218.6 L465.52,220.41 L465.62,222.14 L465.72,223.8 L465.82,225.37 L465.92,226.86 L466.01,228.26 L466.11,229.58 L466.21,230.8 L466.31,231.94 L466.41,233 L466.5,233.97 L466.6,234.86 L466.7,235.68 L466.8,236.43 L466.9,237.11 L466.99,237.73 L467.09,238.28 L467.19,238.79 L467.29,239.25 L467.39,239.66 L467.48,240.03 L467.58,240.36 L467.68,240.66 L467.78,240.93 L467.88,241.18 L467.97,241.4 L468.07,241.6 L468.17,241.79 L468.27,241.96 L468.37,242.11 L468.47,242.26 L468.56,242.39 L468.66,242.52 L468.76,242.64 L468.86,242.76 L468.96,242.86 L469.05,242.97 L469.15,243.07 L469.25,243.17 L469.35,243.26 L469.45,243.36 L469.54,243.45 L469.64,243.54 L469.74,243.63 L469.84,243.72 L469.94,243.81 L470.03,243.9 L470.13,243.98 L470.23,244.07 L470.33,244.16 L470.43,244.24 L470.52,244.33 L470.62,244.42 L470.72,244.5 L470.82,244.59 L470.92,244.68 L471.01,244.76 L471.11,244.85 L471.21,244.93 L471.31,245.02 L471.41,245.1 L471.5,245.19 L471.6,245.28 L471.7,245.36 L471.8,245.45 L471.9,245.53 L471.99,245.62 L472.09,245.71 L472.19,245.79 L472.29,245.88 L472.39,245.96 L472.48,246.05 L472.58,246.13 L472.68,246.22 L472.78,246.31 L472.88,246.39 L472.97,246.48 L473.07,246.52" fill="none" stroke="#f0c890" stroke-width="0.8" stroke-linejoin="round" />
<path d="M454.39,232.8 L454.73,232.91 L455.06,233.04 L455.4,233.26 L455.73,233.48 L456.07,233.69 L456.4,233.91 L456.74,234.13 L457.07,234.35 L457.41,234.57 L457.74,234.78 L458.08,235 L458.41,235.22 L458.75,235.44 L459.09,235.66 L459.42,235.87 L459.76,236.09 L460.09,236.31 L460.43,236.53 L460.76,236.75 L461.1,236.96 L461.43,237.18 L461.77,237.4 L462.1,237.62 L462.44,237.84 L462.77,238.05 L463.11,238.27 L463.45,238.49 L463.78,238.71 L464.12,238.92 L464.45,239.14 L464.79,239.36 L465.12,239.6 L465.46,239.9 L465.79,240.19 L466.13,240.48 L466.46,240.77 L466.8,241.06 L467.14,241.35 L467.47,241.64 L467.81,241.93 L468.14,242.21 L468.48,242.5 L468.81,242.78 L469.15,243.06 L469.48,243.34 L469.82,243.62 L470.15,243.89 L470.49,244.16 L470.82,244.42 L471.16,244.67 L471.5,244.92 L471.83,245.16 L472.17,245.4 L472.5,245.62 L472.84,245.83 L473.17,245.93 L473.51,245.93 L473.84,245.92 L474.18,245.89 L474.51,245.83 L474.85,245.76 L475.18,245.66 L475.52,245.53 L475.86,245.38 L476.19,245.2 L476.53,244.98 L476.86,244.73 L477.2,244.45 L477.53,244.13 L477.87,243.77 L478.2,243.37 L478.54,242.94 L478.87,242.46 L479.21,241.95 L479.55,241.4 L479.88,240.81 L480.22,240.18 L480.55,239.53 L480.89,238.84 L481.22,238.13 L481.56,237.4 L481.89,236.65 L482.23,235.89 L482.56,235.11 L482.9,234.33 L483.23,233.56 L483.57,232.81 L483.91,232.08 L484.24,231.38 L484.58,230.72 L484.91,230.11 L485.25,229.55 L485.58,229.05 L485.92,228.61 L486.25,228.25 L486.59,227.96 L486.92,227.75 L487.26,227.63 L487.59,227.59 L487.93,227.64 L488.27,227.77 L488.6,228 L488.94,228.31 L489.27,228.7 L489.61,229.18 L489.94,229.73 L490.28,230.35 L490.61,231.04 L490.95,231.79 L491.28,232.67 L491.62,233.62 L491.95,234.6 L492.29,235.61 L492.63,236.65 L492.96,237.7 L493.3,238.76 L493.63,239.83 L493.97,240.89 L494.3,241.94 L494.64,242.97 L494.97,243.99 L495.31,244.98 L495.64,245.94 L495.98,246.86 L496.31,247.76 L496.65,248.61 L496.99,249.43 L497.32,250.21 L497.66,250.95 L497.99,251.65 L498.33,252.31 L498.66,252.94 L499,253.53 L499.33,254.08 L499.67,254.6 L500,255.09 L500.34,255.54 L500.68,255.97 L501.01,256.37 L501.35,256.75 L501.68,257.11 L502.02,257.45 L502.35,257.81 L502.69,258.16 L503.02,258.49 L503.36,258.81 L503.69,259.11 L504.03,259.41 L504.36,259.69 L504.7,259.97 L505.04,260.25 L505.37,260.51 L505.71,260.77 L506.04,261.03 L506.38,261.28 L506.71,261.53 L507.05,261.78 L507.38,262.03 L507.72,262.27 L508.05,262.51 L508.39,262.75 L508.72,262.99 L509.06,263.2 L509.4,263.28 L509.73,263.36 L510.07,263.44 L510.4,263.52 L510.74,263.59 L511.07,263.67 L511.41,263.75 L511.74,263.83 L512.08,263.9 L512.41,263.98 L512.75,264.06 L513.09,264.13 L513.42,264.21 L513.76,264.29 L514.09,264.36 L514.43,264.44 L514.76,264.52 L515.1,264.59 L515.43,264.67 L515.77,264.75 L516.1,264.81 L516.44,264.82 L516.77,264.84 L517.11,264.86 L517.45,264.88 L517.78,264.9 L518.12,264.92 L518.45,264.94 L518.79,264.95 L519.12,264.97 L519.46,264.99 L519.79,265.01 L520.13,265.03 L520.46,265.05 L520.8,265.07 L521.13,265.09 L521.47,265.1" fill="none" stroke="#6a60c0" stroke-width="0.8" stroke-linejoin="round" />
<path d="M474.46,246.99 L474.73,247.08 L475,247.17 L475.28,247.26 L475.55,247.35 L475.83,247.44 L476.1,247.53 L476.37,247.62 L476.65,247.72 L476.92,247.81 L477.2,247.9 L477.47,247.99 L477.74,248.08 L478.02,248.17 L478.29,248.26 L478.57,248.36 L478.84,248.45 L479.11,248.54 L479.39,248.63 L479.66,248.72 L479.94,248.81 L480.21,248.9 L480.48,248.99 L480.76,249.09 L481.03,249.18 L481.31,249.27 L481.58,249.36 L481.86,249.45 L482.13,249.53 L482.4,249.61 L482.68,249.69 L482.95,249.76 L483.23,249.84 L483.5,249.91 L483.77,249.99 L484.05,250.06 L484.32,250.13 L484.6,250.21 L484.87,250.28 L485.14,250.35 L485.42,250.42 L485.69,250.49 L485.97,250.56 L486.24,250.62 L486.51,250.68 L486.79,250.74 L487.06,250.8 L487.34,250.85 L487.61,250.9 L487.88,250.94 L488.16,250.98 L488.43,251.01 L488.71,251.03 L488.98,251.04 L489.25,251.04 L489.53,251.03 L489.8,251 L490.08,250.96 L490.35,250.9 L490.62,250.82 L490.9,250.72 L491.17,250.65 L491.45,250.58 L491.72,250.49 L491.99,250.36 L492.27,250.2 L492.54,250.01 L492.82,249.79 L493.09,249.52 L493.36,249.22 L493.64,248.87 L493.91,248.49 L494.19,248.06 L494.46,247.59 L494.73,247.08 L495.01,246.53 L495.28,245.94 L495.56,245.31 L495.83,244.65 L496.11,243.96 L496.38,243.24 L496.65,242.5 L496.93,241.74 L497.2,240.97 L497.48,240.2 L497.75,239.43 L498.02,238.67 L498.3,237.92 L498.57,237.2 L498.85,236.52 L499.12,235.87 L499.39,235.28 L499.67,234.74 L499.94,234.26 L500.22,233.85 L500.49,233.52 L500.76,233.27 L501.04,233.11 L501.31,233.03 L501.59,233.05 L501.86,233.16 L502.13,233.38 L502.41,233.71 L502.68,234.14 L502.96,234.65 L503.23,235.25 L503.5,235.93 L503.78,236.68 L504.05,237.51 L504.33,238.4 L504.6,239.34 L504.87,240.34 L505.15,241.37 L505.42,242.44 L505.7,243.53 L505.97,244.64 L506.24,245.76 L506.52,246.88 L506.79,248 L507.07,249.11 L507.34,250.2 L507.61,251.27 L507.89,252.31 L508.16,253.32 L508.44,254.29 L508.71,255.23 L508.99,256.13 L509.26,256.87 L509.53,257.56 L509.81,258.2 L510.08,258.81 L510.36,259.37 L510.63,259.9 L510.9,260.38 L511.18,260.83 L511.45,261.24 L511.73,261.61 L512,261.96 L512.27,262.27 L512.55,262.56 L512.82,262.82 L513.1,263.06 L513.37,263.28 L513.64,263.48 L513.92,263.66 L514.19,263.82 L514.47,263.97 L514.74,264.11 L515.01,264.24 L515.29,264.36 L515.56,264.47 L515.84,264.57 L516.11,264.65 L516.38,264.69 L516.66,264.73 L516.93,264.77 L517.21,264.8 L517.48,264.83 L517.75,264.85 L518.03,264.88 L518.3,264.9 L518.58,264.92 L518.85,264.94 L519.12,264.96 L519.4,264.98 L519.67,264.99 L519.95,265.01 L520.22,265.03 L520.49,265.05 L520.77,265.06 L521.04,265.08 L521.32,265.09 L521.59,265.11 L521.86,265.12 L522.14,265.14 L522.41,265.16 L522.69,265.17 L522.96,265.19 L523.24,265.2 L523.51,265.22 L523.78,265.23 L524.06,265.25 L524.33,265.26 L524.61,265.28 L524.88,265.29 L525.15,265.3 L525.43,265.31 L525.7,265.32 L525.98,265.33 L526.25,265.34 L526.52,265.34 L526.8,265.35 L527.07,265.36 L527.35,265.37 L527.62,265.38 L527.89,265.39 L528.17,265.39 L528.44,265.4 L528.72,265.41 L528.99,265.42 L529.26,265.43" fill="none" stroke="#7a5a50" stroke-width="0.8" stroke-linejoin="round" />
<path d="M493.06,253.18 L493.2,253.26 L493.34,253.34 L493.48,253.42 L493.63,253.5 L493.77,253.59 L493.91,253.67 L494.05,253.75 L494.2,253.83 L494.34,253.91 L494.48,253.99 L494.62,254.07 L494.76,254.16 L494.91,254.24 L495.05,254.32 L495.19,254.4 L495.33,254.48 L495.48,254.56 L495.62,254.64 L495.76,254.73 L495.9,254.81 L496.04,254.89 L496.19,254.97 L496.33,255.05 L496.47,255.13 L496.61,255.21 L496.76,255.29 L496.9,255.38 L497.04,255.46 L497.18,255.54 L497.32,255.62 L497.47,255.7 L497.61,255.78 L497.75,255.86 L497.89,255.93 L498.04,256.01 L498.18,256.09 L498.32,256.17 L498.46,256.24 L498.6,256.31 L498.75,256.38 L498.89,256.45 L499.03,256.51 L499.17,256.58 L499.32,256.63 L499.46,256.68 L499.6,256.73 L499.74,256.77 L499.88,256.8 L500.03,256.81 L500.17,256.82 L500.31,256.82 L500.45,256.79 L500.6,256.75 L500.74,256.69 L500.88,256.61 L501.02,256.5 L501.16,256.37 L501.31,256.2 L501.45,255.99 L501.59,255.75 L501.73,255.46 L501.88,255.12 L502.02,254.73 L502.16,254.31 L502.3,253.83 L502.44,253.28 L502.59,252.66 L502.73,251.98 L502.87,251.22 L503.01,250.39 L503.16,249.48 L503.3,248.5 L503.44,247.44 L503.58,246.3 L503.72,245.08 L503.87,243.79 L504.01,242.43 L504.15,241.01 L504.29,239.54 L504.44,238.01 L504.58,236.44 L504.72,234.84 L504.86,233.22 L505,231.59 L505.15,229.97 L505.29,228.36 L505.43,226.79 L505.57,225.26 L505.72,223.8 L505.86,222.41 L506,221.11 L506.14,219.91 L506.28,218.83 L506.43,217.89 L506.57,217.08 L506.71,216.42 L506.85,215.93 L507,215.59 L507.14,215.43 L507.28,215.45 L507.42,215.63 L507.56,215.99 L507.71,216.52 L507.85,217.22 L507.99,218.07 L508.13,219.08 L508.28,220.23 L508.42,221.5 L508.56,222.9 L508.7,224.4 L508.84,225.99 L508.99,227.65 L509.13,229.32 L509.27,231.02 L509.41,232.76 L509.56,234.52 L509.7,236.28 L509.84,238.03 L509.98,239.76 L510.12,241.46 L510.27,243.12 L510.41,244.73 L510.55,246.28 L510.69,247.77 L510.84,249.19 L510.98,250.54 L511.12,251.81 L511.26,253.01 L511.4,254.13 L511.55,255.17 L511.69,256.13 L511.83,257.02 L511.97,257.83 L512.12,258.58 L512.26,259.26 L512.4,259.87 L512.54,260.43 L512.68,260.93 L512.83,261.38 L512.97,261.79 L513.11,262.15 L513.25,262.47 L513.4,262.75 L513.54,263 L513.68,263.22 L513.82,263.42 L513.96,263.59 L514.11,263.75 L514.25,263.88 L514.39,264 L514.53,264.11 L514.68,264.2 L514.82,264.29 L514.96,264.37 L515.1,264.43 L515.24,264.5 L515.39,264.55 L515.53,264.61 L515.67,264.66 L515.81,264.7 L515.96,264.75 L516.1,264.77 L516.24,264.79 L516.38,264.8 L516.52,264.81 L516.67,264.82 L516.81,264.83 L516.95,264.84 L517.09,264.85 L517.24,264.86 L517.38,264.87 L517.52,264.88 L517.66,264.89 L517.8,264.9 L517.95,264.91 L518.09,264.92 L518.23,264.92 L518.37,264.93 L518.52,264.94 L518.66,264.95 L518.8,264.96 L518.94,264.96 L519.08,264.97 L519.23,264.98 L519.37,264.99 L519.51,265 L519.65,265 L519.8,265.01 L519.94,265.02 L520.08,265.03 L520.22,265.03 L520.36,265.04 L520.51,265.05 L520.65,265.06 L520.79,265.07 L520.93,265.07 L521.08,265.08 L521.22,265.09 L521.36,265.1 L521.5,265.11" fill="none" stroke="#f07a8a" stroke-width="0.8" stroke-linejoin="round" />
<path d="M392.4,215.82 L392.57,215.85 L392.73,215.89 L392.9,215.92 L393.06,215.95 L393.23,215.99 L393.39,216.02 L393.56,216.06 L393.72,216.09 L393.89,216.12 L394.06,216.16 L394.22,216.19 L394.39,216.23 L394.55,216.26 L394.72,216.3 L394.88,216.33 L395.05,216.37 L395.21,216.4 L395.38,216.43 L395.55,216.47 L395.71,216.5 L395.88,216.54 L396.04,216.57 L396.21,216.6 L396.37,216.64 L396.54,216.67 L396.7,216.71 L396.87,216.74 L397.04,216.77 L397.2,216.8 L397.37,216.84 L397.53,216.87 L397.7,216.9 L397.86,216.93 L398.03,216.97 L398.19,217 L398.36,217.03 L398.53,217.06 L398.69,217.09 L398.86,217.12 L399.02,217.15 L399.19,217.18 L399.35,217.21 L399.52,217.23 L399.68,217.26 L399.85,217.29 L400.02,217.32 L400.18,217.34 L400.35,217.37 L400.51,217.39 L400.68,217.42 L400.84,217.44 L401.01,217.46 L401.17,217.48 L401.34,217.5 L401.51,217.52 L401.67,217.54 L401.84,217.56 L402,217.58 L402.17,217.59 L402.33,217.61 L402.5,217.62 L402.66,217.63 L402.83,217.64 L403,217.65 L403.16,217.66 L403.33,217.66 L403.49,217.67 L403.66,217.67 L403.82,217.67 L403.99,217.67 L404.15,217.67 L404.32,217.66 L404.49,217.65 L404.65,217.64 L404.82,217.62 L404.98,217.61 L405.15,217.59 L405.31,217.56 L405.48,217.53 L405.64,217.5 L405.81,217.46 L405.98,217.42 L406.14,217.37 L406.31,217.32 L406.47,217.26 L406.64,217.2 L406.8,217.13 L406.97,217.04 L407.13,216.96 L407.3,216.86 L407.47,216.75 L407.63,216.62 L407.8,216.49 L407.96,216.34 L408.13,216.17 L408.29,215.98 L408.46,215.76 L408.62,215.53 L408.79,215.26 L408.96,214.96 L409.12,214.62 L409.29,214.23 L409.45,213.8 L409.62,213.31 L409.78,212.75 L409.95,212.13 L410.11,211.43 L410.28,210.64 L410.45,209.77 L410.61,208.78 L410.78,207.69 L410.94,206.48 L411.11,205.15 L411.27,203.68 L411.44,202.09 L411.6,200.37 L411.77,198.53 L411.94,196.59 L412.1,194.56 L412.27,192.49 L412.43,190.42 L412.6,188.42 L412.76,186.56 L412.93,184.93 L413.09,183.63 L413.26,182.74 L413.43,182.33 L413.59,182.43 L413.76,183.03 L413.92,184.09 L414.09,185.54 L414.25,187.31 L414.42,189.28 L414.58,191.38 L414.75,193.53 L414.92,195.68 L415.08,197.76 L415.25,199.76 L415.41,201.65 L415.58,203.42 L415.74,205.06 L415.91,206.57 L416.07,207.95 L416.24,209.21 L416.41,210.36 L416.57,211.39 L416.74,212.32 L416.9,213.16 L417.07,213.92 L417.23,214.6 L417.4,215.2 L417.56,215.75 L417.73,216.24 L417.9,216.68 L418.06,217.08 L418.23,217.44 L418.39,217.77 L418.56,218.07 L418.72,218.35 L418.89,218.6 L419.05,218.83 L419.22,219.04 L419.39,219.24 L419.55,219.43 L419.72,219.6 L419.88,219.76 L420.05,219.92 L420.21,220.06 L420.38,220.19 L420.54,220.32 L420.71,220.44 L420.88,220.55 L421.04,220.66 L421.21,220.76 L421.37,220.86 L421.54,220.95 L421.7,221.04 L421.87,221.12 L422.03,221.2 L422.2,221.27 L422.37,221.34 L422.53,221.41 L422.7,221.47 L422.86,221.53 L423.03,221.58 L423.19,221.63 L423.36,221.68 L423.52,221.73 L423.69,221.77 L423.86,221.81 L424.02,221.84 L424.19,221.88 L424.35,221.91 L424.52,221.93 L424.68,221.96 L424.85,221.98 L425.01,221.99 L425.18,222.01 L425.35,222.03 L425.51,222.04 L425.68,222.05 L425.84,222.05 L426.01,222.05 L426.17,222.05 L426.34,222.05 L426.5,222.04 L426.67,222.03 L426.84,222.01 L427,221.99 L427.17,221.97 L427.33,221.94 L427.5,221.91 L427.66,221.88 L427.83,221.84 L427.99,221.8 L428.16,221.75 L428.33,221.71 L428.49,221.65 L428.66,221.59 L428.82,221.53 L428.99,221.47 L429.15,221.4 L429.32,221.33 L429.48,221.25 L429.65,221.17 L429.82,221.08 L429.98,220.99 L430.15,220.9 L430.31,220.8 L430.48,220.7 L430.64,220.59 L430.81,220.49 L430.97,220.37 L431.14,220.26 L431.31,220.14 L431.47,220.01 L431.64,219.89 L431.8,219.76 L431.97,219.62 L432.13,219.49 L432.3,219.35 L432.46,219.21 L432.63,219.07 L432.8,218.92 L432.96,218.77 L433.13,218.62 L433.29,218.47 L433.46,218.32 L433.62,218.17 L433.79,218.02 L433.95,217.86 L434.12,217.71 L434.29,217.56 L434.45,217.4 L434.62,217.25 L434.78,217.1 L434.95,216.96 L435.11,216.81 L435.28,216.67 L435.44,216.53 L435.61,216.4 L435.78,216.26 L435.94,216.14 L436.11,216.02 L436.27,215.9 L436.44,215.79 L436.6,215.69 L436.77,215.59 L436.93,215.5 L437.1,215.42 L437.27,215.35 L437.43,215.28 L437.6,215.22 L437.76,215.17 L437.93,215.13 L438.09,215.1 L438.26,215.07 L438.42,215.06 L438.59,215.05 L438.76,215.05 L438.92,215.06 L439.09,215.07 L439.25,215.1 L439.42,215.13 L439.58,215.17 L439.75,215.21 L439.91,215.26 L440.08,215.33 L440.25,215.41 L440.41,215.5 L440.58,215.59 L440.74,215.68 L440.91,215.78 L441.07,215.89 L441.24,215.99 L441.4,216.1 L441.57,216.21 L441.74,216.32 L441.9,216.43 L442.07,216.55 L442.23,216.66 L442.4,216.78 L442.56,216.89 L442.73,217.01 L442.89,217.13 L443.06,217.24 L443.23,217.36 L443.39,217.47 L443.56,217.59 L443.72,217.7 L443.89,217.81 L444.05,217.92 L444.22,218.04 L444.38,218.14 L444.55,218.25 L444.72,218.36 L444.88,218.47 L445.05,218.57 L445.21,218.67 L445.38,218.78 L445.54,218.88 L445.71,218.98 L445.87,219.08 L446.04,219.18 L446.21,219.28 L446.37,219.38 L446.54,219.48 L446.7,219.57 L446.87,219.67 L447.03,219.77 L447.2,219.86 L447.36,219.96 L447.53,220.06 L447.7,220.16 L447.86,220.26 L448.03,220.35 L448.19,220.45 L448.36,220.55 L448.52,220.66 L448.69,220.76 L448.85,220.86 L449.02,220.97 L449.19,221.07 L449.35,221.18 L449.52,221.29 L449.68,221.4 L449.85,221.51 L450.01,221.62 L450.18,221.74 L450.34,221.85 L450.51,221.96 L450.68,222.07 L450.84,222.18 L451.01,222.29 L451.17,222.38 L451.34,222.47 L451.5,222.55 L451.67,222.61 L451.83,222.65 L452,222.66 L452.17,222.63 L452.33,222.57 L452.5,222.45 L452.66,222.26 L452.83,222 L452.99,221.65 L453.16,221.19 L453.32,220.62 L453.49,219.91 L453.66,219.05 L453.82,218.03 L453.99,216.84 L454.15,215.46 L454.32,213.9 L454.48,212.15 L454.65,210.22 L454.81,208.11 L454.98,205.85 L455.15,203.5 L455.31,201.05 L455.48,198.54 L455.64,196 L455.81,193.48 L455.97,191.04 L456.14,188.73 L456.3,186.6 L456.47,184.71 L456.64,183.1 L456.8,181.83 L456.97,180.92 L457.13,180.4 L457.3,180.29 L457.46,180.6 L457.63,181.33 L457.79,182.44 L457.96,183.93 L458.13,185.74 L458.29,187.83 L458.46,190.14 L458.62,192.62 L458.79,195.18 L458.95,197.77 L459.12,200.32 L459.28,202.75 L459.45,205 L459.62,207.01 L459.78,208.72 L459.95,210.09 L460.11,211.07 L460.28,211.64 L460.44,211.77 L460.61,211.46 L460.77,210.71 L460.94,209.55 L461.11,207.99 L461.27,206.09 L461.44,203.9 L461.6,201.49 L461.77,198.93 L461.93,196.32 L462.1,193.74 L462.26,191.29 L462.43,189.06 L462.6,187.12 L462.76,185.57 L462.93,184.46 L463.09,183.85 L463.26,183.76 L463.42,184.22 L463.59,185.22 L463.75,186.73 L463.92,188.72 L464.09,191.14 L464.25,193.92 L464.42,196.98 L464.58,200.26 L464.75,203.66 L464.91,207.11 L465.08,210.56 L465.24,213.95 L465.41,217.2 L465.58,220.27 L465.74,223.12 L465.91,225.73 L466.07,228.09 L466.24,230.21 L466.4,232.07 L466.57,233.7 L466.73,235.11 L466.9,236.32 L467.07,237.34 L467.23,238.21 L467.4,238.95 L467.56,239.56 L467.73,240.08 L467.89,240.52 L468.06,240.9 L468.22,241.22 L468.39,241.5 L468.56,241.75 L468.72,241.97 L468.89,242.17 L469.05,242.36 L469.22,242.53 L469.38,242.7 L469.55,242.86 L469.71,243.02 L469.88,243.17 L470.05,243.32 L470.21,243.46 L470.38,243.61 L470.54,243.75 L470.71,243.89 L470.87,244.02 L471.04,244.16 L471.2,244.29 L471.37,244.42 L471.54,244.55 L471.7,244.68 L471.87,244.8 L472.03,244.92 L472.2,245.04 L472.36,245.16 L472.53,245.27 L472.69,245.38 L472.86,245.49 L473.03,245.57 L473.19,245.58 L473.36,245.59 L473.52,245.59 L473.69,245.59 L473.85,245.59 L474.02,245.57 L474.18,245.56 L474.35,245.54 L474.52,245.51 L474.68,245.48 L474.85,245.44 L475.01,245.4 L475.18,245.35 L475.34,245.3 L475.51,245.23 L475.67,245.16 L475.84,245.09 L476.01,245.01 L476.17,244.91 L476.34,244.82 L476.5,244.71 L476.67,244.59 L476.83,244.47 L477,244.34 L477.16,244.2 L477.33,244.05 L477.5,243.89 L477.66,243.72 L477.83,243.54 L477.99,243.35 L478.16,243.16 L478.32,242.95 L478.49,242.74 L478.65,242.51 L478.82,242.28 L478.99,242.03 L479.15,241.78 L479.32,241.51 L479.48,241.24 L479.65,240.96 L479.81,240.67 L479.98,240.37 L480.14,240.06 L480.31,239.75 L480.48,239.43 L480.64,239.1 L480.81,238.76 L480.97,238.42 L481.14,238.07 L481.3,237.71 L481.47,237.35 L481.63,236.99 L481.8,236.62 L481.97,236.25 L482.13,235.87 L482.3,235.49 L482.46,235.1 L482.63,234.72 L482.79,234.34 L482.96,233.96 L483.12,233.58 L483.29,233.2 L483.46,232.83 L483.62,232.46 L483.79,232.1 L483.95,231.75 L484.12,231.4 L484.28,231.06 L484.45,230.73 L484.61,230.42 L484.78,230.11 L484.95,229.81 L485.11,229.53 L485.28,229.26 L485.44,229 L485.61,228.76 L485.77,228.54 L485.94,228.33 L486.1,228.14 L486.27,227.96 L486.44,227.81 L486.6,227.67 L486.77,227.55 L486.93,227.44 L487.1,227.36 L487.26,227.3 L487.43,227.25 L487.59,227.23 L487.76,227.22 L487.93,227.24 L488.09,227.27 L488.26,227.32 L488.42,227.39 L488.59,227.48 L488.75,227.59 L488.92,227.71 L489.08,227.85 L489.25,228.01 L489.42,228.18 L489.58,228.37 L489.75,228.56 L489.91,228.78 L490.08,229 L490.24,229.23 L490.41,229.48 L490.57,229.73 L490.74,229.98 L490.91,230.25 L491.07,230.54 L491.24,230.86 L491.4,231.18 L491.57,231.5 L491.73,231.82 L491.9,232.14 L492.06,232.46 L492.23,232.77 L492.4,233.08 L492.56,233.37 L492.73,233.66 L492.89,233.94 L493.06,234.21 L493.22,234.46 L493.39,234.7 L493.55,234.93 L493.72,235.14 L493.89,235.33 L494.05,235.51 L494.22,235.67 L494.38,235.81 L494.55,235.93 L494.71,236.03 L494.88,236.11 L495.04,236.17 L495.21,236.21 L495.38,236.23 L495.54,236.23 L495.71,236.21 L495.87,236.16 L496.04,236.1 L496.2,236.02 L496.37,235.93 L496.53,235.81 L496.7,235.68 L496.87,235.53 L497.03,235.37 L497.2,235.2 L497.36,235.01 L497.53,234.82 L497.69,234.62 L497.86,234.4 L498.02,234.19 L498.19,233.96 L498.36,233.74 L498.52,233.51 L498.69,233.29 L498.85,233.06 L499.02,232.84 L499.18,232.62 L499.35,232.4 L499.51,232.19 L499.68,231.99 L499.85,231.78 L500.01,231.59 L500.18,231.39 L500.34,231.2 L500.51,231.01 L500.67,230.81 L500.84,230.61 L501,230.4 L501.17,230.18 L501.34,229.95 L501.5,229.69 L501.67,229.4 L501.83,229.09 L502,228.73 L502.16,228.35 L502.33,227.92 L502.49,227.43 L502.66,226.88 L502.83,226.27 L502.99,225.58 L503.16,224.81 L503.32,223.97 L503.49,223.05 L503.65,222.05 L503.82,220.97 L503.98,219.83 L504.15,218.61 L504.32,217.34 L504.48,216.02 L504.65,214.67 L504.81,213.29 L504.98,211.92 L505.14,210.56 L505.31,209.23 L505.47,207.96 L505.64,206.76 L505.81,205.67 L505.97,204.69 L506.14,203.86 L506.3,203.18 L506.47,202.68 L506.63,202.37 L506.8,202.27 L506.96,202.39 L507.13,202.73 L507.3,203.3 L507.46,204.09 L507.63,205.11 L507.79,206.35 L507.96,207.8 L508.12,209.44 L508.29,211.26 L508.45,213.24 L508.62,215.37 L508.79,217.61 L508.95,219.95 L509.12,222.3 L509.28,224.69 L509.45,227.1 L509.61,229.51 L509.78,231.91 L509.94,234.27 L510.11,236.58 L510.28,238.82 L510.44,240.97 L510.61,243.04 L510.77,244.99 L510.94,246.84 L511.1,248.58 L511.27,250.19 L511.43,251.69 L511.6,253.07 L511.77,254.33 L511.93,255.49 L512.1,256.53 L512.26,257.48 L512.43,258.33 L512.59,259.09 L512.76,259.77 L512.92,260.37 L513.09,260.9 L513.26,261.38 L513.42,261.79 L513.59,262.16 L513.75,262.48 L513.92,262.76 L514.08,263.01 L514.25,263.23 L514.41,263.42 L514.58,263.59 L514.75,263.74 L514.91,263.87 L515.08,263.99 L515.24,264.1 L515.41,264.2 L515.57,264.28 L515.74,264.37 L515.9,264.44 L516.07,264.5 L516.24,264.53 L516.4,264.57 L516.57,264.6 L516.73,264.62 L516.9,264.65 L517.06,264.67 L517.23,264.69 L517.39,264.71 L517.56,264.73 L517.73,264.74 L517.89,264.76 L518.06,264.77 L518.22,264.79 L518.39,264.8 L518.55,264.81 L518.72,264.83 L518.88,264.84 L519.05,264.85 L519.22,264.86 L519.38,264.87 L519.55,264.89 L519.71,264.9 L519.88,264.91 L520.04,264.92 L520.21,264.93 L520.37,264.94 L520.54,264.95 L520.71,264.96 L520.87,264.97 L521.04,264.98 L521.2,264.99 L521.37,265 L521.53,265.01 L521.7,265.02 L521.86,265.03 L522.03,265.04 L522.2,265.05 L522.36,265.06 L522.53,265.07 L522.69,265.08 L522.86,265.09 L523.02,265.09 L523.19,265.1 L523.35,265.11 L523.52,265.12 L523.69,265.13 L523.85,265.14 L524.02,265.15 L524.18,265.16 L524.35,265.17 L524.51,265.18 L524.68,265.19 L524.84,265.2 L525.01,265.21 L525.18,265.21 L525.34,265.22 L525.51,265.22 L525.67,265.23 L525.84,265.23 L526,265.24 L526.17,265.24 L526.33,265.25 L526.5,265.25 L526.67,265.26 L526.83,265.26 L527,265.27 L527.16,265.27 L527.33,265.28 L527.49,265.29 L527.66,265.29 L527.82,265.3 L527.99,265.3 L528.16,265.31 L528.32,265.31 L528.49,265.32 L528.65,265.32 L528.82,265.33 L528.98,265.33 L529.15,265.34 L529.31,265.34 L529.48,265.35 L529.65,265.35 L529.81,265.36 L529.98,265.36 L530.14,265.37 L530.31,265.37 L530.47,265.38 L530.64,265.38 L530.8,265.39 L530.97,265.39 L531.14,265.4 L531.3,265.4 L531.47,265.41 L531.63,265.41 L531.8,265.42 L531.96,265.42 L532.13,265.43 L532.29,265.43 L532.46,265.44 L532.63,265.44 L532.79,265.45 L532.96,265.45 L533.12,265.46 L533.29,265.46 L533.45,265.47 L533.62,265.47 L533.78,265.48 L533.95,265.48 L534.12,265.49 L534.28,265.49 L534.45,265.5 L534.61,265.5 L534.78,265.51 L534.94,265.51 L535.11,265.52 L535.27,265.52 L535.44,265.53 L535.61,265.53 L535.77,265.54 L535.94,265.54 L536.1,265.55 L536.27,265.55 L536.43,265.56 L536.6,265.56 L536.76,265.57 L536.93,265.57 L537.1,265.58 L537.26,265.58 L537.43,265.59 L537.59,265.6 L537.76,265.6 L537.92,265.61 L538.09,265.61 L538.25,265.62 L538.42,265.62 L538.59,265.63 L538.75,265.63 L538.92,265.64 L539.08,265.64 L539.25,265.65 L539.41,265.65 L539.58,265.66 L539.74,265.66 L539.91,265.67 L540.08,265.67 L540.24,265.68 L540.41,265.68 L540.57,265.69 L540.74,265.69 L540.9,265.7 L541.07,265.7 L541.23,265.71 L541.4,265.71" fill="none" stroke="#4f7fdc" stroke-width="0.95" stroke-linejoin="round" />
<path d="M404,219.55 L404.15,219.53 L404.3,219.51 L404.45,219.49 L404.6,219.47 L404.75,219.44 L404.9,219.41 L405.05,219.38 L405.2,219.35 L405.35,219.31 L405.5,219.27 L405.65,219.23 L405.8,219.18 L405.95,219.13 L406.1,219.07 L406.25,219.02 L406.4,218.95 L406.55,218.88 L406.7,218.81 L406.85,218.73 L407,218.64 L407.15,218.55 L407.3,218.44 L407.45,218.33 L407.6,218.21 L407.75,218.08 L407.9,217.93 L408.05,217.78 L408.2,217.6 L408.35,217.41 L408.5,217.2 L408.65,216.97 L408.8,216.71 L408.95,216.43 L409.1,216.11 L409.25,215.76 L409.4,215.37 L409.55,214.93 L409.7,214.45 L409.85,213.91 L410,213.31 L410.15,212.65 L410.3,211.91 L410.45,211.1 L410.6,210.2 L410.75,209.22 L410.9,208.13 L411.05,206.95 L411.2,205.66 L411.35,204.27 L411.5,202.77 L411.65,201.16 L411.8,199.47 L411.95,197.69 L412.1,195.84 L412.25,193.96 L412.4,192.07 L412.55,190.22 L412.7,188.48 L412.85,186.9 L413,185.55 L413.15,184.5 L413.3,183.8 L413.45,183.51 L413.6,183.64 L413.75,184.18 L413.9,185.1 L414.05,186.35 L414.2,187.88 L414.35,189.6 L414.5,191.45 L414.65,193.38 L414.8,195.33 L414.95,197.25 L415.1,199.13 L415.25,200.93 L415.4,202.64 L415.55,204.25 L415.7,205.75 L415.85,207.16 L416,208.45 L416.15,209.64 L416.3,210.74 L416.45,211.74 L416.6,212.65 L416.75,213.48 L416.9,214.24 L417.05,214.92 L417.2,215.54 L417.35,216.11 L417.5,216.62 L417.65,217.08 L417.8,217.5 L417.95,217.89 L418.1,218.24 L418.25,218.56 L418.4,218.85 L418.55,219.12 L418.7,219.38 L418.85,219.61 L419,219.82 L419.15,220.02 L419.3,220.21 L419.45,220.39 L419.6,220.56 L419.75,220.71 L419.9,220.86 L420.05,221 L420.2,221.14 L420.35,221.26 L420.5,221.38 L420.65,221.5 L420.8,221.61 L420.95,221.72 L421.1,221.82 L421.25,221.92 L421.4,222.01 L421.55,222.1 L421.7,222.19 L421.85,222.28 L422,222.36 L422.15,222.44 L422.3,222.52 L422.45,222.59 L422.6,222.66 L422.75,222.73 L422.9,222.8 L423.05,222.87 L423.2,222.94 L423.35,223 L423.5,223.06 L423.65,223.12 L423.8,223.18 L423.95,223.24 L424.1,223.3 L424.25,223.35 L424.4,223.41 L424.55,223.46 L424.7,223.51 L424.85,223.56 L425,223.62 L425.15,223.67 L425.3,223.72 L425.45,223.78 L425.6,223.83 L425.75,223.88 L425.9,223.93 L426.05,223.98 L426.2,224.03 L426.35,224.08 L426.5,224.12 L426.65,224.17 L426.8,224.22 L426.95,224.26 L427.1,224.31 L427.25,224.36 L427.4,224.4 L427.55,224.45 L427.7,224.49 L427.85,224.53 L428,224.58 L428.15,224.62 L428.3,224.66 L428.45,224.71 L428.6,224.75 L428.75,224.79 L428.9,224.83 L429.05,224.87 L429.2,224.91 L429.35,224.96 L429.5,225 L429.65,225.04 L429.8,225.08 L429.95,225.12 L430.1,225.16 L430.25,225.2 L430.4,225.24 L430.55,225.28 L430.7,225.31 L430.85,225.35 L431,225.39 L431.15,225.43 L431.3,225.47 L431.45,225.51 L431.6,225.54 L431.75,225.58 L431.9,225.62 L432.05,225.66 L432.2,225.7 L432.35,225.73 L432.5,225.77 L432.65,225.81 L432.8,225.84 L432.95,225.88 L433.1,225.92 L433.25,225.95 L433.4,225.99 L433.55,226.03 L433.7,226.06 L433.85,226.1 L434,226.14" fill="none" stroke="#5cd08a" stroke-width="1.2" stroke-linejoin="round" />
<circle cx="393.4" cy="215.44" r="0.4" fill="#888"/>
<circle cx="395.5" cy="216.56" r="0.4" fill="#888"/>
<circle cx="397.6" cy="216.98" r="0.4" fill="#888"/>
<circle cx="399.7" cy="217.62" r="0.4" fill="#888"/>
<circle cx="401.8" cy="216.85" r="0.4" fill="#888"/>
<circle cx="403.9" cy="217.04" r="0.4" fill="#888"/>
<circle cx="406" cy="216.65" r="0.4" fill="#888"/>
<circle cx="408.1" cy="215.56" r="0.4" fill="#888"/>
<circle cx="410.2" cy="211.21" r="0.4" fill="#888"/>
<circle cx="412.3" cy="191.28" r="0.4" fill="#888"/>
<circle cx="414.4" cy="188.9" r="0.4" fill="#888"/>
<circle cx="416.5" cy="210.3" r="0.4" fill="#888"/>
<circle cx="418.6" cy="217.62" r="0.4" fill="#888"/>
<circle cx="420.7" cy="220.12" r="0.4" fill="#888"/>
<circle cx="422.8" cy="221.85" r="0.4" fill="#888"/>
<circle cx="424.9" cy="221.95" r="0.4" fill="#888"/>
<circle cx="427" cy="221.02" r="0.4" fill="#888"/>
<circle cx="429.1" cy="220.86" r="0.4" fill="#888"/>
<circle cx="431.2" cy="219.45" r="0.4" fill="#888"/>
<circle cx="433.3" cy="218.86" r="0.4" fill="#888"/>
<circle cx="435.4" cy="216.86" r="0.4" fill="#888"/>
<circle cx="437.5" cy="215.54" r="0.4" fill="#888"/>
<circle cx="439.6" cy="215.49" r="0.4" fill="#888"/>
<circle cx="441.7" cy="216.49" r="0.4" fill="#888"/>
<circle cx="443.8" cy="218.27" r="0.4" fill="#888"/>
<circle cx="445.9" cy="219.37" r="0.4" fill="#888"/>
<circle cx="448" cy="219.75" r="0.4" fill="#888"/>
<circle cx="450.1" cy="222.04" r="0.4" fill="#888"/>
<circle cx="452.2" cy="222.4" r="0.4" fill="#888"/>
<circle cx="454.3" cy="214.29" r="0.4" fill="#888"/>
<circle cx="456.4" cy="185.38" r="0.4" fill="#888"/>
<circle cx="458.5" cy="190.46" r="0.4" fill="#888"/>
<circle cx="460.6" cy="211.07" r="0.4" fill="#888"/>
<circle cx="462.7" cy="185.78" r="0.4" fill="#888"/>
<circle cx="464.8" cy="204.25" r="0.4" fill="#888"/>
<circle cx="466.9" cy="235.5" r="0.4" fill="#888"/>
<circle cx="469" cy="242.61" r="0.4" fill="#888"/>
<circle cx="471.1" cy="244.48" r="0.4" fill="#888"/>
<circle cx="473.2" cy="246.16" r="0.4" fill="#888"/>
<circle cx="475.3" cy="245.42" r="0.4" fill="#888"/>
<circle cx="477.4" cy="243.87" r="0.4" fill="#888"/>
<circle cx="479.5" cy="241.41" r="0.4" fill="#888"/>
<circle cx="481.6" cy="236.28" r="0.4" fill="#888"/>
<circle cx="483.7" cy="232.37" r="0.4" fill="#888"/>
<circle cx="485.8" cy="228.21" r="0.4" fill="#888"/>
<circle cx="487.9" cy="226.52" r="0.4" fill="#888"/>
<circle cx="490" cy="228.22" r="0.4" fill="#888"/>
<circle cx="492.1" cy="232.36" r="0.4" fill="#888"/>
<circle cx="494.2" cy="235.06" r="0.4" fill="#888"/>
<circle cx="496.3" cy="235.7" r="0.4" fill="#888"/>
<circle cx="498.4" cy="233.65" r="0.4" fill="#888"/>
<circle cx="500.5" cy="230.65" r="0.4" fill="#888"/>
<circle cx="502.6" cy="226.3" r="0.4" fill="#888"/>
<circle cx="504.7" cy="214.01" r="0.4" fill="#888"/>
<circle cx="506.8" cy="201.65" r="0.4" fill="#888"/>
<circle cx="508.9" cy="218.59" r="0.4" fill="#888"/>
<circle cx="511" cy="246.82" r="0.4" fill="#888"/>
<circle cx="513.1" cy="260.52" r="0.4" fill="#888"/>
<circle cx="515.2" cy="263.19" r="0.4" fill="#888"/>
<circle cx="517.3" cy="264.74" r="0.4" fill="#888"/>
<circle cx="519.4" cy="265.4" r="0.4" fill="#888"/>
<circle cx="521.5" cy="264.63" r="0.4" fill="#888"/>
<circle cx="523.6" cy="265.28" r="0.4" fill="#888"/>
<circle cx="525.7" cy="265.72" r="0.4" fill="#888"/>
<circle cx="527.8" cy="264.36" r="0.4" fill="#888"/>
<circle cx="529.9" cy="264.59" r="0.4" fill="#888"/>
<circle cx="532" cy="265.71" r="0.4" fill="#888"/>
<circle cx="534.1" cy="265.83" r="0.4" fill="#888"/>
<circle cx="536.2" cy="265.57" r="0.4" fill="#888"/>
<circle cx="538.3" cy="264.87" r="0.4" fill="#888"/>
<rect x="391.8" y="159.4" width="150.2" height="116.9" fill="none" stroke="#5c5c5c" stroke-width="1.25"/>
<line x1="542" y1="276.3" x2="542" y2="273.7" stroke="#5c5c5c" stroke-width="0.8" />
<text x="542" y="285.3" font-size="7.9" font-weight="bold" text-anchor="middle" fill="#111" stroke="#111" stroke-width="0.18" >870</text>
<line x1="528.35" y1="276.3" x2="528.35" y2="274.8" stroke="#5c5c5c" stroke-width="0.8" />
<line x1="514.69" y1="276.3" x2="514.69" y2="273.7" stroke="#5c5c5c" stroke-width="0.8" />
<text x="514.69" y="285.3" font-size="7.9" font-weight="bold" text-anchor="middle" fill="#111" stroke="#111" stroke-width="0.18" >880</text>
<line x1="501.04" y1="276.3" x2="501.04" y2="274.8" stroke="#5c5c5c" stroke-width="0.8" />
<line x1="487.38" y1="276.3" x2="487.38" y2="273.7" stroke="#5c5c5c" stroke-width="0.8" />
<text x="487.38" y="285.3" font-size="7.9" font-weight="bold" text-anchor="middle" fill="#111" stroke="#111" stroke-width="0.18" >890</text>
<line x1="473.73" y1="276.3" x2="473.73" y2="274.8" stroke="#5c5c5c" stroke-width="0.8" />
<line x1="460.07" y1="276.3" x2="460.07" y2="273.7" stroke="#5c5c5c" stroke-width="0.8" />
<text x="460.07" y="285.3" font-size="7.9" font-weight="bold" text-anchor="middle" fill="#111" stroke="#111" stroke-width="0.18" >900</text>
<line x1="446.42" y1="276.3" x2="446.42" y2="274.8" stroke="#5c5c5c" stroke-width="0.8" />
<line x1="432.76" y1="276.3" x2="432.76" y2="273.7" stroke="#5c5c5c" stroke-width="0.8" />
<text x="432.76" y="285.3" font-size="7.9" font-weight="bold" text-anchor="middle" fill="#111" stroke="#111" stroke-width="0.18" >910</text>
<line x1="419.11" y1="276.3" x2="419.11" y2="274.8" stroke="#5c5c5c" stroke-width="0.8" />
<line x1="405.45" y1="276.3" x2="405.45" y2="273.7" stroke="#5c5c5c" stroke-width="0.8" />
<text x="405.45" y="285.3" font-size="7.9" font-weight="bold" text-anchor="middle" fill="#111" stroke="#111" stroke-width="0.18" >920</text>
<line x1="391.8" y1="276.3" x2="391.8" y2="274.8" stroke="#5c5c5c" stroke-width="0.8" />
<text x="398.9" y="175.9" font-size="12.5" font-weight="normal" text-anchor="start" fill="#111" stroke="#111" stroke-width="0.1" >(f)</text>
<text x="516.2" y="169.8" font-size="7.8" font-weight="bold" text-anchor="start" fill="#111" stroke="#111" stroke-width="0.18" >Ce 3d</text>
<text x="421.9" y="185.3" font-size="7.7" font-weight="bold" text-anchor="start" fill="#111" stroke="#111" stroke-width="0.18" >U</text>
<line x1="428.61" y1="179.6" x2="428.41" y2="181.7" stroke="#111" stroke-width="0.95" />
<line x1="430.41" y1="179.6" x2="430.21" y2="181.7" stroke="#111" stroke-width="0.95" />
<line x1="432.21" y1="179.6" x2="432.01" y2="181.7" stroke="#111" stroke-width="0.95" />
<line x1="414.8" y1="182.4" x2="418.7" y2="182.4" stroke="#111" stroke-width="0.8" />
<path d="M421,182.4 L418.4,183.7 L418.4,181.1 Z" fill="#111"/>
<text x="434.2" y="204.7" font-size="7.7" font-weight="bold" text-anchor="start" fill="#111" stroke="#111" stroke-width="0.18" >U</text>
<line x1="440.91" y1="199" x2="440.71" y2="201.1" stroke="#111" stroke-width="0.95" />
<line x1="442.71" y1="199" x2="442.51" y2="201.1" stroke="#111" stroke-width="0.95" />
<line x1="438.4" y1="214.5" x2="438.4" y2="210.7" stroke="#111" stroke-width="0.8" />
<path d="M438.4,208.4 L439.7,211 L437.1,211 Z" fill="#111"/>
<text x="454.6" y="181.7" font-size="7.7" font-weight="bold" text-anchor="start" fill="#111" stroke="#111" stroke-width="0.18" >U</text>
<line x1="456.6" y1="197" x2="456.6" y2="187.6" stroke="#111" stroke-width="0.8" />
<path d="M456.6,185.3 L457.9,187.9 L455.3,187.9 Z" fill="#111"/>
<text x="468.2" y="192" font-size="7.7" font-weight="bold" text-anchor="start" fill="#111" stroke="#111" stroke-width="0.18" >V</text>
<line x1="474.49" y1="186.3" x2="474.29" y2="188.4" stroke="#111" stroke-width="0.95" />
<line x1="476.29" y1="186.3" x2="476.09" y2="188.4" stroke="#111" stroke-width="0.95" />
<line x1="478.09" y1="186.3" x2="477.89" y2="188.4" stroke="#111" stroke-width="0.95" />
<line x1="465.2" y1="200.5" x2="467.28" y2="195.71" stroke="#111" stroke-width="0.8" />
<path d="M468.2,193.6 L468.36,196.5 L465.97,195.47 Z" fill="#111"/>
<text x="485" y="213.5" font-size="7.7" font-weight="bold" text-anchor="start" fill="#111" stroke="#111" stroke-width="0.18" >V</text>
<line x1="491.29" y1="207.8" x2="491.09" y2="209.9" stroke="#111" stroke-width="0.95" />
<line x1="493.09" y1="207.8" x2="492.89" y2="209.9" stroke="#111" stroke-width="0.95" />
<line x1="487.9" y1="227.2" x2="487.9" y2="219.1" stroke="#111" stroke-width="0.8" />
<path d="M487.9,216.8 L489.2,219.4 L486.6,219.4 Z" fill="#111"/>
<text x="504.6" y="193.9" font-size="7.7" font-weight="bold" text-anchor="start" fill="#111" stroke="#111" stroke-width="0.18" >V</text>
<line x1="506.8" y1="201.8" x2="506.8" y2="199.6" stroke="#111" stroke-width="0.8" />
<path d="M506.8,197.3 L508.1,199.9 L505.5,199.9 Z" fill="#111"/>
<text x="444.3" y="252.3" font-size="7.7" font-weight="bold" text-anchor="start" fill="#111" stroke="#111" stroke-width="0.18" >U</text>
<line x1="451.01" y1="246.6" x2="450.81" y2="248.7" stroke="#111" stroke-width="0.95" />
<line x1="449.8" y1="227.4" x2="448.35" y2="240.91" stroke="#111" stroke-width="0.8" />
<path d="M448.1,243.2 L447.09,240.48 L449.67,240.75 Z" fill="#111"/>
<text x="515.8" y="234.3" font-size="7.7" font-weight="bold" text-anchor="start" fill="#111" stroke="#111" stroke-width="0.18" >V</text>
<line x1="522.09" y1="228.6" x2="521.89" y2="230.7" stroke="#111" stroke-width="0.95" />
<line x1="499.8" y1="237.6" x2="512.34" y2="233.08" stroke="#111" stroke-width="0.8" />
<path d="M514.5,232.3 L512.5,234.4 L511.61,231.96 Z" fill="#111"/>
<text transform="translate(381.7,211.4) rotate(-90)" font-size="9.7" font-weight="bold" text-anchor="middle" fill="#111" stroke="#111" stroke-width="0.18">Intensity (a.u.)</text>
<text x="419.8" y="299.6" font-size="9.85" font-weight="bold" text-anchor="start" fill="#111" stroke="#111" stroke-width="0.18" >Binding Energy (eV)</text>
</svg></body></html>
